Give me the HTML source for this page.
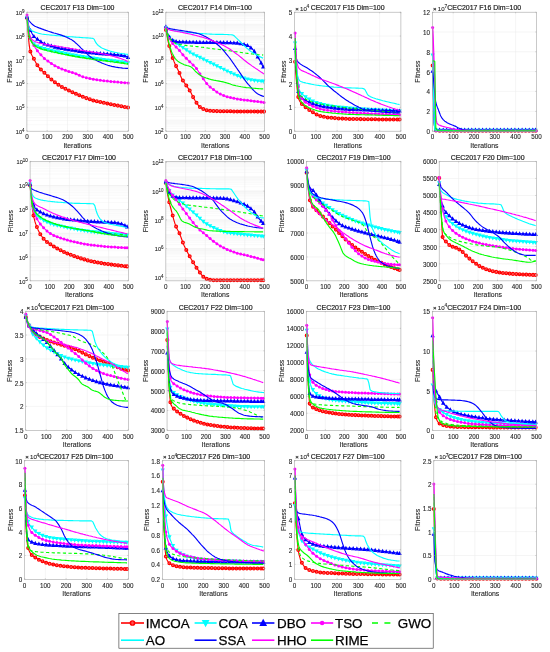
<!DOCTYPE html>
<html lang="en"><head><meta charset="utf-8"><title>CEC2017 convergence curves</title>
<style>html,body{margin:0;padding:0;background:#fff}svg{display:block}text{stroke:#1f1f1f;stroke-width:.1px}#legend text{stroke:#000;stroke-width:.25px}text.t{stroke-width:.2px}path.mIMCOA,path.mCOA,path.mDBO,path.mTSO{fill:none;stroke:none}path.mIMCOA{marker-start:url(#mkIMCOA);marker-mid:url(#mkIMCOA);marker-end:url(#mkIMCOA)}path.mCOA{marker-start:url(#mkCOA);marker-mid:url(#mkCOA);marker-end:url(#mkCOA)}path.mDBO{marker-start:url(#mkDBO);marker-mid:url(#mkDBO);marker-end:url(#mkDBO)}path.mTSO{marker-start:url(#mkTSO);marker-mid:url(#mkTSO);marker-end:url(#mkTSO)}</style></head><body>
<svg width="550" height="652" viewBox="0 0 550 652" font-family="'Liberation Sans', sans-serif">
<rect width="550" height="652" fill="#ffffff"/>
<defs><marker id="mkIMCOA" markerWidth="8" markerHeight="8" refX="4" refY="4" markerUnits="userSpaceOnUse" orient="0"><circle cx="4" cy="4" r="1.4" fill="#fff" fill-opacity="0.15" stroke="#ff0000" stroke-width="1.25"/></marker><marker id="mkCOA" markerWidth="8" markerHeight="8" refX="4" refY="4" markerUnits="userSpaceOnUse" orient="0"><path d="M4 6.4L6.16 2.32L1.84 2.32Z" fill="#00ffff"/></marker><marker id="mkDBO" markerWidth="8" markerHeight="8" refX="4" refY="4" markerUnits="userSpaceOnUse" orient="0"><path d="M4 1.6L6.16 5.68L1.84 5.68Z" fill="#0000ff"/></marker><marker id="mkTSO" markerWidth="8" markerHeight="8" refX="4" refY="4" markerUnits="userSpaceOnUse" orient="0"><circle cx="4" cy="4" r="1.5" fill="#ff00ff"/></marker><clipPath id="c1"><rect x="24.7" y="10" width="105.8" height="123.4"/></clipPath><clipPath id="c2"><rect x="163.65" y="10" width="103.05" height="123.4"/></clipPath><clipPath id="c3"><rect x="292.4" y="10" width="110.7" height="123.4"/></clipPath><clipPath id="c4"><rect x="430.2" y="10" width="108.4" height="123.4"/></clipPath><clipPath id="c5"><rect x="27.9" y="159.2" width="102.6" height="123.85"/></clipPath><clipPath id="c6"><rect x="163.65" y="159.2" width="103.05" height="123.85"/></clipPath><clipPath id="c7"><rect x="304.4" y="159.2" width="98.7" height="123.85"/></clipPath><clipPath id="c8"><rect x="437" y="159.2" width="101.6" height="123.85"/></clipPath><clipPath id="c9"><rect x="23.5" y="309.1" width="107" height="123.4"/></clipPath><clipPath id="c10"><rect x="164.85" y="309.1" width="101.85" height="123.4"/></clipPath><clipPath id="c11"><rect x="304.2" y="309.1" width="98.9" height="123.4"/></clipPath><clipPath id="c12"><rect x="430.2" y="309.1" width="108.4" height="123.4"/></clipPath><clipPath id="c13"><rect x="22.4" y="458.4" width="108.1" height="123.1"/></clipPath><clipPath id="c14"><rect x="160.2" y="458.4" width="106.5" height="123.1"/></clipPath><clipPath id="c15"><rect x="292.4" y="458.4" width="110.7" height="123.1"/></clipPath><clipPath id="c16"><rect x="431.6" y="458.4" width="107" height="123.1"/></clipPath></defs>
<g id="sp1">
<rect x="26.9" y="12.2" width="101.4" height="119" fill="#fff"/>
<path d="M26.9 28.94H128.3M26.9 24.72H128.3M26.9 21.73H128.3M26.9 19.41H128.3M26.9 17.51H128.3M26.9 15.91H128.3M26.9 14.52H128.3M26.9 13.3H128.3M26.9 52.89H128.3M26.9 48.67H128.3M26.9 45.68H128.3M26.9 43.36H128.3M26.9 41.46H128.3M26.9 39.86H128.3M26.9 38.47H128.3M26.9 37.25H128.3M26.9 36.15H128.3M26.9 76.84H128.3M26.9 72.63H128.3M26.9 69.63H128.3M26.9 67.31H128.3M26.9 65.42H128.3M26.9 63.81H128.3M26.9 62.42H128.3M26.9 61.2H128.3M26.9 60.1H128.3M26.9 100.8H128.3M26.9 96.58H128.3M26.9 93.58H128.3M26.9 91.26H128.3M26.9 89.37H128.3M26.9 87.76H128.3M26.9 86.37H128.3M26.9 85.15H128.3M26.9 84.05H128.3M26.9 124.75H128.3M26.9 120.53H128.3M26.9 117.54H128.3M26.9 115.22H128.3M26.9 113.32H128.3M26.9 111.72H128.3M26.9 110.33H128.3M26.9 109.1H128.3M26.9 108.01H128.3" stroke="#f2f2f2" stroke-width="0.45" fill="none"/>
<path d="M47.18 12.2V131.2M67.46 12.2V131.2M87.74 12.2V131.2M108.02 12.2V131.2M26.9 36.15H128.3M26.9 59.85H128.3M26.9 83.55H128.3M26.9 107.25H128.3" stroke="#ececec" stroke-width="0.55" fill="none"/>
<g clip-path="url(#c1)">
<path d="M27 18L27.5 26L28.1 32.7L28.6 38.7L29.1 44.1L29.7 48.3L30.2 50.7L30.7 52.5L31.3 53.9L31.8 55L32.3 56L32.9 57L33.4 57.9L33.9 58.9L34.5 59.9L35 61L36.3 63.6L37.7 65.7L39 67.5L40.4 69L41.7 70.3L43.1 71.6L44.4 72.8L45.8 74.1L47.1 75.5L48.5 76.8L49.8 78.1L51.2 79.3L52.5 80.4L53.9 81.5L55.2 82.5L56.6 83.5L57.9 84.4L59.3 85.3L60.6 86.2L62 87L63.3 87.7L64.7 88.5L66 89.2L67.3 89.8L68.7 90.5L70 91.1L71.4 91.7L72.7 92.3L74.1 93L75.4 93.6L76.8 94.2L78.1 94.8L79.5 95.4L80.8 95.9L82.2 96.5L83.5 97L84.9 97.5L86.2 98L87.6 98.5L88.9 99L90.3 99.5L91.6 99.9L93 100.3L94.3 100.6L95.7 101L97 101.3L98.3 101.6L99.7 101.9L101 102.2L102.4 102.5L103.7 102.8L105.1 103L106.4 103.3L107.8 103.6L109.1 103.8L110.5 104.1L111.8 104.4L113.2 104.6L114.5 104.9L115.9 105.2L117.2 105.5L118.6 105.7L119.9 106L121.3 106.3L122.6 106.5L124 106.7L125.3 107L126.7 107.2L128 107.4" fill="none" stroke="#ff0000" stroke-width="1.15" stroke-linejoin="round"/>
<path class="mIMCOA" d="M27 18L30.4 51.4L33.9 58.8L37.4 65.3L40.9 69.5L44.4 72.8L47.9 76.2L51.4 79.5L54.9 82.2L58.4 84.7L61.9 86.9L65.4 88.8L68.9 90.5L72.4 92.2L75.9 93.8L79.3 95.3L82.8 96.7L86.3 98.1L89.8 99.3L93.3 100.4L96.8 101.2L100.3 102L103.8 102.8L107.3 103.5L110.8 104.2L114.3 104.9L117.8 105.6L121.3 106.3L124.8 106.9L128 107.4"/>
<path d="M27 18L27.5 23.4L28.1 28.1L28.6 31.9L29.1 34.6L29.7 36.6L30.2 38.2L30.7 39.5L31.3 40.5L31.8 41.4L32.3 42.2L32.9 42.9L33.4 43.5L33.9 43.9L34.5 44.4L35 44.7L36.3 45.6L37.7 46.3L39 46.9L40.4 47.4L41.7 47.9L43.1 48.4L44.4 48.8L45.8 49.1L47.1 49.5L48.5 49.8L49.8 50.1L51.2 50.4L52.5 50.7L53.9 51L55.2 51.3L56.6 51.6L57.9 51.9L59.3 52.2L60.6 52.5L62 52.8L63.3 53.1L64.7 53.3L66 53.6L67.3 53.9L68.7 54.2L70 54.4L71.4 54.7L72.7 55L74.1 55.2L75.4 55.5L76.8 55.7L78.1 55.9L79.5 56.2L80.8 56.4L82.2 56.6L83.5 56.8L84.9 57L86.2 57.2L87.6 57.4L88.9 57.6L90.3 57.8L91.6 58L93 58.2L94.3 58.4L95.7 58.6L97 58.7L98.3 58.9L99.7 59.1L101 59.3L102.4 59.5L103.7 59.6L105.1 59.8L106.4 60L107.8 60.1L109.1 60.3L110.5 60.5L111.8 60.6L113.2 60.8L114.5 61L115.9 61.2L117.2 61.3L118.6 61.5L119.9 61.7L121.3 61.9L122.6 62.1L124 62.3L125.3 62.5L126.7 62.8L128 63" fill="none" stroke="#00ffff" stroke-width="1.15" stroke-linejoin="round"/>
<path class="mCOA" d="M27 18L30.4 38.7L33.9 43.9L37.4 46.1L40.9 47.6L44.4 48.7L47.9 49.6L51.4 50.5L54.9 51.3L58.4 52L61.9 52.8L65.4 53.5L68.9 54.2L72.4 54.9L75.9 55.5L79.3 56.2L82.8 56.7L86.3 57.3L89.8 57.8L93.3 58.2L96.8 58.7L100.3 59.2L103.8 59.6L107.3 60.1L110.8 60.5L114.3 61L117.8 61.4L121.3 61.9L124.8 62.4L128 63"/>
<path d="M27 17L27.5 20.3L28.1 23.2L28.6 25.6L29.1 27.4L29.7 28.8L30.2 30L30.7 31L31.3 32L31.8 33L32.3 34L32.9 35L33.4 35.8L33.9 36.4L34.5 37L35 37.4L36.3 38.4L37.7 39.3L39 40.3L40.4 41.3L41.7 42.2L43.1 43L44.4 43.7L45.8 44.3L47.1 44.7L48.5 45.1L49.8 45.4L51.2 45.9L52.5 46.3L53.9 46.7L55.2 47.1L56.6 47.4L57.9 47.7L59.3 47.9L60.6 48.2L62 48.5L63.3 48.7L64.7 48.9L66 49.2L67.3 49.4L68.7 49.6L70 49.8L71.4 50L72.7 50.2L74.1 50.4L75.4 50.6L76.8 50.8L78.1 51L79.5 51.2L80.8 51.4L82.2 51.6L83.5 51.8L84.9 51.9L86.2 52.1L87.6 52.3L88.9 52.4L90.3 52.5L91.6 52.7L93 52.8L94.3 52.9L95.7 53L97 53.2L98.3 53.3L99.7 53.4L101 53.5L102.4 53.6L103.7 53.7L105.1 53.8L106.4 53.9L107.8 54L109.1 54.1L110.5 54.2L111.8 54.3L113.2 54.4L114.5 54.5L115.9 54.6L117.2 54.7L118.6 54.9L119.9 55L121.3 55.2L122.6 55.3L124 55.6L125.3 56L126.7 56.5L128 57.2" fill="none" stroke="#0000ff" stroke-width="1.15" stroke-linejoin="round"/>
<path class="mDBO" d="M27 17L30.4 30.3L33.9 36.4L37.4 39.1L40.9 41.6L44.4 43.7L47.9 44.9L51.4 45.9L54.9 47L58.4 47.8L61.9 48.4L65.4 49.1L68.9 49.6L72.4 50.1L75.9 50.6L79.3 51.2L82.8 51.7L86.3 52.1L89.8 52.5L93.3 52.8L96.8 53.2L100.3 53.5L103.8 53.7L107.3 54L110.8 54.2L114.3 54.5L117.8 54.8L121.3 55.2L124.8 55.8L128 57.2"/>
<path d="M27 15L27.5 21.8L28.1 27.5L28.6 31.1L29.1 33.8L29.7 36L30.2 37.8L30.7 39.3L31.3 40.7L31.8 41.8L32.3 42.9L32.9 43.9L33.4 44.7L33.9 45.6L34.5 46.4L35 47.3L36.4 49.3L37.7 51.1L39.1 52.8L40.4 54.3L41.8 55.8L43.1 57.2L44.5 58.5L45.8 59.6L47.2 60.6L48.5 61.5L49.9 62.5L51.2 63.5L52.6 64.3L53.9 65.1L55.3 65.9L56.6 66.6L58 67.3L59.3 67.9L60.7 68.5L62 69L63.4 69.5L64.7 70.1L66.1 70.6L67.4 71.1L68.8 71.6L70.1 72L71.5 72.4L72.8 72.7L74.2 73.1L75.5 73.5L76.9 74.1L78.2 74.7L79.6 75.3L80.9 76L82.3 76.5L83.6 77L85 77.3L86.3 77.7L87.7 78L89 78.3L90.4 78.6L91.7 78.9L93.1 79.2L94.4 79.4L95.8 79.6L97.1 79.9L98.5 80L99.8 80.2L101.2 80.4L102.5 80.6L103.9 80.7L105.2 80.9L106.6 81L107.9 81.2L109.3 81.4L110.6 81.5L112 81.6L113.3 81.7L114.7 81.9L116 82L117.4 82.1L118.7 82.2L120.1 82.3L121.4 82.4L122.8 82.5L124.1 82.6L125.5 82.7L126.8 82.8L128.2 82.9" fill="none" stroke="#ff00ff" stroke-width="1.15" stroke-linejoin="round"/>
<path class="mTSO" d="M27 15L30.4 38.4L33.9 45.5L37.4 50.7L40.9 54.8L44.4 58.5L47.9 61.1L51.4 63.6L54.9 65.7L58.4 67.5L61.9 69L65.4 70.3L68.9 71.6L72.4 72.6L75.9 73.7L79.3 75.2L82.8 76.7L86.3 77.7L89.8 78.5L93.3 79.2L96.8 79.8L100.3 80.3L103.8 80.7L107.3 81.1L110.8 81.5L114.3 81.8L117.8 82.1L121.3 82.4L124.8 82.7L128.2 82.9"/>
<path d="M27 18L27.5 23.3L28.1 28L28.6 31.8L29.1 34.6L29.7 36.7L30.2 38.4L30.7 39.8L31.3 40.9L31.8 41.9L32.3 42.7L32.9 43.4L33.4 44.1L33.9 44.5L34.5 45L35 45.3L36.3 46.2L37.7 46.9L39 47.5L40.4 48L41.7 48.5L43.1 49L44.4 49.4L45.8 49.7L47.1 50.1L48.5 50.4L49.8 50.7L51.2 51L52.5 51.3L53.9 51.6L55.2 51.9L56.6 52.2L57.9 52.5L59.3 52.8L60.6 53.1L62 53.4L63.3 53.7L64.7 53.9L66 54.2L67.3 54.5L68.7 54.8L70 55L71.4 55.3L72.7 55.6L74.1 55.8L75.4 56.1L76.8 56.3L78.1 56.5L79.5 56.8L80.8 57L82.2 57.2L83.5 57.4L84.9 57.6L86.2 57.8L87.6 58L88.9 58.2L90.3 58.4L91.6 58.6L93 58.8L94.3 59L95.7 59.2L97 59.3L98.3 59.5L99.7 59.7L101 59.9L102.4 60.1L103.7 60.2L105.1 60.4L106.4 60.6L107.8 60.7L109.1 60.9L110.5 61.1L111.8 61.2L113.2 61.4L114.5 61.6L115.9 61.8L117.2 61.9L118.6 62.1L119.9 62.3L121.3 62.5L122.6 62.7L124 62.9L125.3 63.1L126.7 63.4L128 63.6" fill="none" stroke="#00ff00" stroke-width="1.15" stroke-linejoin="round" stroke-dasharray="3.2 2.4"/>
<path d="M27 16L27.5 20.8L28.1 24.6L28.6 26.5L29.1 27.7L29.7 28.6L30.2 29.3L30.7 29.8L31.3 30.2L31.8 30.6L32.3 30.9L32.9 31.2L33.4 31.4L33.9 31.7L34.5 31.9L35 32.1L36.3 32.5L37.7 33L39 33.4L40.4 33.7L41.7 34L43.1 34.2L44.4 34.4L45.8 34.5L47.1 34.7L48.5 34.8L49.8 35L51.2 35.1L52.5 35.2L53.9 35.3L55.2 35.4L56.6 35.6L57.9 35.7L59.3 35.8L60.6 35.9L62 36L63.3 36.1L64.7 36.2L66 36.3L67.3 36.5L68.7 36.6L70 36.7L71.4 36.8L72.7 36.9L74.1 37L75.4 37.1L76.8 37.2L78.1 37.3L79.5 37.4L80.8 37.5L82.2 37.6L83.5 37.7L84.9 37.8L86.2 37.9L87.6 37.9L88.9 38L90.3 38.1L91.6 38.3L93 38.4L94.3 39.4L95.7 42.4L97 44.2L98.3 45.5L99.7 46.5L101 47.5L102.4 48.2L103.7 48.8L105.1 49.4L106.4 49.9L107.8 50.4L109.1 50.8L110.5 51.2L111.8 51.6L113.2 51.9L114.5 52.2L115.9 52.5L117.2 52.8L118.6 53L119.9 53.3L121.3 53.5L122.6 53.7L124 53.9L125.3 54.1L126.7 54.2L128 54.4" fill="none" stroke="#00ffff" stroke-width="1.15" stroke-linejoin="round"/>
<path d="M27 17L27.5 18.1L28.1 19.1L28.6 20L29.1 20.8L29.7 21.5L30.2 22.1L30.7 22.7L31.3 23.3L31.8 23.8L32.3 24.3L32.9 24.8L33.4 25.2L33.9 25.6L34.5 25.9L35 26.2L36.3 26.8L37.7 27.4L39 27.9L40.4 28.4L41.7 28.9L43.1 29.4L44.4 29.9L45.8 30.4L47.1 30.8L48.5 31.3L49.8 31.7L51.2 32.1L52.5 32.6L53.9 33L55.2 33.3L56.6 33.7L57.9 34.1L59.3 34.5L60.6 34.9L62 35.4L63.3 35.9L64.7 36.4L66 37L67.3 37.6L68.7 38.2L70 38.9L71.4 39.6L72.7 40.5L74.1 41.5L75.4 42.7L76.8 43.9L78.1 45.1L79.5 46.4L80.8 47.8L82.2 49.2L83.5 50.5L84.9 51.8L86.2 53.1L87.6 54.4L88.9 55.6L90.3 56.7L91.6 57.7L93 58.6L94.3 59.4L95.7 60.1L97 60.8L98.3 61.4L99.7 62L101 62.6L102.4 63.2L103.7 63.7L105.1 64.2L106.4 64.7L107.8 65.2L109.1 65.6L110.5 66L111.8 66.4L113.2 66.6L114.5 66.9L115.9 67.2L117.2 67.4L118.6 67.6L119.9 67.8L121.3 67.9L122.6 68.1L124 68.2L125.3 68.3L126.7 68.3L128 68.4" fill="none" stroke="#0000ff" stroke-width="1.15" stroke-linejoin="round"/>
<path d="M27 16L27.5 21.4L28.1 26.1L28.6 29.9L29.1 32.6L29.7 34.6L30.2 36.3L30.7 37.5L31.3 38.4L31.8 39.1L32.3 39.7L32.9 40.2L33.4 40.6L33.9 41L34.5 41.2L35 41.5L36.3 42L37.7 42.5L39 42.9L40.4 43.2L41.7 43.5L43.1 43.8L44.4 44.1L45.8 44.4L47.1 44.7L48.5 44.9L49.8 45.1L51.2 45.3L52.5 45.5L53.9 45.7L55.2 45.9L56.6 46.1L57.9 46.3L59.3 46.6L60.6 46.8L62 47L63.3 47.2L64.7 47.5L66 47.7L67.3 47.9L68.7 48.1L70 48.4L71.4 48.6L72.7 48.8L74.1 49.1L75.4 49.3L76.8 49.5L78.1 49.8L79.5 50L80.8 50.2L82.2 50.4L83.5 50.6L84.9 50.9L86.2 51.1L87.6 51.3L88.9 51.5L90.3 51.7L91.6 51.9L93 52.1L94.3 52.3L95.7 52.5L97 52.7L98.3 52.9L99.7 53.2L101 53.4L102.4 53.7L103.7 54L105.1 54.3L106.4 54.6L107.8 54.9L109.1 55.2L110.5 55.6L111.8 56L113.2 56.3L114.5 56.7L115.9 57.1L117.2 57.4L118.6 57.9L119.9 58.3L121.3 58.7L122.6 59.2L124 59.8L125.3 60.3L126.7 61L128 61.6" fill="none" stroke="#ff00ff" stroke-width="1.15" stroke-linejoin="round"/>
<path d="M27 18L27.5 23.7L28.1 28.8L28.6 32.8L29.1 35.6L29.7 37.6L30.2 39.2L30.7 40.5L31.3 41.5L31.8 42.5L32.3 43.3L32.9 44L33.4 44.6L33.9 45.1L34.5 45.6L35 45.9L36.3 46.8L37.7 47.5L39 48.1L40.4 48.6L41.7 49.1L43.1 49.6L44.4 50L45.8 50.3L47.1 50.7L48.5 51L49.8 51.3L51.2 51.6L52.5 51.9L53.9 52.2L55.2 52.5L56.6 52.8L57.9 53.1L59.3 53.4L60.6 53.7L62 54L63.3 54.3L64.7 54.5L66 54.8L67.3 55.1L68.7 55.4L70 55.6L71.4 55.9L72.7 56.2L74.1 56.4L75.4 56.7L76.8 56.9L78.1 57.1L79.5 57.4L80.8 57.6L82.2 57.8L83.5 58L84.9 58.2L86.2 58.4L87.6 58.6L88.9 58.8L90.3 59L91.6 59.2L93 59.4L94.3 59.6L95.7 59.8L97 59.9L98.3 60.1L99.7 60.3L101 60.5L102.4 60.7L103.7 60.8L105.1 61L106.4 61.2L107.8 61.3L109.1 61.5L110.5 61.7L111.8 61.8L113.2 62L114.5 62.2L115.9 62.4L117.2 62.5L118.6 62.7L119.9 62.9L121.3 63.1L122.6 63.3L124 63.5L125.3 63.7L126.7 64L128 64.2" fill="none" stroke="#00ff00" stroke-width="1.15" stroke-linejoin="round"/>
</g>
<rect x="26.9" y="12.2" width="101.4" height="119" fill="none" stroke="#a6a6a6" stroke-width="0.6"/>
<path d="M26.9 131.2v-1.1M26.9 12.2v1.1M47.18 131.2v-1.1M47.18 12.2v1.1M67.46 131.2v-1.1M67.46 12.2v1.1M87.74 131.2v-1.1M87.74 12.2v1.1M108.02 131.2v-1.1M108.02 12.2v1.1M128.3 131.2v-1.1M128.3 12.2v1.1M26.9 12.2h1.1M128.3 12.2h-1.1M26.9 36.15h1.1M128.3 36.15h-1.1M26.9 59.85h1.1M128.3 59.85h-1.1M26.9 83.55h1.1M128.3 83.55h-1.1M26.9 107.25h1.1M128.3 107.25h-1.1M26.9 131.2h1.1M128.3 131.2h-1.1" stroke="#a6a6a6" stroke-width="0.5" fill="none"/>
<text x="26.9" y="139.4" font-size="6.3" text-anchor="middle" fill="#1f1f1f">0</text>
<text x="47.18" y="139.4" font-size="6.3" text-anchor="middle" fill="#1f1f1f">100</text>
<text x="67.46" y="139.4" font-size="6.3" text-anchor="middle" fill="#1f1f1f">200</text>
<text x="87.74" y="139.4" font-size="6.3" text-anchor="middle" fill="#1f1f1f">300</text>
<text x="108.02" y="139.4" font-size="6.3" text-anchor="middle" fill="#1f1f1f">400</text>
<text x="128.3" y="139.4" font-size="6.3" text-anchor="middle" fill="#1f1f1f">500</text>
<text x="24.6" y="15.1" font-size="5.6" text-anchor="end" fill="#1f1f1f">10<tspan dy="-2.3" font-size="4.5">9</tspan></text>
<text x="24.6" y="39.05" font-size="5.6" text-anchor="end" fill="#1f1f1f">10<tspan dy="-2.3" font-size="4.5">8</tspan></text>
<text x="24.6" y="62.75" font-size="5.6" text-anchor="end" fill="#1f1f1f">10<tspan dy="-2.3" font-size="4.5">7</tspan></text>
<text x="24.6" y="86.45" font-size="5.6" text-anchor="end" fill="#1f1f1f">10<tspan dy="-2.3" font-size="4.5">6</tspan></text>
<text x="24.6" y="110.15" font-size="5.6" text-anchor="end" fill="#1f1f1f">10<tspan dy="-2.3" font-size="4.5">5</tspan></text>
<text x="24.6" y="134.1" font-size="5.6" text-anchor="end" fill="#1f1f1f">10<tspan dy="-2.3" font-size="4.5">4</tspan></text>
<text x="77.6" y="147.8" font-size="6.9" text-anchor="middle" fill="#1f1f1f">Iterations</text>
<text transform="translate(11.97 71.7) rotate(-90)" font-size="6.9" text-anchor="middle" fill="#1f1f1f">Fitness</text>
<text x="77.45" y="10.4" font-size="6.95" text-anchor="middle" fill="#1f1f1f" class="t">CEC2017 F13 Dim=100</text>
</g>
<g id="sp2">
<rect x="165.85" y="12.2" width="98.65" height="119" fill="#fff"/>
<path d="M165.85 20.57H264.5M165.85 18.46H264.5M165.85 16.97H264.5M165.85 15.81H264.5M165.85 14.86H264.5M165.85 14.06H264.5M165.85 13.36H264.5M165.85 12.75H264.5M165.85 32.55H264.5M165.85 30.44H264.5M165.85 28.94H264.5M165.85 27.78H264.5M165.85 26.83H264.5M165.85 26.03H264.5M165.85 25.34H264.5M165.85 24.72H264.5M165.85 24.18H264.5M165.85 44.52H264.5M165.85 42.41H264.5M165.85 40.92H264.5M165.85 39.76H264.5M165.85 38.81H264.5M165.85 38.01H264.5M165.85 37.31H264.5M165.85 36.7H264.5M165.85 36.15H264.5M165.85 56.5H264.5M165.85 54.39H264.5M165.85 52.89H264.5M165.85 51.73H264.5M165.85 50.78H264.5M165.85 49.98H264.5M165.85 49.29H264.5M165.85 48.67H264.5M165.85 48.13H264.5M165.85 68.47H264.5M165.85 66.36H264.5M165.85 64.87H264.5M165.85 63.71H264.5M165.85 62.76H264.5M165.85 61.96H264.5M165.85 61.26H264.5M165.85 60.65H264.5M165.85 60.1H264.5M165.85 80.45H264.5M165.85 78.34H264.5M165.85 76.84H264.5M165.85 75.68H264.5M165.85 74.73H264.5M165.85 73.93H264.5M165.85 73.24H264.5M165.85 72.63H264.5M165.85 72.08H264.5M165.85 92.42H264.5M165.85 90.32H264.5M165.85 88.82H264.5M165.85 87.66H264.5M165.85 86.71H264.5M165.85 85.91H264.5M165.85 85.21H264.5M165.85 84.6H264.5M165.85 84.05H264.5M165.85 104.4H264.5M165.85 102.29H264.5M165.85 100.8H264.5M165.85 99.63H264.5M165.85 98.69H264.5M165.85 97.88H264.5M165.85 97.19H264.5M165.85 96.58H264.5M165.85 96.03H264.5M165.85 116.38H264.5M165.85 114.27H264.5M165.85 112.77H264.5M165.85 111.61H264.5M165.85 110.66H264.5M165.85 109.86H264.5M165.85 109.17H264.5M165.85 108.55H264.5M165.85 108.01H264.5M165.85 128.35H264.5M165.85 126.24H264.5M165.85 124.75H264.5M165.85 123.59H264.5M165.85 122.64H264.5M165.85 121.84H264.5M165.85 121.14H264.5M165.85 120.53H264.5M165.85 119.98H264.5" stroke="#f2f2f2" stroke-width="0.45" fill="none"/>
<path d="M185.58 12.2V131.2M205.31 12.2V131.2M225.04 12.2V131.2M244.77 12.2V131.2M165.85 36.15H264.5M165.85 59.85H264.5M165.85 83.55H264.5M165.85 107.25H264.5" stroke="#ececec" stroke-width="0.55" fill="none"/>
<g clip-path="url(#c2)">
<path d="M166 30L166.5 33.3L167.1 36.3L167.6 39L168.1 41.4L168.7 43.6L169.2 45.8L169.7 47.9L170.3 50L170.8 52L171.3 53.9L171.9 55.6L172.4 57.2L172.9 58.7L173.5 60.1L174 61.4L175.3 64.4L176.6 67.3L177.9 69.8L179.2 72.5L180.5 75.7L181.8 78.7L183.1 80.9L184.4 82.8L185.7 84.6L187 86.5L188.3 88.4L189.7 90.4L191 92.8L192.3 95.6L193.6 98L194.9 100.3L196.2 102.3L197.5 104.1L198.8 105.8L200.1 107.1L201.4 108L202.7 108.7L204 109.3L205.3 109.8L206.6 110.1L207.9 110.4L209.2 110.7L210.5 110.9L211.8 111L213.1 111L214.4 111.1L215.7 111.1L217 111.1L218.3 111.2L219.7 111.2L221 111.2L222.3 111.2L223.6 111.3L224.9 111.3L226.2 111.3L227.5 111.3L228.8 111.3L230.1 111.3L231.4 111.3L232.7 111.4L234 111.4L235.3 111.4L236.6 111.4L237.9 111.4L239.2 111.4L240.5 111.4L241.8 111.4L243.1 111.5L244.4 111.5L245.7 111.5L247 111.5L248.3 111.5L249.7 111.5L251 111.5L252.3 111.5L253.6 111.5L254.9 111.5L256.2 111.6L257.5 111.6L258.8 111.6L260.1 111.6L261.4 111.6L262.7 111.6L264 111.6" fill="none" stroke="#ff0000" stroke-width="1.15" stroke-linejoin="round"/>
<path class="mIMCOA" d="M166 30L169.3 46L172.7 57.9L176.1 66.1L179.5 73L182.9 80.5L186.3 85.4L189.7 90.4L193.1 97.1L196.5 102.7L199.9 106.9L203.3 109L206.7 110.2L210.1 110.8L213.5 111L216.9 111.1L220.3 111.2L223.7 111.3L227.1 111.3L230.5 111.3L233.9 111.4L237.3 111.4L240.7 111.4L244.1 111.5L247.5 111.5L250.9 111.5L254.3 111.5L257.7 111.6L261.1 111.6L264 111.6"/>
<path d="M165.8 27.8L166.4 29.6L166.9 31.4L167.4 33L168 34.5L168.5 35.9L169 37L169.6 37.9L170.1 38.5L170.7 39.1L171.2 39.6L171.7 40.1L172.2 40.5L172.8 40.9L173.3 41.2L173.8 41.6L175.1 42.4L176.4 43.3L177.7 44.2L179 45.1L180.3 46L181.6 46.8L182.9 47.6L184.2 48.5L185.5 49.4L186.8 50.3L188.1 51.2L189.4 52.1L190.7 52.9L192 53.6L193.3 54.3L194.6 54.9L195.9 55.6L197.2 56.2L198.5 56.8L199.8 57.4L201.1 58.1L202.4 58.7L203.6 59.4L204.9 60L206.2 60.7L207.5 61.3L208.8 62L210.1 62.6L211.4 63.3L212.7 63.9L214 64.6L215.3 65.2L216.6 65.9L217.9 66.5L219.2 67.2L220.5 67.8L221.8 68.5L223.1 69.1L224.4 69.7L225.7 70.4L227 71L228.3 71.6L229.6 72.2L230.9 72.9L232.1 73.5L233.4 74L234.7 74.6L236 75.1L237.3 75.6L238.6 76.2L239.9 76.7L241.2 77.2L242.5 77.7L243.8 78.1L245.1 78.6L246.4 78.9L247.7 79.3L249 79.5L250.3 79.8L251.6 80L252.9 80.2L254.2 80.4L255.5 80.6L256.8 80.8L258.1 81L259.4 81.1L260.7 81.2L261.9 81.3L263.2 81.3" fill="none" stroke="#00ffff" stroke-width="1.15" stroke-linejoin="round"/>
<path class="mCOA" d="M165.8 27.8L169.3 37.4L172.7 40.8L176.1 43.1L179.5 45.4L182.9 47.6L186.3 49.9L189.7 52.2L193.1 54.2L196.5 55.9L199.9 57.5L203.3 59.2L206.7 60.9L210.1 62.6L213.5 64.3L216.9 66L220.3 67.7L223.7 69.4L227.1 71.1L230.5 72.7L233.9 74.2L237.3 75.6L240.7 77L244.1 78.2L247.5 79.2L250.9 79.9L254.3 80.5L257.7 80.9L261.1 81.2L263.2 81.3"/>
<path d="M165.8 26.6L166.4 28.9L166.9 31.1L167.4 33L168 34.6L168.5 35.7L169 36.6L169.6 37.4L170.1 38.1L170.7 38.8L171.2 39.3L171.7 39.7L172.2 40L172.8 40.2L173.3 40.5L173.8 40.7L175.1 41.1L176.4 41.4L177.7 41.6L179 41.7L180.3 41.8L181.6 41.8L182.9 41.9L184.2 41.9L185.5 42L186.8 42L188.1 42L189.4 42.1L190.7 42.1L192 42.1L193.3 42.1L194.6 42.1L195.9 42.2L197.2 42.2L198.5 42.2L199.8 42.2L201.1 42.2L202.4 42.2L203.6 42.3L204.9 42.3L206.2 42.3L207.5 42.3L208.8 42.3L210.1 42.3L211.4 42.3L212.7 42.3L214 42.3L215.3 42.4L216.6 42.4L217.9 42.4L219.2 42.4L220.5 42.4L221.8 42.4L223.1 42.4L224.4 42.5L225.7 42.5L227 42.5L228.3 42.6L229.6 42.6L230.9 42.7L232.1 42.7L233.4 42.8L234.7 42.9L236 42.9L237.3 43L238.6 43.2L239.9 43.4L241.2 43.6L242.5 43.9L243.8 44.2L245.1 44.6L246.4 45L247.7 45.5L249 46.3L250.3 47.2L251.6 48.3L252.9 49.5L254.2 51.1L255.5 53.1L256.8 55.2L258.1 57.4L259.4 59.6L260.7 62L261.9 64.4L263.2 66.9" fill="none" stroke="#0000ff" stroke-width="1.15" stroke-linejoin="round"/>
<path class="mDBO" d="M165.8 26.6L169.3 36.9L172.7 40.2L176.1 41.4L179.5 41.8L182.9 41.9L186.3 42L189.7 42.1L193.1 42.1L196.5 42.2L199.9 42.2L203.3 42.3L206.7 42.3L210.1 42.3L213.5 42.3L216.9 42.4L220.3 42.4L223.7 42.5L227.1 42.5L230.5 42.6L233.9 42.8L237.3 43L240.7 43.5L244.1 44.3L247.5 45.4L250.9 47.7L254.3 51.2L257.7 56.8L261.1 62.8L263.2 66.9"/>
<path d="M166 27.6L166.5 30.2L167.1 32.7L167.6 34.8L168.1 36.3L168.7 37.5L169.2 38.6L169.7 39.5L170.3 40.4L170.8 41.1L171.3 41.9L171.9 42.5L172.4 43.2L172.9 43.8L173.5 44.4L174 45L175.3 46.4L176.6 47.6L177.9 48.9L179.2 50.4L180.5 51.9L181.8 53.5L183.1 55L184.4 56.5L185.7 57.8L187 59.1L188.3 60.4L189.7 61.7L191 62.9L192.3 64.2L193.6 65.4L194.9 66.7L196.2 68.2L197.5 70L198.8 72L200.1 74.1L201.4 76.1L202.7 78L204 79.9L205.3 81.7L206.6 83.4L207.9 84.9L209.2 86.2L210.5 87.3L211.8 88.4L213.1 89.4L214.4 90.3L215.7 91.3L217 92.2L218.3 93.1L219.7 93.8L221 94.5L222.3 95L223.6 95.6L224.9 96L226.2 96.5L227.5 96.9L228.8 97.2L230.1 97.5L231.4 97.8L232.7 98.1L234 98.3L235.3 98.5L236.6 98.8L237.9 99L239.2 99.2L240.5 99.4L241.8 99.6L243.1 99.8L244.4 99.9L245.7 100.1L247 100.3L248.3 100.4L249.7 100.6L251 100.8L252.3 100.9L253.6 101.1L254.9 101.2L256.2 101.4L257.5 101.5L258.8 101.7L260.1 101.9L261.4 102L262.7 102.2L264 102.4" fill="none" stroke="#ff00ff" stroke-width="1.15" stroke-linejoin="round"/>
<path class="mTSO" d="M166 27.6L169.3 38.6L172.7 43.4L176.1 47.1L179.5 50.6L182.9 54.7L186.3 58.3L189.7 61.7L193.1 64.9L196.5 68.6L199.9 73.7L203.3 78.8L206.7 83.5L210.1 86.9L213.5 89.6L216.9 92.1L220.3 94.1L223.7 95.6L227.1 96.7L230.5 97.6L233.9 98.3L237.3 98.9L240.7 99.4L244.1 99.9L247.5 100.3L250.9 100.8L254.3 101.2L257.7 101.6L261.1 102L264 102.4"/>
<path d="M165.8 27.8L166.4 29.6L166.9 31.3L167.4 32.9L168 34.4L168.5 35.8L169 36.9L169.6 37.9L170.1 38.6L170.7 39.4L171.2 40L171.7 40.7L172.2 41.2L172.8 41.7L173.3 42.2L173.8 42.5L175.1 43.1L176.4 43.6L177.7 44L179 44.3L180.3 44.6L181.6 44.8L182.9 45L184.2 45.2L185.5 45.4L186.8 45.6L188.1 45.7L189.4 45.9L190.7 46L192 46.1L193.3 46.2L194.6 46.3L195.9 46.5L197.2 46.6L198.5 46.7L199.8 46.9L201.1 47.1L202.4 47.2L203.6 47.4L204.9 47.6L206.2 47.8L207.5 48L208.8 48.2L210.1 48.4L211.4 48.5L212.7 48.7L214 48.9L215.3 49L216.6 49.2L217.9 49.3L219.2 49.5L220.5 49.6L221.8 49.8L223.1 49.9L224.4 50.1L225.7 50.3L227 50.5L228.3 50.6L229.6 50.8L230.9 51L232.1 51.2L233.4 51.4L234.7 51.6L236 51.7L237.3 51.9L238.6 52.1L239.9 52.3L241.2 52.5L242.5 52.7L243.8 52.9L245.1 53.1L246.4 53.2L247.7 53.4L249 53.6L250.3 53.7L251.6 53.9L252.9 54L254.2 54.2L255.5 54.3L256.8 54.4L258.1 54.6L259.4 54.7L260.7 54.8L261.9 54.9L263.2 55.1" fill="none" stroke="#00ff00" stroke-width="1.15" stroke-linejoin="round" stroke-dasharray="3.2 2.4"/>
<path d="M165.8 26.6L166.4 27L166.9 27.4L167.4 27.9L168 28.3L168.5 28.6L169 29L169.6 29.3L170.1 29.6L170.7 29.8L171.2 29.9L171.7 30.1L172.2 30.2L172.8 30.3L173.3 30.5L173.8 30.6L175.1 30.8L176.4 31L177.7 31.2L179 31.4L180.3 31.5L181.6 31.7L182.9 31.9L184.2 32L185.5 32.2L186.8 32.3L188.1 32.5L189.4 32.6L190.7 32.7L192 32.8L193.3 33L194.6 33.1L195.9 33.2L197.2 33.3L198.5 33.4L199.8 33.5L201.1 33.6L202.4 33.6L203.6 33.7L204.9 33.8L206.2 33.9L207.5 34L208.8 34L210.1 34.1L211.4 34.1L212.7 34.2L214 34.2L215.3 34.3L216.6 34.3L217.9 34.3L219.2 34.4L220.5 34.4L221.8 34.4L223.1 34.4L224.4 34.5L225.7 34.5L227 34.5L228.3 34.6L229.6 34.7L230.9 34.8L232.1 34.9L233.4 35.2L234.7 36.3L236 37.7L237.3 38.9L238.6 40.1L239.9 41.5L241.2 42.9L242.5 44.2L243.8 45.4L245.1 46.6L246.4 47.8L247.7 48.9L249 50L250.3 51L251.6 51.9L252.9 52.7L254.2 53.6L255.5 54.3L256.8 55.1L258.1 55.8L259.4 56.4L260.7 57.1L261.9 57.6L263.2 58.1" fill="none" stroke="#00ffff" stroke-width="1.15" stroke-linejoin="round"/>
<path d="M166 27.6L166.5 27.7L167.1 27.9L167.6 28L168.1 28.2L168.7 28.3L169.2 28.4L169.7 28.5L170.3 28.7L170.8 28.8L171.3 28.9L171.9 29L172.4 29.1L172.9 29.2L173.5 29.3L174 29.3L175.3 29.6L176.6 29.8L177.9 30L179.2 30.2L180.5 30.4L181.8 30.6L183.1 30.8L184.4 31L185.7 31.2L187 31.4L188.3 31.7L189.7 31.9L191 32.1L192.3 32.3L193.6 32.6L194.9 32.8L196.2 33.1L197.5 33.5L198.8 33.8L200.1 34.3L201.4 34.8L202.7 35.3L204 35.9L205.3 36.6L206.6 37.3L207.9 38L209.2 38.7L210.5 39.5L211.8 40.3L213.1 41.2L214.4 42.1L215.7 43.1L217 44.2L218.3 45.3L219.7 46.5L221 47.8L222.3 49.2L223.6 50.7L224.9 52.2L226.2 53.8L227.5 55.4L228.8 57L230.1 58.7L231.4 60.5L232.7 62.4L234 64.2L235.3 66.1L236.6 68L237.9 69.9L239.2 71.7L240.5 73.6L241.8 75.6L243.1 77.5L244.4 79.4L245.7 81.2L247 82.8L248.3 84.4L249.7 85.9L251 87.5L252.3 89L253.6 90.4L254.9 91.6L256.2 92.8L257.5 93.7L258.8 94.4L260.1 95.1L261.4 95.6L262.7 96.1L264 96.4" fill="none" stroke="#0000ff" stroke-width="1.15" stroke-linejoin="round"/>
<path d="M166 27.6L166.5 28L167.1 28.4L167.6 28.7L168.1 29.1L168.7 29.4L169.2 29.7L169.7 29.9L170.3 30.1L170.8 30.2L171.3 30.4L171.9 30.5L172.4 30.6L172.9 30.7L173.5 30.8L174 30.9L175.3 31.1L176.6 31.3L177.9 31.6L179.2 31.8L180.5 32.1L181.8 32.3L183.1 32.6L184.4 32.9L185.7 33.1L187 33.4L188.3 33.7L189.7 34L191 34.3L192.3 34.6L193.6 34.9L194.9 35.2L196.2 35.5L197.5 35.9L198.8 36.2L200.1 36.6L201.4 36.9L202.7 37.3L204 37.7L205.3 38.1L206.6 38.5L207.9 39L209.2 39.4L210.5 39.9L211.8 40.4L213.1 40.9L214.4 41.5L215.7 42L217 42.6L218.3 43.2L219.7 43.7L221 44.3L222.3 45L223.6 45.6L224.9 46.3L226.2 47L227.5 47.7L228.8 48.5L230.1 49.3L231.4 50.2L232.7 51.1L234 52L235.3 53L236.6 54L237.9 54.9L239.2 55.9L240.5 57L241.8 58L243.1 59.1L244.4 60.2L245.7 61.2L247 62.3L248.3 63.3L249.7 64.2L251 65.1L252.3 66.1L253.6 67L254.9 67.9L256.2 68.8L257.5 69.6L258.8 70.5L260.1 71.4L261.4 72.3L262.7 73.1L264 74" fill="none" stroke="#ff00ff" stroke-width="1.15" stroke-linejoin="round"/>
<path d="M165.8 27.8L166.4 30.8L166.9 33.7L167.4 36.3L168 38.8L168.5 41L169 43.2L169.6 45.2L170.1 47.2L170.7 49L171.2 50.6L171.7 52.1L172.2 53.3L172.8 54.3L173.3 55.4L173.8 56.3L175.1 58.3L176.4 59.9L177.7 61.1L179 62L180.3 62.8L181.6 63.5L182.9 64.1L184.2 64.7L185.5 65.1L186.8 65.5L188.1 65.8L189.4 66.2L190.7 66.7L192 67.6L193.3 68.9L194.6 70.4L195.9 71.8L197.2 72.9L198.5 74L199.8 74.9L201.1 75.7L202.4 76.4L203.6 77L204.9 77.5L206.2 78L207.5 78.4L208.8 78.9L210.1 79.2L211.4 79.6L212.7 79.9L214 80.2L215.3 80.4L216.6 80.7L217.9 80.9L219.2 81.1L220.5 81.4L221.8 81.6L223.1 81.9L224.4 82.2L225.7 82.6L227 83L228.3 83.4L229.6 83.8L230.9 84.3L232.1 84.7L233.4 85.1L234.7 85.4L236 85.8L237.3 86L238.6 86.3L239.9 86.5L241.2 86.8L242.5 87L243.8 87.2L245.1 87.4L246.4 87.6L247.7 87.7L249 87.8L250.3 88L251.6 88.1L252.9 88.2L254.2 88.3L255.5 88.4L256.8 88.5L258.1 88.6L259.4 88.7L260.7 88.8L261.9 88.8L263.2 88.8" fill="none" stroke="#00ff00" stroke-width="1.15" stroke-linejoin="round"/>
</g>
<rect x="165.85" y="12.2" width="98.65" height="119" fill="none" stroke="#a6a6a6" stroke-width="0.6"/>
<path d="M165.85 131.2v-1.1M165.85 12.2v1.1M185.58 131.2v-1.1M185.58 12.2v1.1M205.31 131.2v-1.1M205.31 12.2v1.1M225.04 131.2v-1.1M225.04 12.2v1.1M244.77 131.2v-1.1M244.77 12.2v1.1M264.5 131.2v-1.1M264.5 12.2v1.1M165.85 12.2h1.1M264.5 12.2h-1.1M165.85 36.15h1.1M264.5 36.15h-1.1M165.85 59.85h1.1M264.5 59.85h-1.1M165.85 83.55h1.1M264.5 83.55h-1.1M165.85 107.25h1.1M264.5 107.25h-1.1M165.85 131.2h1.1M264.5 131.2h-1.1" stroke="#a6a6a6" stroke-width="0.5" fill="none"/>
<text x="165.85" y="139.4" font-size="6.3" text-anchor="middle" fill="#1f1f1f">0</text>
<text x="185.58" y="139.4" font-size="6.3" text-anchor="middle" fill="#1f1f1f">100</text>
<text x="205.31" y="139.4" font-size="6.3" text-anchor="middle" fill="#1f1f1f">200</text>
<text x="225.04" y="139.4" font-size="6.3" text-anchor="middle" fill="#1f1f1f">300</text>
<text x="244.77" y="139.4" font-size="6.3" text-anchor="middle" fill="#1f1f1f">400</text>
<text x="264.5" y="139.4" font-size="6.3" text-anchor="middle" fill="#1f1f1f">500</text>
<text x="163.55" y="15.1" font-size="5.6" text-anchor="end" fill="#1f1f1f">10<tspan dy="-2.3" font-size="4.5">12</tspan></text>
<text x="163.55" y="39.05" font-size="5.6" text-anchor="end" fill="#1f1f1f">10<tspan dy="-2.3" font-size="4.5">10</tspan></text>
<text x="163.55" y="62.75" font-size="5.6" text-anchor="end" fill="#1f1f1f">10<tspan dy="-2.3" font-size="4.5">8</tspan></text>
<text x="163.55" y="86.45" font-size="5.6" text-anchor="end" fill="#1f1f1f">10<tspan dy="-2.3" font-size="4.5">6</tspan></text>
<text x="163.55" y="110.15" font-size="5.6" text-anchor="end" fill="#1f1f1f">10<tspan dy="-2.3" font-size="4.5">4</tspan></text>
<text x="163.55" y="134.1" font-size="5.6" text-anchor="end" fill="#1f1f1f">10<tspan dy="-2.3" font-size="4.5">2</tspan></text>
<text x="215.18" y="147.8" font-size="6.9" text-anchor="middle" fill="#1f1f1f">Iterations</text>
<text transform="translate(148.42 71.7) rotate(-90)" font-size="6.9" text-anchor="middle" fill="#1f1f1f">Fitness</text>
<text x="215.03" y="10.4" font-size="6.95" text-anchor="middle" fill="#1f1f1f" class="t">CEC2017 F14 Dim=100</text>
</g>
<g id="sp3">
<rect x="294.6" y="12.2" width="106.3" height="119" fill="#fff"/>
<path d="M315.86 12.2V131.2M337.12 12.2V131.2M358.38 12.2V131.2M379.64 12.2V131.2M294.6 36.05H400.9M294.6 59.9H400.9M294.6 83.5H400.9M294.6 107.35H400.9" stroke="#ececec" stroke-width="0.55" fill="none"/>
<g clip-path="url(#c3)">
<path d="M295.1 61.7L295.6 70.7L296.2 78.6L296.7 84.5L297.2 89.4L297.8 93.8L298.3 97.2L298.8 99.3L299.4 100.5L299.9 101.5L300.4 102.3L301 102.9L301.5 103.5L302 104L302.6 104.5L303.1 105L304.5 106.3L305.9 107.5L307.3 108.6L308.7 109.6L310.1 110.6L311.5 111.4L312.9 112.3L314.3 113.1L315.7 114L317.1 114.7L318.5 115.3L319.9 115.9L321.3 116.3L322.7 116.5L324.1 116.8L325.5 117L326.9 117.3L328.3 117.4L329.7 117.6L331.1 117.8L332.5 117.9L333.9 118L335.3 118.1L336.7 118.2L338.1 118.3L339.5 118.4L340.9 118.5L342.3 118.6L343.7 118.7L345.1 118.7L346.5 118.8L347.9 118.8L349.3 118.9L350.7 118.9L352.1 118.9L353.5 119L354.9 119L356.3 119L357.7 119.1L359.1 119.1L360.5 119.1L361.9 119.1L363.3 119.2L364.7 119.2L366.1 119.2L367.5 119.2L368.9 119.2L370.3 119.3L371.7 119.3L373.1 119.3L374.5 119.3L375.9 119.3L377.3 119.3L378.7 119.4L380 119.4L381.4 119.4L382.8 119.4L384.2 119.4L385.6 119.4L387 119.4L388.4 119.5L389.8 119.5L391.2 119.5L392.6 119.5L394 119.5L395.4 119.5L396.8 119.5L398.2 119.5L399.6 119.5" fill="none" stroke="#ff0000" stroke-width="1.15" stroke-linejoin="round"/>
<path class="mIMCOA" d="M295.1 61.7L298.3 96.9L301.9 103.9L305.6 107.3L309.3 110L312.9 112.3L316.6 114.4L320.3 116L323.9 116.8L327.6 117.4L331.3 117.8L334.9 118.1L338.6 118.4L342.3 118.6L345.9 118.7L349.6 118.9L353.2 119L356.9 119L360.6 119.1L364.2 119.2L367.9 119.2L371.6 119.3L375.2 119.3L378.9 119.4L382.6 119.4L386.2 119.4L389.9 119.5L393.6 119.5L397.2 119.5L399.6 119.5"/>
<path d="M295.1 43.2L295.6 54.8L296.2 64.7L296.7 72L297.2 77.6L297.8 82.5L298.3 86.3L298.8 88.7L299.4 89.9L299.9 91L300.4 91.9L301 92.7L301.5 93.3L302 93.9L302.6 94.4L303.1 94.8L304.5 96.1L305.9 97.2L307.3 98.2L308.7 99L310.1 99.8L311.5 100.5L312.9 101.1L314.3 101.7L315.7 102.3L317.1 102.8L318.5 103.3L319.9 103.7L321.3 104.1L322.7 104.4L324.1 104.8L325.5 105.1L326.9 105.4L328.3 105.7L329.7 105.9L331.1 106.2L332.5 106.4L333.9 106.6L335.3 106.8L336.7 106.9L338.1 107.1L339.5 107.2L340.9 107.4L342.3 107.5L343.7 107.6L345.1 107.7L346.5 107.9L347.9 108L349.3 108.1L350.7 108.2L352.1 108.3L353.5 108.4L354.9 108.5L356.3 108.6L357.7 108.7L359.1 108.8L360.5 108.9L361.9 109L363.3 109.1L364.7 109.2L366.1 109.3L367.5 109.4L368.9 109.5L370.3 109.5L371.7 109.6L373.1 109.7L374.5 109.8L375.9 109.9L377.3 110L378.7 110L380 110.1L381.4 110.2L382.8 110.3L384.2 110.4L385.6 110.4L387 110.5L388.4 110.6L389.8 110.7L391.2 110.7L392.6 110.8L394 110.9L395.4 111L396.8 111L398.2 111.1L399.6 111.2" fill="none" stroke="#00ffff" stroke-width="1.15" stroke-linejoin="round"/>
<path class="mCOA" d="M295.1 43.2L298.3 86L301.9 93.8L305.6 97L309.3 99.3L312.9 101.1L316.6 102.6L320.3 103.8L323.9 104.7L327.6 105.5L331.3 106.2L334.9 106.7L338.6 107.1L342.3 107.5L345.9 107.8L349.6 108.1L353.2 108.4L356.9 108.7L360.6 108.9L364.2 109.2L367.9 109.4L371.6 109.6L375.2 109.8L378.9 110.1L382.6 110.3L386.2 110.5L389.9 110.7L393.6 110.9L397.2 111L399.6 111.2"/>
<path d="M295.1 48.2L295.6 59.8L296.2 69.8L296.7 77.1L297.2 82.8L297.8 87.7L298.3 91.5L298.8 93.8L299.4 94.8L299.9 95.7L300.4 96.4L301 97L301.5 97.5L302 98L302.6 98.4L303.1 98.7L304.5 99.7L305.9 100.5L307.3 101.2L308.7 101.8L310.1 102.4L311.5 103L312.9 103.5L314.3 104L315.7 104.5L317.1 105L318.5 105.4L319.9 105.8L321.3 106.1L322.7 106.4L324.1 106.6L325.5 106.8L326.9 107L328.3 107.2L329.7 107.4L331.1 107.5L332.5 107.7L333.9 107.9L335.3 108L336.7 108.2L338.1 108.4L339.5 108.5L340.9 108.7L342.3 108.8L343.7 108.9L345.1 109L346.5 109.1L347.9 109.2L349.3 109.3L350.7 109.3L352.1 109.4L353.5 109.4L354.9 109.4L356.3 109.5L357.7 109.5L359.1 109.6L360.5 109.6L361.9 109.6L363.3 109.7L364.7 109.7L366.1 109.7L367.5 109.8L368.9 109.8L370.3 109.8L371.7 109.9L373.1 109.9L374.5 110L375.9 110L377.3 110.1L378.7 110.1L380 110.2L381.4 110.2L382.8 110.3L384.2 110.3L385.6 110.4L387 110.4L388.4 110.5L389.8 110.5L391.2 110.6L392.6 110.6L394 110.7L395.4 110.7L396.8 110.8L398.2 110.8L399.6 110.9" fill="none" stroke="#0000ff" stroke-width="1.15" stroke-linejoin="round"/>
<path class="mDBO" d="M295.1 48.2L298.3 91.3L301.9 97.9L305.6 100.3L309.3 102.1L312.9 103.5L316.6 104.8L320.3 105.9L323.9 106.6L327.6 107.1L331.3 107.6L334.9 108L338.6 108.4L342.3 108.8L345.9 109.1L349.6 109.3L353.2 109.4L356.9 109.5L360.6 109.6L364.2 109.7L367.9 109.8L371.6 109.9L375.2 110L378.9 110.1L382.6 110.3L386.2 110.4L389.9 110.5L393.6 110.7L397.2 110.8L399.6 110.9"/>
<path d="M295.1 33L295.6 45L296.2 55.7L296.7 64.7L297.2 73.1L297.8 80.9L298.3 87.2L298.8 91.1L299.4 93L299.9 94.5L300.4 95.8L301 96.9L301.5 97.8L302 98.6L302.6 99.3L303.1 99.9L304.5 101.3L305.9 102.4L307.3 103.3L308.7 104.1L310.1 104.9L311.5 105.5L312.9 106.2L314.3 106.8L315.7 107.4L317.1 107.9L318.5 108.4L319.9 108.8L321.3 109.2L322.7 109.5L324.1 109.7L325.5 110L326.9 110.2L328.3 110.5L329.7 110.7L331.1 110.8L332.5 111L333.9 111.2L335.3 111.3L336.7 111.4L338.1 111.6L339.5 111.7L340.9 111.8L342.3 111.9L343.7 112L345.1 112.1L346.5 112.2L347.9 112.3L349.3 112.4L350.7 112.5L352.1 112.6L353.5 112.6L354.9 112.7L356.3 112.8L357.7 112.9L359.1 113L360.5 113.1L361.9 113.2L363.3 113.3L364.7 113.3L366.1 113.4L367.5 113.5L368.9 113.6L370.3 113.6L371.7 113.7L373.1 113.7L374.5 113.8L375.9 113.9L377.3 113.9L378.7 114L380 114.1L381.4 114.1L382.8 114.2L384.2 114.2L385.6 114.3L387 114.3L388.4 114.4L389.8 114.4L391.2 114.5L392.6 114.5L394 114.6L395.4 114.6L396.8 114.6L398.2 114.7L399.6 114.7" fill="none" stroke="#ff00ff" stroke-width="1.15" stroke-linejoin="round"/>
<path class="mTSO" d="M295.1 33L298.3 86.8L301.9 98.5L305.6 102.2L309.3 104.4L312.9 106.2L316.6 107.7L320.3 108.9L323.9 109.7L327.6 110.3L331.3 110.9L334.9 111.3L338.6 111.6L342.3 111.9L345.9 112.1L349.6 112.4L353.2 112.6L356.9 112.9L360.6 113.1L364.2 113.3L367.9 113.5L371.6 113.7L375.2 113.8L378.9 114L382.6 114.2L386.2 114.3L389.9 114.4L393.6 114.5L397.2 114.6L399.6 114.7"/>
<path d="M295.1 45.7L295.6 58.5L296.2 69.4L296.7 77.1L297.2 82.9L297.8 87.9L298.3 91.7L298.8 93.8L299.4 94.6L299.9 95.3L300.4 95.8L301 96.2L301.5 96.6L302 96.9L302.6 97.2L303.1 97.5L304.5 98.4L305.9 99.2L307.3 99.9L308.7 100.6L310.1 101.2L311.5 101.7L312.9 102.1L314.3 102.5L315.7 102.9L317.1 103.2L318.5 103.5L319.9 103.8L321.3 104.1L322.7 104.3L324.1 104.6L325.5 104.8L326.9 105L328.3 105.3L329.7 105.5L331.1 105.7L332.5 105.9L333.9 106.1L335.3 106.3L336.7 106.5L338.1 106.7L339.5 106.9L340.9 107.1L342.3 107.3L343.7 107.5L345.1 107.7L346.5 107.9L347.9 108L349.3 108.2L350.7 108.3L352.1 108.5L353.5 108.6L354.9 108.8L356.3 108.9L357.7 109.1L359.1 109.2L360.5 109.3L361.9 109.5L363.3 109.6L364.7 109.7L366.1 109.9L367.5 110L368.9 110.1L370.3 110.2L371.7 110.4L373.1 110.5L374.5 110.6L375.9 110.8L377.3 110.9L378.7 111L380 111.2L381.4 111.3L382.8 111.4L384.2 111.6L385.6 111.7L387 111.8L388.4 111.9L389.8 112.1L391.2 112.2L392.6 112.3L394 112.4L395.4 112.6L396.8 112.7L398.2 112.8L399.6 112.9" fill="none" stroke="#00ff00" stroke-width="1.15" stroke-linejoin="round" stroke-dasharray="3.2 2.4"/>
<path d="M295.1 40.6L295.6 52.2L296.2 62.5L296.7 70.1L297.2 74.1L297.8 76.4L298.3 78.2L298.8 79.6L299.4 80.4L299.9 80.9L300.4 81.2L301 81.5L301.5 81.7L302 82L302.6 82.1L303.1 82.3L304.5 82.6L305.9 83L307.3 83.3L308.7 83.6L310.1 83.9L311.5 84.2L312.9 84.5L314.3 84.8L315.7 85L317.1 85.2L318.5 85.4L319.9 85.6L321.3 85.8L322.7 86L324.1 86.1L325.5 86.3L326.9 86.4L328.3 86.6L329.7 86.7L331.1 86.8L332.5 86.9L333.9 87.1L335.3 87.2L336.7 87.3L338.1 87.4L339.5 87.4L340.9 87.5L342.3 87.6L343.7 87.7L345.1 87.7L346.5 87.8L347.9 87.9L349.3 87.9L350.7 87.9L352.1 88L353.5 88L354.9 88L356.3 88.1L357.7 88.1L359.1 88.2L360.5 88.2L361.9 88.3L363.3 88.6L364.7 89.2L366.1 91.7L367.5 94.6L368.9 95.8L370.3 96.6L371.7 97.2L373.1 97.8L374.5 98.2L375.9 98.7L377.3 99.1L378.7 99.5L380 99.9L381.4 100.3L382.8 100.7L384.2 101L385.6 101.4L387 101.7L388.4 102L389.8 102.4L391.2 102.7L392.6 103L394 103.3L395.4 103.6L396.8 104L398.2 104.3L399.6 104.6" fill="none" stroke="#00ffff" stroke-width="1.15" stroke-linejoin="round"/>
<path d="M295.1 50.8L295.6 54.7L296.2 58L296.7 59.8L297.2 60.8L297.8 61.6L298.3 62.2L298.8 62.8L299.4 63.2L299.9 63.7L300.4 64.1L301 64.4L301.5 64.8L302 65.1L302.6 65.4L303.1 65.7L304.5 66.4L305.9 67.2L307.3 68.1L308.7 69L310.1 69.9L311.5 70.8L312.9 71.8L314.3 72.9L315.7 74L317.1 75.1L318.5 76.3L319.9 77.5L321.3 78.8L322.7 80.1L324.1 81.6L325.5 83L326.9 84.5L328.3 85.8L329.7 87.1L331.1 88.3L332.5 89.5L333.9 90.7L335.3 91.8L336.7 92.9L338.1 94L339.5 95.1L340.9 96.2L342.3 97.3L343.7 98.3L345.1 99.3L346.5 100.2L347.9 101.1L349.3 102L350.7 102.8L352.1 103.6L353.5 104.4L354.9 105.2L356.3 105.9L357.7 106.6L359.1 107.4L360.5 108.1L361.9 108.8L363.3 109.4L364.7 109.7L366.1 110.1L367.5 110.4L368.9 110.6L370.3 110.9L371.7 111.1L373.1 111.3L374.5 111.4L375.9 111.6L377.3 111.7L378.7 111.8L380 111.9L381.4 112.1L382.8 112.2L384.2 112.3L385.6 112.4L387 112.5L388.4 112.6L389.8 112.6L391.2 112.7L392.6 112.8L394 112.8L395.4 112.9L396.8 112.9L398.2 112.9L399.6 112.9" fill="none" stroke="#0000ff" stroke-width="1.15" stroke-linejoin="round"/>
<path d="M295.1 38.1L295.6 47L296.2 54.9L296.7 60.8L297.2 63.9L297.8 65.6L298.3 67L298.8 68L299.4 68.7L299.9 69.3L300.4 69.7L301 70.1L301.5 70.4L302 70.7L302.6 70.9L303.1 71.1L304.5 71.7L305.9 72.3L307.3 73L308.7 73.6L310.1 74.3L311.5 75L312.9 75.6L314.3 76.3L315.7 76.9L317.1 77.5L318.5 78.1L319.9 78.7L321.3 79.2L322.7 79.8L324.1 80.3L325.5 80.8L326.9 81.3L328.3 81.8L329.7 82.3L331.1 82.7L332.5 83.3L333.9 83.8L335.3 84.3L336.7 84.9L338.1 85.4L339.5 86L340.9 86.5L342.3 87.1L343.7 87.7L345.1 88.2L346.5 88.8L347.9 89.4L349.3 90L350.7 90.6L352.1 91.2L353.5 91.9L354.9 92.5L356.3 93.1L357.7 93.7L359.1 94.4L360.5 95L361.9 95.7L363.3 96.3L364.7 97L366.1 97.6L367.5 98.3L368.9 98.9L370.3 99.6L371.7 100.2L373.1 100.8L374.5 101.4L375.9 102L377.3 102.5L378.7 103.1L380 103.6L381.4 104.2L382.8 104.7L384.2 105.2L385.6 105.8L387 106.3L388.4 106.8L389.8 107.2L391.2 107.7L392.6 108.2L394 108.6L395.4 109.1L396.8 109.5L398.2 110L399.6 110.4" fill="none" stroke="#ff00ff" stroke-width="1.15" stroke-linejoin="round"/>
<path d="M295.1 38.1L295.6 54.3L296.2 68L296.7 77.2L297.2 83.9L297.8 89.4L298.3 93.6L298.8 96.2L299.4 97.8L299.9 99.1L300.4 100.2L301 101.1L301.5 101.9L302 102.6L302.6 103.2L303.1 103.7L304.5 105L305.9 106L307.3 106.8L308.7 107.6L310.1 108.2L311.5 108.8L312.9 109.3L314.3 109.8L315.7 110.3L317.1 110.7L318.5 111.1L319.9 111.4L321.3 111.7L322.7 111.9L324.1 112.1L325.5 112.3L326.9 112.5L328.3 112.6L329.7 112.8L331.1 112.9L332.5 113.1L333.9 113.2L335.3 113.3L336.7 113.5L338.1 113.6L339.5 113.7L340.9 113.8L342.3 113.9L343.7 114L345.1 114.1L346.5 114.2L347.9 114.3L349.3 114.3L350.7 114.4L352.1 114.4L353.5 114.5L354.9 114.5L356.3 114.6L357.7 114.6L359.1 114.6L360.5 114.7L361.9 114.7L363.3 114.7L364.7 114.8L366.1 114.8L367.5 114.8L368.9 114.9L370.3 114.9L371.7 115L373.1 115L374.5 115L375.9 115.1L377.3 115.1L378.7 115.2L380 115.2L381.4 115.2L382.8 115.3L384.2 115.3L385.6 115.3L387 115.4L388.4 115.4L389.8 115.5L391.2 115.5L392.6 115.5L394 115.6L395.4 115.6L396.8 115.6L398.2 115.7L399.6 115.7" fill="none" stroke="#00ff00" stroke-width="1.15" stroke-linejoin="round"/>
</g>
<rect x="294.6" y="12.2" width="106.3" height="119" fill="none" stroke="#a6a6a6" stroke-width="0.6"/>
<path d="M294.6 131.2v-1.1M294.6 12.2v1.1M315.86 131.2v-1.1M315.86 12.2v1.1M337.12 131.2v-1.1M337.12 12.2v1.1M358.38 131.2v-1.1M358.38 12.2v1.1M379.64 131.2v-1.1M379.64 12.2v1.1M400.9 131.2v-1.1M400.9 12.2v1.1M294.6 12.2h1.1M400.9 12.2h-1.1M294.6 36.05h1.1M400.9 36.05h-1.1M294.6 59.9h1.1M400.9 59.9h-1.1M294.6 83.5h1.1M400.9 83.5h-1.1M294.6 107.35h1.1M400.9 107.35h-1.1M294.6 131.2h1.1M400.9 131.2h-1.1" stroke="#a6a6a6" stroke-width="0.5" fill="none"/>
<text x="294.6" y="139.4" font-size="6.3" text-anchor="middle" fill="#1f1f1f">0</text>
<text x="315.86" y="139.4" font-size="6.3" text-anchor="middle" fill="#1f1f1f">100</text>
<text x="337.12" y="139.4" font-size="6.3" text-anchor="middle" fill="#1f1f1f">200</text>
<text x="358.38" y="139.4" font-size="6.3" text-anchor="middle" fill="#1f1f1f">300</text>
<text x="379.64" y="139.4" font-size="6.3" text-anchor="middle" fill="#1f1f1f">400</text>
<text x="400.9" y="139.4" font-size="6.3" text-anchor="middle" fill="#1f1f1f">500</text>
<text x="292.3" y="15.2" font-size="6.3" text-anchor="end" fill="#1f1f1f">5</text>
<text x="292.3" y="39.05" font-size="6.3" text-anchor="end" fill="#1f1f1f">4</text>
<text x="292.3" y="62.9" font-size="6.3" text-anchor="end" fill="#1f1f1f">3</text>
<text x="292.3" y="86.5" font-size="6.3" text-anchor="end" fill="#1f1f1f">2</text>
<text x="292.3" y="110.35" font-size="6.3" text-anchor="end" fill="#1f1f1f">1</text>
<text x="292.3" y="134.2" font-size="6.3" text-anchor="end" fill="#1f1f1f">0</text>
<text x="347.75" y="147.8" font-size="6.9" text-anchor="middle" fill="#1f1f1f">Iterations</text>
<text transform="translate(286.1 71.7) rotate(-90)" font-size="6.9" text-anchor="middle" fill="#1f1f1f">Fitness</text>
<text x="347.6" y="10.4" font-size="6.95" text-anchor="middle" fill="#1f1f1f" class="t">CEC2017 F15 Dim=100</text>
<text y="10.7" font-size="6.1" fill="#1f1f1f"><tspan x="295.3">×</tspan><tspan x="300">10</tspan><tspan x="306.6" dy="-2.6" font-size="4.9">4</tspan></text>
</g>
<g id="sp4">
<rect x="432.4" y="12.2" width="104" height="119" fill="#fff"/>
<path d="M453.2 12.2V131.2M474 12.2V131.2M494.8 12.2V131.2M515.6 12.2V131.2M432.4 31.99H536.4M432.4 51.78H536.4M432.4 71.57H536.4M432.4 91.36H536.4M432.4 111.41H536.4" stroke="#ececec" stroke-width="0.55" fill="none"/>
<g clip-path="url(#c4)">
<path d="M432.6 65.5L433.2 86.2L433.7 106.3L434.2 122.2L434.8 130.1L435.3 130.5L435.8 130.5L436.4 130.6L436.9 130.6L437.4 130.6L438 130.6L438.5 130.7L439 130.7L439.6 130.7L440.1 130.7L440.6 130.7L442 130.7L443.4 130.7L444.8 130.7L446.2 130.7L447.5 130.7L448.9 130.7L450.3 130.7L451.7 130.7L453 130.7L454.4 130.7L455.8 130.7L457.2 130.7L458.5 130.7L459.9 130.7L461.3 130.7L462.7 130.7L464.1 130.7L465.4 130.7L466.8 130.7L468.2 130.7L469.6 130.7L470.9 130.7L472.3 130.7L473.7 130.7L475.1 130.7L476.4 130.7L477.8 130.7L479.2 130.7L480.6 130.7L482 130.7L483.3 130.7L484.7 130.7L486.1 130.7L487.5 130.7L488.8 130.7L490.2 130.7L491.6 130.7L493 130.7L494.3 130.7L495.7 130.7L497.1 130.7L498.5 130.7L499.9 130.7L501.2 130.7L502.6 130.7L504 130.7L505.4 130.7L506.7 130.7L508.1 130.7L509.5 130.7L510.9 130.7L512.2 130.7L513.6 130.7L515 130.7L516.4 130.7L517.8 130.7L519.1 130.7L520.5 130.7L521.9 130.7L523.3 130.7L524.6 130.7L526 130.7L527.4 130.7L528.8 130.7L530.1 130.7L531.5 130.7L532.9 130.7L534.3 130.7L535.6 130.7" fill="none" stroke="#ff0000" stroke-width="1.15" stroke-linejoin="round"/>
<path class="mIMCOA" d="M432.6 65.5L436 130.5L439.6 130.7L443.2 130.7L446.7 130.7L450.3 130.7L453.9 130.7L457.5 130.7L461.1 130.7L464.7 130.7L468.3 130.7L471.8 130.7L475.4 130.7L479 130.7L482.6 130.7L486.2 130.7L489.8 130.7L493.4 130.7L497 130.7L500.5 130.7L504.1 130.7L507.7 130.7L511.3 130.7L514.9 130.7L518.5 130.7L522.1 130.7L525.6 130.7L529.2 130.7L532.8 130.7L535.6 130.7"/>
<path d="M432.6 55.3L433.2 79.2L433.7 102.4L434.2 120.7L434.8 129.8L435.3 130.2L435.8 130.3L436.4 130.3L436.9 130.3L437.4 130.4L438 130.4L438.5 130.4L439 130.4L439.6 130.4L440.1 130.4L440.6 130.4L442 130.4L443.4 130.4L444.8 130.4L446.2 130.4L447.5 130.4L448.9 130.4L450.3 130.4L451.7 130.4L453 130.4L454.4 130.4L455.8 130.4L457.2 130.4L458.5 130.4L459.9 130.4L461.3 130.4L462.7 130.4L464.1 130.4L465.4 130.4L466.8 130.4L468.2 130.4L469.6 130.4L470.9 130.4L472.3 130.4L473.7 130.4L475.1 130.4L476.4 130.4L477.8 130.4L479.2 130.4L480.6 130.4L482 130.4L483.3 130.4L484.7 130.4L486.1 130.4L487.5 130.4L488.8 130.4L490.2 130.4L491.6 130.4L493 130.4L494.3 130.4L495.7 130.4L497.1 130.4L498.5 130.4L499.9 130.4L501.2 130.4L502.6 130.4L504 130.4L505.4 130.4L506.7 130.4L508.1 130.4L509.5 130.4L510.9 130.4L512.2 130.4L513.6 130.4L515 130.4L516.4 130.4L517.8 130.4L519.1 130.4L520.5 130.4L521.9 130.4L523.3 130.4L524.6 130.4L526 130.4L527.4 130.4L528.8 130.4L530.1 130.4L531.5 130.4L532.9 130.4L534.3 130.4L535.6 130.4" fill="none" stroke="#00ffff" stroke-width="1.15" stroke-linejoin="round"/>
<path class="mCOA" d="M432.6 55.3L436 130.3L439.6 130.4L443.2 130.4L446.7 130.4L450.3 130.4L453.9 130.4L457.5 130.4L461.1 130.4L464.7 130.4L468.3 130.4L471.8 130.4L475.4 130.4L479 130.4L482.6 130.4L486.2 130.4L489.8 130.4L493.4 130.4L497 130.4L500.5 130.4L504.1 130.4L507.7 130.4L511.3 130.4L514.9 130.4L518.5 130.4L522.1 130.4L525.6 130.4L529.2 130.4L532.8 130.4L535.6 130.4"/>
<path d="M432.6 71.1L433.2 89.7L433.7 107.9L434.2 122.3L434.8 129.4L435.3 129.7L435.8 129.8L436.4 129.8L436.9 129.8L437.4 129.9L438 129.9L438.5 129.9L439 129.9L439.6 129.9L440.1 129.9L440.6 129.9L442 129.9L443.4 129.9L444.8 129.9L446.2 129.9L447.5 129.9L448.9 129.9L450.3 129.9L451.7 129.9L453 129.9L454.4 129.9L455.8 129.9L457.2 129.9L458.5 129.9L459.9 129.9L461.3 129.9L462.7 129.9L464.1 129.9L465.4 129.9L466.8 129.9L468.2 129.9L469.6 129.9L470.9 129.9L472.3 129.9L473.7 129.9L475.1 129.9L476.4 129.9L477.8 129.9L479.2 129.9L480.6 129.9L482 129.9L483.3 129.9L484.7 129.9L486.1 129.9L487.5 129.9L488.8 129.9L490.2 129.9L491.6 129.9L493 129.9L494.3 129.9L495.7 129.9L497.1 129.9L498.5 129.9L499.9 129.9L501.2 129.9L502.6 129.9L504 129.9L505.4 129.9L506.7 129.9L508.1 129.9L509.5 129.9L510.9 129.9L512.2 129.9L513.6 129.9L515 129.9L516.4 129.9L517.8 129.9L519.1 129.9L520.5 129.9L521.9 129.9L523.3 129.9L524.6 129.9L526 129.9L527.4 129.9L528.8 129.9L530.1 129.9L531.5 129.9L532.9 129.9L534.3 129.9L535.6 129.9" fill="none" stroke="#0000ff" stroke-width="1.15" stroke-linejoin="round"/>
<path class="mDBO" d="M432.6 71.1L436 129.8L439.6 129.9L443.2 129.9L446.7 129.9L450.3 129.9L453.9 129.9L457.5 129.9L461.1 129.9L464.7 129.9L468.3 129.9L471.8 129.9L475.4 129.9L479 129.9L482.6 129.9L486.2 129.9L489.8 129.9L493.4 129.9L497 129.9L500.5 129.9L504.1 129.9L507.7 129.9L511.3 129.9L514.9 129.9L518.5 129.9L522.1 129.9L525.6 129.9L529.2 129.9L532.8 129.9L535.6 129.9"/>
<path d="M432.6 27.4L433.2 60.2L433.7 92.2L434.2 117.4L434.8 130L435.3 130.5L435.8 130.5L436.4 130.6L436.9 130.6L437.4 130.6L438 130.6L438.5 130.7L439 130.7L439.6 130.7L440.1 130.7L440.6 130.7L442 130.7L443.4 130.7L444.8 130.7L446.2 130.7L447.5 130.7L448.9 130.7L450.3 130.7L451.7 130.7L453 130.7L454.4 130.7L455.8 130.7L457.2 130.7L458.5 130.7L459.9 130.7L461.3 130.7L462.7 130.7L464.1 130.7L465.4 130.7L466.8 130.7L468.2 130.7L469.6 130.7L470.9 130.7L472.3 130.7L473.7 130.7L475.1 130.7L476.4 130.7L477.8 130.7L479.2 130.7L480.6 130.7L482 130.7L483.3 130.7L484.7 130.7L486.1 130.7L487.5 130.7L488.8 130.7L490.2 130.7L491.6 130.7L493 130.7L494.3 130.7L495.7 130.7L497.1 130.7L498.5 130.7L499.9 130.7L501.2 130.7L502.6 130.7L504 130.7L505.4 130.7L506.7 130.7L508.1 130.7L509.5 130.7L510.9 130.7L512.2 130.7L513.6 130.7L515 130.7L516.4 130.7L517.8 130.7L519.1 130.7L520.5 130.7L521.9 130.7L523.3 130.7L524.6 130.7L526 130.7L527.4 130.7L528.8 130.7L530.1 130.7L531.5 130.7L532.9 130.7L534.3 130.7L535.6 130.7" fill="none" stroke="#ff00ff" stroke-width="1.15" stroke-linejoin="round"/>
<path class="mTSO" d="M432.6 27.4L436 130.5L439.6 130.7L443.2 130.7L446.7 130.7L450.3 130.7L453.9 130.7L457.5 130.7L461.1 130.7L464.7 130.7L468.3 130.7L471.8 130.7L475.4 130.7L479 130.7L482.6 130.7L486.2 130.7L489.8 130.7L493.4 130.7L497 130.7L500.5 130.7L504.1 130.7L507.7 130.7L511.3 130.7L514.9 130.7L518.5 130.7L522.1 130.7L525.6 130.7L529.2 130.7L532.8 130.7L535.6 130.7"/>
<path d="M432.6 60.9L433.2 83L433.7 104.5L434.2 121.4L434.8 129.9L435.3 130.2L435.8 130.3L436.4 130.3L436.9 130.3L437.4 130.4L438 130.4L438.5 130.4L439 130.4L439.6 130.4L440.1 130.4L440.6 130.4L442 130.4L443.4 130.4L444.8 130.4L446.2 130.4L447.5 130.4L448.9 130.4L450.3 130.4L451.7 130.4L453 130.4L454.4 130.4L455.8 130.4L457.2 130.4L458.5 130.4L459.9 130.4L461.3 130.4L462.7 130.4L464.1 130.4L465.4 130.4L466.8 130.4L468.2 130.4L469.6 130.4L470.9 130.4L472.3 130.4L473.7 130.4L475.1 130.4L476.4 130.4L477.8 130.4L479.2 130.4L480.6 130.4L482 130.4L483.3 130.4L484.7 130.4L486.1 130.4L487.5 130.4L488.8 130.4L490.2 130.4L491.6 130.4L493 130.4L494.3 130.4L495.7 130.4L497.1 130.4L498.5 130.4L499.9 130.4L501.2 130.4L502.6 130.4L504 130.4L505.4 130.4L506.7 130.4L508.1 130.4L509.5 130.4L510.9 130.4L512.2 130.4L513.6 130.4L515 130.4L516.4 130.4L517.8 130.4L519.1 130.4L520.5 130.4L521.9 130.4L523.3 130.4L524.6 130.4L526 130.4L527.4 130.4L528.8 130.4L530.1 130.4L531.5 130.4L532.9 130.4L534.3 130.4L535.6 130.4" fill="none" stroke="#00ff00" stroke-width="1.15" stroke-linejoin="round" stroke-dasharray="3.2 2.4"/>
<path d="M432.6 55.3L433.2 79.1L433.7 102.2L434.2 120.5L434.8 129.6L435.3 130L435.8 130L436.4 130.1L436.9 130.1L437.4 130.1L438 130.1L438.5 130.2L439 130.2L439.6 130.2L440.1 130.2L440.6 130.2L442 130.2L443.4 130.2L444.8 130.2L446.2 130.2L447.5 130.2L448.9 130.2L450.3 130.2L451.7 130.2L453 130.2L454.4 130.2L455.8 130.2L457.2 130.2L458.5 130.2L459.9 130.2L461.3 130.2L462.7 130.2L464.1 130.2L465.4 130.2L466.8 130.2L468.2 130.2L469.6 130.2L470.9 130.2L472.3 130.2L473.7 130.2L475.1 130.2L476.4 130.2L477.8 130.2L479.2 130.2L480.6 130.2L482 130.2L483.3 130.2L484.7 130.2L486.1 130.2L487.5 130.2L488.8 130.2L490.2 130.2L491.6 130.2L493 130.2L494.3 130.2L495.7 130.2L497.1 130.2L498.5 130.2L499.9 130.2L501.2 130.2L502.6 130.2L504 130.2L505.4 130.2L506.7 130.2L508.1 130.2L509.5 130.2L510.9 130.2L512.2 130.2L513.6 130.2L515 130.2L516.4 130.2L517.8 130.2L519.1 130.2L520.5 130.2L521.9 130.2L523.3 130.2L524.6 130.2L526 130.2L527.4 130.2L528.8 130.2L530.1 130.2L531.5 130.2L532.9 130.2L534.3 130.2L535.6 130.2" fill="none" stroke="#00ffff" stroke-width="1.15" stroke-linejoin="round"/>
<path d="M432.6 71.1L433.2 76.5L433.7 81.9L434.2 87.3L434.8 93.1L435.3 99.1L435.8 102.5L436.4 104.5L436.9 106.1L437.4 107.4L438 108.7L438.5 110.1L439 111.6L439.6 113L440.1 114.4L440.6 115.7L442 118.2L443.4 119.9L444.8 121.2L446.2 122.1L447.5 122.9L448.9 123.6L450.3 124.2L451.7 124.8L453 125.3L454.4 125.9L455.8 126.4L457.2 127.2L458.5 127.9L459.9 128.6L461.3 129.1L462.7 129.6L464.1 129.9L465.4 130.2L466.8 130.3L468.2 130.4L469.6 130.6L470.9 130.6L472.3 130.7L473.7 130.7L475.1 130.7L476.4 130.7L477.8 130.7L479.2 130.7L480.6 130.7L482 130.7L483.3 130.7L484.7 130.7L486.1 130.7L487.5 130.7L488.8 130.7L490.2 130.7L491.6 130.7L493 130.7L494.3 130.7L495.7 130.7L497.1 130.7L498.5 130.7L499.9 130.7L501.2 130.7L502.6 130.7L504 130.7L505.4 130.7L506.7 130.7L508.1 130.7L509.5 130.7L510.9 130.7L512.2 130.7L513.6 130.7L515 130.7L516.4 130.7L517.8 130.7L519.1 130.7L520.5 130.7L521.9 130.7L523.3 130.7L524.6 130.7L526 130.7L527.4 130.7L528.8 130.7L530.1 130.7L531.5 130.7L532.9 130.7L534.3 130.7L535.6 130.7" fill="none" stroke="#0000ff" stroke-width="1.15" stroke-linejoin="round"/>
<path d="M432.6 27.4L433.2 37.7L433.7 50.3L434.2 64.6L434.8 80.6L435.3 102.4L435.8 114.5L436.4 120.4L436.9 123.1L437.4 123.8L438 124.3L438.5 124.7L439 125L439.6 125.2L440.1 125.4L440.6 125.6L442 126.1L443.4 126.5L444.8 126.9L446.2 127.2L447.5 127.5L448.9 127.8L450.3 128.2L451.7 128.6L453 128.9L454.4 129.2L455.8 129.4L457.2 129.6L458.5 129.8L459.9 130L461.3 130.2L462.7 130.3L464.1 130.4L465.4 130.4L466.8 130.4L468.2 130.5L469.6 130.5L470.9 130.5L472.3 130.5L473.7 130.5L475.1 130.5L476.4 130.5L477.8 130.5L479.2 130.5L480.6 130.6L482 130.6L483.3 130.6L484.7 130.6L486.1 130.6L487.5 130.6L488.8 130.6L490.2 130.6L491.6 130.6L493 130.6L494.3 130.6L495.7 130.6L497.1 130.6L498.5 130.6L499.9 130.6L501.2 130.6L502.6 130.7L504 130.7L505.4 130.7L506.7 130.7L508.1 130.7L509.5 130.7L510.9 130.7L512.2 130.7L513.6 130.7L515 130.7L516.4 130.7L517.8 130.7L519.1 130.7L520.5 130.7L521.9 130.7L523.3 130.7L524.6 130.7L526 130.7L527.4 130.7L528.8 130.7L530.1 130.7L531.5 130.7L532.9 130.7L534.3 130.7L535.6 130.7" fill="none" stroke="#ff00ff" stroke-width="1.15" stroke-linejoin="round"/>
<path d="M432.6 60.9L433.2 60.9L433.7 61L434.2 61.1L434.8 61.4L435.3 99.3L435.8 127.6L436.4 129L436.9 129.9L437.4 130.5L438 130.7L438.5 130.7L439 130.7L439.6 130.7L440.1 130.7L440.6 130.7L442 130.7L443.4 130.7L444.8 130.7L446.2 130.7L447.5 130.8L448.9 130.8L450.3 130.8L451.7 130.8L453 130.8L454.4 130.8L455.8 130.8L457.2 130.8L458.5 130.8L459.9 130.8L461.3 130.8L462.7 130.8L464.1 130.8L465.4 130.8L466.8 130.9L468.2 130.9L469.6 130.9L470.9 130.9L472.3 130.9L473.7 130.9L475.1 130.9L476.4 130.9L477.8 130.9L479.2 130.9L480.6 130.9L482 130.9L483.3 130.9L484.7 130.9L486.1 130.9L487.5 130.9L488.8 130.9L490.2 130.9L491.6 130.9L493 130.9L494.3 130.9L495.7 130.9L497.1 130.9L498.5 130.9L499.9 130.9L501.2 130.9L502.6 130.9L504 130.9L505.4 130.9L506.7 130.9L508.1 130.9L509.5 130.9L510.9 130.9L512.2 130.9L513.6 130.9L515 130.9L516.4 130.9L517.8 130.9L519.1 130.9L520.5 130.9L521.9 130.9L523.3 130.9L524.6 130.9L526 130.9L527.4 130.9L528.8 130.9L530.1 130.9L531.5 130.9L532.9 130.9L534.3 130.9L535.6 130.9" fill="none" stroke="#00ff00" stroke-width="1.15" stroke-linejoin="round"/>
</g>
<rect x="432.4" y="12.2" width="104" height="119" fill="none" stroke="#a6a6a6" stroke-width="0.6"/>
<path d="M432.4 131.2v-1.1M432.4 12.2v1.1M453.2 131.2v-1.1M453.2 12.2v1.1M474 131.2v-1.1M474 12.2v1.1M494.8 131.2v-1.1M494.8 12.2v1.1M515.6 131.2v-1.1M515.6 12.2v1.1M536.4 131.2v-1.1M536.4 12.2v1.1M432.4 12.2h1.1M536.4 12.2h-1.1M432.4 31.99h1.1M536.4 31.99h-1.1M432.4 51.78h1.1M536.4 51.78h-1.1M432.4 71.57h1.1M536.4 71.57h-1.1M432.4 91.36h1.1M536.4 91.36h-1.1M432.4 111.41h1.1M536.4 111.41h-1.1M432.4 131.2h1.1M536.4 131.2h-1.1" stroke="#a6a6a6" stroke-width="0.5" fill="none"/>
<text x="432.4" y="139.4" font-size="6.3" text-anchor="middle" fill="#1f1f1f">0</text>
<text x="453.2" y="139.4" font-size="6.3" text-anchor="middle" fill="#1f1f1f">100</text>
<text x="474" y="139.4" font-size="6.3" text-anchor="middle" fill="#1f1f1f">200</text>
<text x="494.8" y="139.4" font-size="6.3" text-anchor="middle" fill="#1f1f1f">300</text>
<text x="515.6" y="139.4" font-size="6.3" text-anchor="middle" fill="#1f1f1f">400</text>
<text x="536.4" y="139.4" font-size="6.3" text-anchor="middle" fill="#1f1f1f">500</text>
<text x="430.1" y="15.2" font-size="6.3" text-anchor="end" fill="#1f1f1f">12</text>
<text x="430.1" y="34.99" font-size="6.3" text-anchor="end" fill="#1f1f1f">10</text>
<text x="430.1" y="54.78" font-size="6.3" text-anchor="end" fill="#1f1f1f">8</text>
<text x="430.1" y="74.57" font-size="6.3" text-anchor="end" fill="#1f1f1f">6</text>
<text x="430.1" y="94.36" font-size="6.3" text-anchor="end" fill="#1f1f1f">4</text>
<text x="430.1" y="114.41" font-size="6.3" text-anchor="end" fill="#1f1f1f">2</text>
<text x="430.1" y="134.2" font-size="6.3" text-anchor="end" fill="#1f1f1f">0</text>
<text x="484.4" y="147.8" font-size="6.9" text-anchor="middle" fill="#1f1f1f">Iterations</text>
<text transform="translate(420.39 71.7) rotate(-90)" font-size="6.9" text-anchor="middle" fill="#1f1f1f">Fitness</text>
<text x="484.25" y="10.4" font-size="6.95" text-anchor="middle" fill="#1f1f1f" class="t">CEC2017 F16 Dim=100</text>
<text y="10.7" font-size="6.1" fill="#1f1f1f"><tspan x="433.1">×</tspan><tspan x="437.8">10</tspan><tspan x="444.4" dy="-2.6" font-size="4.9">7</tspan></text>
</g>
<g id="sp5">
<rect x="30.1" y="161.4" width="98.2" height="119.45" fill="#fff"/>
<path d="M30.1 178.28H128.3M30.1 174.02H128.3M30.1 171.01H128.3M30.1 168.67H128.3M30.1 166.76H128.3M30.1 165.14H128.3M30.1 163.74H128.3M30.1 162.5H128.3M30.1 202.42H128.3M30.1 198.17H128.3M30.1 195.15H128.3M30.1 192.81H128.3M30.1 190.9H128.3M30.1 189.28H128.3M30.1 187.88H128.3M30.1 186.65H128.3M30.1 185.54H128.3M30.1 226.56H128.3M30.1 222.31H128.3M30.1 219.3H128.3M30.1 216.96H128.3M30.1 215.04H128.3M30.1 213.43H128.3M30.1 212.03H128.3M30.1 210.79H128.3M30.1 209.69H128.3M30.1 250.71H128.3M30.1 246.46H128.3M30.1 243.44H128.3M30.1 241.1H128.3M30.1 239.19H128.3M30.1 237.57H128.3M30.1 236.17H128.3M30.1 234.94H128.3M30.1 233.83H128.3M30.1 274.85H128.3M30.1 270.6H128.3M30.1 267.58H128.3M30.1 265.24H128.3M30.1 263.33H128.3M30.1 261.72H128.3M30.1 260.32H128.3M30.1 259.08H128.3M30.1 257.98H128.3" stroke="#f2f2f2" stroke-width="0.45" fill="none"/>
<path d="M49.74 161.4V280.85M69.38 161.4V280.85M89.02 161.4V280.85M108.66 161.4V280.85M30.1 185.54H128.3M30.1 209.43H128.3M30.1 233.32H128.3M30.1 256.96H128.3" stroke="#ececec" stroke-width="0.55" fill="none"/>
<g clip-path="url(#c5)">
<path d="M30.1 185.5L30.6 191.8L31.2 197.4L31.7 202.5L32.2 206.9L32.8 210.9L33.3 214.4L33.8 217.2L34.4 219.4L34.9 221.4L35.4 223.1L36 224.6L36.5 226L37 227.3L37.6 228.6L38.1 229.9L39.4 232.6L40.7 234.8L42 236.7L43.3 238.3L44.5 239.7L45.8 240.9L47.1 242L48.4 242.9L49.7 243.8L51 244.6L52.3 245.4L53.6 246.2L54.9 247L56.1 247.8L57.4 248.5L58.7 249.3L60 250L61.3 250.6L62.6 251.3L63.9 251.9L65.2 252.5L66.5 253L67.8 253.6L69 254.1L70.3 254.7L71.6 255.2L72.9 255.7L74.2 256.1L75.5 256.6L76.8 257L78.1 257.5L79.4 257.9L80.6 258.3L81.9 258.7L83.2 259.1L84.5 259.5L85.8 259.9L87.1 260.2L88.4 260.5L89.7 260.8L91 261.1L92.2 261.4L93.5 261.7L94.8 262L96.1 262.2L97.4 262.5L98.7 262.7L100 262.9L101.3 263.1L102.6 263.3L103.8 263.5L105.1 263.7L106.4 263.9L107.7 264.1L109 264.3L110.3 264.5L111.6 264.6L112.9 264.8L114.2 264.9L115.4 265.1L116.7 265.3L118 265.4L119.3 265.6L120.6 265.7L121.9 265.8L123.2 266L124.5 266.1L125.8 266.2L127.1 266.4" fill="none" stroke="#ff0000" stroke-width="1.15" stroke-linejoin="round"/>
<path class="mIMCOA" d="M30.1 185.5L33.5 215.5L36.9 226.9L40.3 234.2L43.6 238.8L47 241.9L50.4 244.2L53.8 246.4L57.2 248.4L60.6 250.2L64 251.9L67.3 253.4L70.7 254.8L74.1 256.1L77.5 257.3L80.9 258.4L84.3 259.4L87.7 260.4L91.1 261.2L94.4 261.9L97.8 262.5L101.2 263.1L104.6 263.7L108 264.1L111.4 264.6L114.8 265L118.1 265.4L121.5 265.8L124.9 266.2L127.1 266.4"/>
<path d="M30.1 184.3L30.6 190.6L31.2 196.2L31.7 200.8L32.2 204L32.8 206.6L33.3 208.7L33.8 210.5L34.4 211.8L34.9 212.7L35.4 213.6L36 214.3L36.5 214.9L37 215.5L37.6 216.1L38.1 216.5L39.4 217.6L40.7 218.5L42 219.3L43.3 220.1L44.5 220.9L45.8 221.6L47.1 222.2L48.4 222.8L49.7 223.3L51 223.7L52.3 224.1L53.6 224.5L54.9 224.8L56.1 225.1L57.4 225.4L58.7 225.7L60 226L61.3 226.3L62.6 226.6L63.9 226.8L65.2 227.1L66.5 227.4L67.8 227.7L69 227.9L70.3 228.2L71.6 228.5L72.9 228.7L74.2 229L75.5 229.2L76.8 229.4L78.1 229.7L79.4 229.9L80.6 230.1L81.9 230.3L83.2 230.6L84.5 230.8L85.8 230.9L87.1 231.1L88.4 231.3L89.7 231.5L91 231.6L92.2 231.7L93.5 231.9L94.8 232L96.1 232.1L97.4 232.2L98.7 232.4L100 232.5L101.3 232.6L102.6 232.7L103.8 232.9L105.1 233L106.4 233.1L107.7 233.3L109 233.4L110.3 233.5L111.6 233.7L112.9 233.8L114.2 233.9L115.4 234L116.7 234.2L118 234.3L119.3 234.4L120.6 234.5L121.9 234.6L123.2 234.8L124.5 234.9L125.8 235L127.1 235.1" fill="none" stroke="#00ffff" stroke-width="1.15" stroke-linejoin="round"/>
<path class="mCOA" d="M30.1 184.3L33.5 209.4L36.9 215.4L40.3 218.2L43.6 220.4L47 222.2L50.4 223.5L53.8 224.6L57.2 225.4L60.6 226.1L64 226.9L67.3 227.6L70.7 228.3L74.1 228.9L77.5 229.6L80.9 230.2L84.3 230.7L87.7 231.2L91.1 231.6L94.4 232L97.8 232.3L101.2 232.6L104.6 233L108 233.3L111.4 233.6L114.8 234L118.1 234.3L121.5 234.6L124.9 234.9L127.1 235.1"/>
<path d="M30.1 184.3L30.6 189.3L31.2 193.7L31.7 197.4L32.2 200.1L32.8 202.3L33.3 204.1L33.8 205.6L34.4 206.8L34.9 207.6L35.4 208.2L36 208.8L36.5 209.3L37 209.8L37.6 210.2L38.1 210.6L39.4 211.4L40.7 212.1L42 212.8L43.3 213.4L44.5 214L45.8 214.5L47.1 214.9L48.4 215.3L49.7 215.7L51 216.1L52.3 216.4L53.6 216.7L54.9 217L56.1 217.3L57.4 217.6L58.7 217.8L60 218L61.3 218.3L62.6 218.5L63.9 218.7L65.2 218.9L66.5 219L67.8 219.2L69 219.4L70.3 219.5L71.6 219.7L72.9 219.8L74.2 219.9L75.5 220.1L76.8 220.2L78.1 220.3L79.4 220.4L80.6 220.5L81.9 220.6L83.2 220.8L84.5 220.8L85.8 220.9L87.1 221L88.4 221.1L89.7 221.2L91 221.3L92.2 221.4L93.5 221.5L94.8 221.6L96.1 221.6L97.4 221.7L98.7 221.8L100 221.8L101.3 221.9L102.6 222L103.8 222L105.1 222.1L106.4 222.1L107.7 222.1L109 222.2L110.3 222.2L111.6 222.3L112.9 222.4L114.2 222.5L115.4 222.6L116.7 222.8L118 223L119.3 223.3L120.6 223.6L121.9 224L123.2 224.5L124.5 225.2L125.8 225.9L127.1 226.7" fill="none" stroke="#0000ff" stroke-width="1.15" stroke-linejoin="round"/>
<path class="mDBO" d="M30.1 184.3L33.5 204.7L36.9 209.7L40.3 211.9L43.6 213.6L47 214.9L50.4 215.9L53.8 216.8L57.2 217.5L60.6 218.1L64 218.7L67.3 219.2L70.7 219.6L74.1 219.9L77.5 220.3L80.9 220.6L84.3 220.8L87.7 221.1L91.1 221.3L94.4 221.5L97.8 221.7L101.2 221.9L104.6 222L108 222.1L111.4 222.3L114.8 222.5L118.1 223.1L121.5 223.9L124.9 225.4L127.1 226.7"/>
<path d="M30.1 180.5L30.6 186.9L31.2 192.7L31.7 197.7L32.2 201.7L32.8 205.1L33.3 208.1L33.8 210.7L34.4 212.8L34.9 214.4L35.4 215.7L36 217L36.5 218L37 219L37.6 219.9L38.1 220.7L39.4 222.7L40.7 224.4L42 226L43.3 227.4L44.5 228.7L45.8 229.9L47.1 231.1L48.4 232.2L49.7 233.1L51 233.9L52.3 234.6L53.6 235.2L54.9 235.8L56.1 236.4L57.4 236.9L58.7 237.4L60 237.8L61.3 238.3L62.6 238.7L63.9 239.1L65.2 239.5L66.5 239.9L67.8 240.2L69 240.6L70.3 240.9L71.6 241.2L72.9 241.6L74.2 241.9L75.5 242.1L76.8 242.4L78.1 242.7L79.4 243L80.6 243.2L81.9 243.4L83.2 243.7L84.5 243.9L85.8 244.1L87.1 244.3L88.4 244.5L89.7 244.7L91 244.9L92.2 245.1L93.5 245.2L94.8 245.4L96.1 245.5L97.4 245.7L98.7 245.8L100 245.9L101.3 246.1L102.6 246.2L103.8 246.3L105.1 246.4L106.4 246.5L107.7 246.6L109 246.7L110.3 246.8L111.6 246.9L112.9 247L114.2 247.1L115.4 247.2L116.7 247.3L118 247.3L119.3 247.4L120.6 247.5L121.9 247.6L123.2 247.6L124.5 247.7L125.8 247.8L127.1 247.8" fill="none" stroke="#ff00ff" stroke-width="1.15" stroke-linejoin="round"/>
<path class="mTSO" d="M30.1 180.5L33.5 209.1L36.9 218.7L40.3 223.9L43.6 227.8L47 231L50.4 233.6L53.8 235.4L57.2 236.8L60.6 238L64 239.1L67.3 240.1L70.7 241L74.1 241.8L77.5 242.6L80.9 243.3L84.3 243.9L87.7 244.4L91.1 244.9L94.4 245.3L97.8 245.7L101.2 246.1L104.6 246.4L108 246.7L111.4 246.9L114.8 247.1L118.1 247.4L121.5 247.5L124.9 247.7L127.1 247.8"/>
<path d="M30.1 184.3L30.6 190.1L31.2 195.3L31.7 199.6L32.2 202.7L32.8 205.3L33.3 207.4L33.8 209.2L34.4 210.5L34.9 211.5L35.4 212.3L36 213L36.5 213.7L37 214.3L37.6 214.8L38.1 215.3L39.4 216.3L40.7 217.2L42 218.1L43.3 218.9L44.5 219.6L45.8 220.2L47.1 220.9L48.4 221.4L49.7 221.9L51 222.5L52.3 222.9L53.6 223.4L54.9 223.8L56.1 224.2L57.4 224.6L58.7 225L60 225.4L61.3 225.7L62.6 226L63.9 226.3L65.2 226.6L66.5 226.9L67.8 227.2L69 227.5L70.3 227.7L71.6 228L72.9 228.2L74.2 228.5L75.5 228.7L76.8 228.9L78.1 229.1L79.4 229.3L80.6 229.5L81.9 229.6L83.2 229.8L84.5 230L85.8 230.2L87.1 230.3L88.4 230.5L89.7 230.7L91 231L92.2 231.2L93.5 231.4L94.8 231.6L96.1 231.9L97.4 232.1L98.7 232.3L100 232.5L101.3 232.6L102.6 232.8L103.8 232.9L105.1 233L106.4 233.2L107.7 233.3L109 233.4L110.3 233.5L111.6 233.7L112.9 233.8L114.2 233.9L115.4 234L116.7 234.2L118 234.3L119.3 234.4L120.6 234.5L121.9 234.6L123.2 234.8L124.5 234.9L125.8 235L127.1 235.1" fill="none" stroke="#00ff00" stroke-width="1.15" stroke-linejoin="round" stroke-dasharray="3.2 2.4"/>
<path d="M30.1 184.3L30.6 187.7L31.2 190.9L31.7 193.3L32.2 194.7L32.8 195.5L33.3 196.3L33.8 196.9L34.4 197.3L34.9 197.7L35.4 198L36 198.3L36.5 198.5L37 198.7L37.6 198.9L38.1 199.1L39.4 199.5L40.7 199.9L42 200.1L43.3 200.4L44.5 200.6L45.8 200.8L47.1 201L48.4 201.2L49.7 201.3L51 201.5L52.3 201.6L53.6 201.7L54.9 201.9L56.1 202L57.4 202.1L58.7 202.2L60 202.3L61.3 202.4L62.6 202.5L63.9 202.6L65.2 202.7L66.5 202.8L67.8 202.9L69 203L70.3 203.1L71.6 203.1L72.9 203.2L74.2 203.3L75.5 203.3L76.8 203.4L78.1 203.4L79.4 203.4L80.6 203.5L81.9 203.5L83.2 203.5L84.5 203.5L85.8 203.5L87.1 203.6L88.4 203.6L89.7 203.6L91 203.7L92.2 203.7L93.5 203.8L94.8 205.6L96.1 210.5L97.4 214.2L98.7 216.8L100 218.9L101.3 220.2L102.6 221.1L103.8 221.9L105.1 222.5L106.4 223L107.7 223.5L109 223.9L110.3 224.2L111.6 224.5L112.9 224.7L114.2 225L115.4 225.2L116.7 225.4L118 225.6L119.3 225.9L120.6 226.2L121.9 226.4L123.2 226.7L124.5 227L125.8 227.2L127.1 227.5" fill="none" stroke="#00ffff" stroke-width="1.15" stroke-linejoin="round"/>
<path d="M30.2 185L30.7 187.3L31.3 188.3L31.8 188.8L32.3 189.2L32.9 189.5L33.4 189.7L33.9 190L34.5 190.2L35 190.5L35.5 190.7L36.1 190.9L36.6 191.1L37.1 191.4L37.7 191.5L38.2 191.7L39.5 192.2L40.8 192.6L42.1 193L43.4 193.5L44.7 193.9L46 194.2L47.3 194.6L48.6 195L49.9 195.4L51.2 195.8L52.5 196.2L53.8 196.6L55.1 197L56.4 197.4L57.7 197.8L59 198.2L60.3 198.7L61.6 199.2L62.9 199.8L64.2 200.5L65.5 201.3L66.8 202.1L68.1 203L69.4 204L70.7 205L72 206L73.3 207.2L74.6 208.4L75.9 209.8L77.2 211.2L78.5 212.6L79.8 214.1L81.1 215.7L82.4 217.3L83.8 218.7L85.1 220.1L86.4 221.3L87.7 222.6L89 223.7L90.3 224.8L91.6 225.7L92.9 226.5L94.2 227.3L95.5 228L96.8 228.7L98.1 229.3L99.4 229.9L100.7 230.4L102 231L103.3 231.5L104.6 232.1L105.9 232.6L107.2 233.1L108.5 233.6L109.8 234L111.1 234.4L112.4 234.7L113.7 235L115 235.3L116.3 235.5L117.6 235.7L118.9 236L120.2 236.2L121.5 236.3L122.8 236.5L124.1 236.6L125.4 236.8L126.7 236.9L128 237" fill="none" stroke="#0000ff" stroke-width="1.15" stroke-linejoin="round"/>
<path d="M30.1 183L30.6 188.1L31.2 192.9L31.7 196.5L32.2 198.6L32.8 200L33.3 201.2L33.8 202.2L34.4 203L34.9 203.7L35.4 204.2L36 204.7L36.5 205.1L37 205.5L37.6 205.8L38.1 206.1L39.4 206.7L40.7 207.3L42 207.8L43.3 208.4L44.5 209L45.8 209.7L47.1 210.4L48.4 211.1L49.7 211.7L51 212.3L52.3 212.9L53.6 213.5L54.9 214L56.1 214.6L57.4 215.1L58.7 215.6L60 216.1L61.3 216.6L62.6 217.1L63.9 217.5L65.2 217.9L66.5 218.4L67.8 218.8L69 219.2L70.3 219.5L71.6 219.9L72.9 220.3L74.2 220.7L75.5 221L76.8 221.4L78.1 221.7L79.4 222.1L80.6 222.4L81.9 222.8L83.2 223.1L84.5 223.5L85.8 223.8L87.1 224.1L88.4 224.4L89.7 224.8L91 225.1L92.2 225.4L93.5 225.7L94.8 226L96.1 226.3L97.4 226.7L98.7 227L100 227.3L101.3 227.6L102.6 227.9L103.8 228.2L105.1 228.5L106.4 228.9L107.7 229.2L109 229.5L110.3 229.8L111.6 230.1L112.9 230.4L114.2 230.7L115.4 231L116.7 231.4L118 231.7L119.3 232L120.6 232.3L121.9 232.6L123.2 232.9L124.5 233.2L125.8 233.5L127.1 233.8" fill="none" stroke="#ff00ff" stroke-width="1.15" stroke-linejoin="round"/>
<path d="M30.1 184.3L30.6 190.7L31.2 196.4L31.7 200.9L32.2 204L32.8 206.2L33.3 208L33.8 209.4L34.4 210.6L34.9 211.4L35.4 212.2L36 212.9L36.5 213.6L37 214.2L37.6 214.7L38.1 215.2L39.4 216.3L40.7 217.2L42 218.1L43.3 218.9L44.5 219.6L45.8 220.2L47.1 220.9L48.4 221.4L49.7 221.9L51 222.5L52.3 222.9L53.6 223.4L54.9 223.8L56.1 224.2L57.4 224.6L58.7 225L60 225.4L61.3 225.7L62.6 226L63.9 226.3L65.2 226.6L66.5 226.9L67.8 227.2L69 227.5L70.3 227.7L71.6 228L72.9 228.2L74.2 228.5L75.5 228.7L76.8 228.9L78.1 229.1L79.4 229.3L80.6 229.5L81.9 229.7L83.2 229.9L84.5 230.1L85.8 230.4L87.1 230.6L88.4 230.8L89.7 231L91 231.3L92.2 231.6L93.5 231.8L94.8 232.1L96.1 232.4L97.4 232.7L98.7 232.9L100 233.2L101.3 233.4L102.6 233.6L103.8 233.8L105.1 234L106.4 234.2L107.7 234.4L109 234.6L110.3 234.7L111.6 234.9L112.9 235.1L114.2 235.2L115.4 235.3L116.7 235.5L118 235.6L119.3 235.7L120.6 235.9L121.9 236L123.2 236.1L124.5 236.2L125.8 236.3L127.1 236.4" fill="none" stroke="#00ff00" stroke-width="1.15" stroke-linejoin="round"/>
</g>
<rect x="30.1" y="161.4" width="98.2" height="119.45" fill="none" stroke="#a6a6a6" stroke-width="0.6"/>
<path d="M30.1 280.85v-1.1M30.1 161.4v1.1M49.74 280.85v-1.1M49.74 161.4v1.1M69.38 280.85v-1.1M69.38 161.4v1.1M89.02 280.85v-1.1M89.02 161.4v1.1M108.66 280.85v-1.1M108.66 161.4v1.1M128.3 280.85v-1.1M128.3 161.4v1.1M30.1 161.4h1.1M128.3 161.4h-1.1M30.1 185.54h1.1M128.3 185.54h-1.1M30.1 209.43h1.1M128.3 209.43h-1.1M30.1 233.32h1.1M128.3 233.32h-1.1M30.1 256.96h1.1M128.3 256.96h-1.1M30.1 280.85h1.1M128.3 280.85h-1.1" stroke="#a6a6a6" stroke-width="0.5" fill="none"/>
<text x="30.1" y="289.05" font-size="6.3" text-anchor="middle" fill="#1f1f1f">0</text>
<text x="49.74" y="289.05" font-size="6.3" text-anchor="middle" fill="#1f1f1f">100</text>
<text x="69.38" y="289.05" font-size="6.3" text-anchor="middle" fill="#1f1f1f">200</text>
<text x="89.02" y="289.05" font-size="6.3" text-anchor="middle" fill="#1f1f1f">300</text>
<text x="108.66" y="289.05" font-size="6.3" text-anchor="middle" fill="#1f1f1f">400</text>
<text x="128.3" y="289.05" font-size="6.3" text-anchor="middle" fill="#1f1f1f">500</text>
<text x="27.8" y="164.3" font-size="5.6" text-anchor="end" fill="#1f1f1f">10<tspan dy="-2.3" font-size="4.5">10</tspan></text>
<text x="27.8" y="188.44" font-size="5.6" text-anchor="end" fill="#1f1f1f">10<tspan dy="-2.3" font-size="4.5">9</tspan></text>
<text x="27.8" y="212.33" font-size="5.6" text-anchor="end" fill="#1f1f1f">10<tspan dy="-2.3" font-size="4.5">8</tspan></text>
<text x="27.8" y="236.22" font-size="5.6" text-anchor="end" fill="#1f1f1f">10<tspan dy="-2.3" font-size="4.5">7</tspan></text>
<text x="27.8" y="259.86" font-size="5.6" text-anchor="end" fill="#1f1f1f">10<tspan dy="-2.3" font-size="4.5">6</tspan></text>
<text x="27.8" y="283.75" font-size="5.6" text-anchor="end" fill="#1f1f1f">10<tspan dy="-2.3" font-size="4.5">5</tspan></text>
<text x="79.2" y="297.45" font-size="6.9" text-anchor="middle" fill="#1f1f1f">Iterations</text>
<text transform="translate(12.67 221.12) rotate(-90)" font-size="6.9" text-anchor="middle" fill="#1f1f1f">Fitness</text>
<text x="79.05" y="159.6" font-size="6.95" text-anchor="middle" fill="#1f1f1f" class="t">CEC2017 F17 Dim=100</text>
</g>
<g id="sp6">
<rect x="165.85" y="161.4" width="98.65" height="119.45" fill="#fff"/>
<path d="M165.85 172.29H264.5M165.85 169.74H264.5M165.85 167.93H264.5M165.85 166.52H264.5M165.85 165.38H264.5M165.85 164.41H264.5M165.85 163.57H264.5M165.85 162.83H264.5M165.85 162.16H264.5M165.85 186.77H264.5M165.85 184.22H264.5M165.85 182.41H264.5M165.85 181.01H264.5M165.85 179.86H264.5M165.85 178.89H264.5M165.85 178.05H264.5M165.85 177.31H264.5M165.85 176.65H264.5M165.85 201.26H264.5M165.85 198.71H264.5M165.85 196.9H264.5M165.85 195.5H264.5M165.85 194.35H264.5M165.85 193.38H264.5M165.85 192.54H264.5M165.85 191.8H264.5M165.85 191.14H264.5M165.85 215.75H264.5M165.85 213.2H264.5M165.85 211.39H264.5M165.85 209.98H264.5M165.85 208.84H264.5M165.85 207.87H264.5M165.85 207.03H264.5M165.85 206.28H264.5M165.85 205.62H264.5M165.85 230.23H264.5M165.85 227.68H264.5M165.85 225.87H264.5M165.85 224.47H264.5M165.85 223.32H264.5M165.85 222.35H264.5M165.85 221.51H264.5M165.85 220.77H264.5M165.85 220.11H264.5M165.85 244.72H264.5M165.85 242.17H264.5M165.85 240.36H264.5M165.85 238.96H264.5M165.85 237.81H264.5M165.85 236.84H264.5M165.85 236H264.5M165.85 235.26H264.5M165.85 234.59H264.5M165.85 259.21H264.5M165.85 256.66H264.5M165.85 254.85H264.5M165.85 253.44H264.5M165.85 252.3H264.5M165.85 251.33H264.5M165.85 250.49H264.5M165.85 249.74H264.5M165.85 249.08H264.5M165.85 273.69H264.5M165.85 271.14H264.5M165.85 269.33H264.5M165.85 267.93H264.5M165.85 266.78H264.5M165.85 265.81H264.5M165.85 264.97H264.5M165.85 264.23H264.5M165.85 263.57H264.5M165.85 280.3H264.5M165.85 279.46H264.5M165.85 278.72H264.5M165.85 278.05H264.5" stroke="#f2f2f2" stroke-width="0.45" fill="none"/>
<path d="M185.58 161.4V280.85M205.31 161.4V280.85M225.04 161.4V280.85M244.77 161.4V280.85M165.85 162.16H264.5M165.85 191.14H264.5M165.85 219.85H264.5M165.85 248.57H264.5M165.85 277.55H264.5" stroke="#ececec" stroke-width="0.55" fill="none"/>
<g clip-path="url(#c6)">
<path d="M165.8 183L166.4 186.6L166.9 190.1L167.4 193.3L168 196.3L168.5 199L169 201.4L169.6 203.8L170.1 205.9L170.7 208L171.2 210L171.7 211.9L172.2 213.9L172.8 215.9L173.3 217.8L173.8 219.8L175.1 224.1L176.4 227.4L177.7 230L179 232.4L180.3 235.4L181.6 239L182.9 242.6L184.2 245.7L185.5 248.4L186.8 251L188.1 253.4L189.4 255.8L190.7 258.2L192 260.5L193.3 262.7L194.6 264.7L195.9 266.8L197.2 268.7L198.5 270.5L199.8 272.4L201.1 274.2L202.4 275.9L203.6 277.1L204.9 278L206.2 278.7L207.5 279.3L208.8 279.6L210.1 279.8L211.4 280L212.7 280.2L214 280.3L215.3 280.3L216.6 280.3L217.9 280.3L219.2 280.3L220.5 280.3L221.8 280.3L223.1 280.3L224.4 280.3L225.7 280.3L227 280.3L228.3 280.3L229.6 280.3L230.9 280.3L232.1 280.3L233.4 280.3L234.7 280.3L236 280.3L237.3 280.3L238.6 280.3L239.9 280.3L241.2 280.3L242.5 280.3L243.8 280.3L245.1 280.3L246.4 280.3L247.7 280.3L249 280.3L250.3 280.3L251.6 280.3L252.9 280.3L254.2 280.3L255.5 280.3L256.8 280.3L258.1 280.3L259.4 280.3L260.7 280.3L261.9 280.3L263.2 280.3" fill="none" stroke="#ff0000" stroke-width="1.15" stroke-linejoin="round"/>
<path class="mIMCOA" d="M165.8 183L169.3 202.3L172.7 215.4L176.1 226.6L179.5 233.3L182.9 242.5L186.3 249.9L189.7 256.3L193.1 262.3L196.5 267.7L199.9 272.5L203.3 276.8L206.7 278.9L210.1 279.8L213.5 280.2L216.9 280.3L220.3 280.3L223.7 280.3L227.1 280.3L230.5 280.3L233.9 280.3L237.3 280.3L240.7 280.3L244.1 280.3L247.5 280.3L250.9 280.3L254.3 280.3L257.7 280.3L261.1 280.3L263.2 280.3"/>
<path d="M165.8 183L166.4 184.3L166.9 185.6L167.4 186.9L168 188.1L168.5 189.2L169 190.3L169.6 191.2L170.1 192.1L170.7 192.9L171.2 193.5L171.7 194.1L172.2 194.7L172.8 195.2L173.3 195.6L173.8 196.1L175.1 197.1L176.4 198L177.7 199L179 200L180.3 201.1L181.6 202.2L182.9 203.3L184.2 204.4L185.5 205.5L186.8 206.6L188.1 207.7L189.4 208.9L190.7 210L192 211.2L193.3 212.3L194.6 213.5L195.9 214.6L197.2 215.8L198.5 217L199.8 218.3L201.1 219.5L202.4 220.7L203.6 221.8L204.9 222.9L206.2 223.7L207.5 224.5L208.8 225.3L210.1 226L211.4 226.6L212.7 227.2L214 227.8L215.3 228.4L216.6 228.9L217.9 229.5L219.2 230.1L220.5 230.7L221.8 231.2L223.1 231.7L224.4 232.1L225.7 232.4L227 232.7L228.3 232.9L229.6 233.1L230.9 233.2L232.1 233.4L233.4 233.5L234.7 233.7L236 233.8L237.3 233.9L238.6 234.1L239.9 234.2L241.2 234.4L242.5 234.5L243.8 234.6L245.1 234.7L246.4 234.9L247.7 235L249 235.1L250.3 235.2L251.6 235.4L252.9 235.5L254.2 235.6L255.5 235.7L256.8 235.8L258.1 235.9L259.4 236L260.7 236.2L261.9 236.3L263.2 236.4" fill="none" stroke="#00ffff" stroke-width="1.15" stroke-linejoin="round"/>
<path class="mCOA" d="M165.8 183L169.3 190.6L172.7 195.1L176.1 197.7L179.5 200.4L182.9 203.2L186.3 206.1L189.7 209.1L193.1 212.1L196.5 215.1L199.9 218.4L203.3 221.5L206.7 224L210.1 225.9L213.5 227.6L216.9 229.1L220.3 230.6L223.7 231.9L227.1 232.7L230.5 233.2L233.9 233.6L237.3 233.9L240.7 234.3L244.1 234.6L247.5 235L250.9 235.3L254.3 235.6L257.7 235.9L261.1 236.2L263.2 236.4"/>
<path d="M165.8 181.7L166.4 184L166.9 186.2L167.4 188.1L168 189.7L168.5 190.9L169 191.9L169.6 192.9L170.1 193.7L170.7 194.4L171.2 195L171.7 195.5L172.2 195.8L172.8 196L173.3 196.3L173.8 196.5L175.1 196.9L176.4 197.3L177.7 197.4L179 197.5L180.3 197.5L181.6 197.6L182.9 197.6L184.2 197.6L185.5 197.6L186.8 197.6L188.1 197.6L189.4 197.7L190.7 197.7L192 197.7L193.3 197.7L194.6 197.7L195.9 197.7L197.2 197.7L198.5 197.7L199.8 197.8L201.1 197.8L202.4 197.8L203.6 197.8L204.9 197.8L206.2 197.8L207.5 197.9L208.8 197.9L210.1 197.9L211.4 197.9L212.7 197.9L214 198L215.3 198L216.6 198L217.9 198.1L219.2 198.1L220.5 198.1L221.8 198.2L223.1 198.2L224.4 198.3L225.7 198.4L227 198.6L228.3 198.9L229.6 199.2L230.9 199.6L232.1 200L233.4 200.4L234.7 200.8L236 201.2L237.3 201.6L238.6 202L239.9 202.5L241.2 203L242.5 203.5L243.8 204.1L245.1 204.7L246.4 205.4L247.7 206.2L249 207L250.3 208.1L251.6 209.2L252.9 210.4L254.2 211.7L255.5 213.4L256.8 215.4L258.1 217.4L259.4 219.1L260.7 220.5L261.9 221.9L263.2 223.2" fill="none" stroke="#0000ff" stroke-width="1.15" stroke-linejoin="round"/>
<path class="mDBO" d="M165.8 181.7L169.3 192.3L172.7 196L176.1 197.2L179.5 197.5L182.9 197.6L186.3 197.6L189.7 197.7L193.1 197.7L196.5 197.7L199.9 197.8L203.3 197.8L206.7 197.9L210.1 197.9L213.5 198L216.9 198L220.3 198.1L223.7 198.2L227.1 198.7L230.5 199.5L233.9 200.5L237.3 201.6L240.7 202.8L244.1 204.2L247.5 206L250.9 208.6L254.3 211.9L257.7 216.8L261.1 221L263.2 223.2"/>
<path d="M165.8 180.5L166.4 182.1L166.9 183.8L167.4 185.3L168 186.8L168.5 188.2L169 189.4L169.6 190.5L170.1 191.5L170.7 192.4L171.2 193.3L171.7 194.1L172.2 194.8L172.8 195.5L173.3 196.2L173.8 196.9L175.1 198.5L176.4 200.2L177.7 202L179 203.8L180.3 205.5L181.6 207.2L182.9 209L184.2 210.7L185.5 212.5L186.8 214.3L188.1 216L189.4 217.8L190.7 219.4L192 221.1L193.3 222.7L194.6 224.3L195.9 225.8L197.2 227.3L198.5 228.7L199.8 229.9L201.1 231L202.4 232.1L203.6 233.1L204.9 234.1L206.2 235.2L207.5 236.3L208.8 237.5L210.1 238.6L211.4 239.7L212.7 240.7L214 241.7L215.3 242.6L216.6 243.5L217.9 244.4L219.2 245.2L220.5 246L221.8 246.8L223.1 247.5L224.4 248.1L225.7 248.7L227 249.3L228.3 249.9L229.6 250.5L230.9 251L232.1 251.5L233.4 252L234.7 252.4L236 252.8L237.3 253.2L238.6 253.5L239.9 253.9L241.2 254.2L242.5 254.5L243.8 254.8L245.1 255.1L246.4 255.3L247.7 255.6L249 256L250.3 256.3L251.6 256.6L252.9 257L254.2 257.3L255.5 257.6L256.8 258L258.1 258.3L259.4 258.7L260.7 259L261.9 259.4L263.2 259.8" fill="none" stroke="#ff00ff" stroke-width="1.15" stroke-linejoin="round"/>
<path class="mTSO" d="M165.8 180.5L169.3 189.9L172.7 195.3L176.1 199.7L179.5 204.3L182.9 208.9L186.3 213.5L189.7 218.1L193.1 222.4L196.5 226.5L199.9 230L203.3 232.8L206.7 235.6L210.1 238.5L213.5 241.3L216.9 243.7L220.3 245.9L223.7 247.8L227.1 249.4L230.5 250.8L233.9 252.1L237.3 253.2L240.7 254.1L244.1 254.8L247.5 255.6L250.9 256.5L254.3 257.3L257.7 258.2L261.1 259.2L263.2 259.8"/>
<path d="M165.8 183L166.4 185L166.9 187L167.4 188.8L168 190.5L168.5 192.1L169 193.4L169.6 194.4L170.1 195.2L170.7 195.9L171.2 196.6L171.7 197.3L172.2 197.9L172.8 198.4L173.3 198.9L173.8 199.4L175.1 200.3L176.4 201.1L177.7 201.8L179 202.4L180.3 202.9L181.6 203.4L182.9 203.8L184.2 204.2L185.5 204.5L186.8 204.8L188.1 205L189.4 205.2L190.7 205.4L192 205.6L193.3 205.7L194.6 205.9L195.9 206.1L197.2 206.2L198.5 206.4L199.8 206.5L201.1 206.7L202.4 206.9L203.6 207L204.9 207.2L206.2 207.3L207.5 207.5L208.8 207.6L210.1 207.8L211.4 207.9L212.7 208.1L214 208.3L215.3 208.5L216.6 208.7L217.9 208.8L219.2 209L220.5 209.2L221.8 209.4L223.1 209.6L224.4 209.8L225.7 210L227 210.1L228.3 210.3L229.6 210.5L230.9 210.7L232.1 210.9L233.4 211L234.7 211.2L236 211.4L237.3 211.6L238.6 211.8L239.9 212L241.2 212.2L242.5 212.4L243.8 212.7L245.1 212.9L246.4 213.1L247.7 213.3L249 213.5L250.3 213.7L251.6 214L252.9 214.2L254.2 214.4L255.5 214.6L256.8 214.9L258.1 215.1L259.4 215.3L260.7 215.6L261.9 215.8L263.2 216" fill="none" stroke="#00ff00" stroke-width="1.15" stroke-linejoin="round" stroke-dasharray="3.2 2.4"/>
<path d="M166 181.6L166.5 182.2L167.1 182.7L167.6 183.2L168.1 183.7L168.7 184.2L169.2 184.6L169.7 184.9L170.3 185.1L170.8 185.3L171.3 185.5L171.9 185.7L172.4 185.8L172.9 186L173.5 186.1L174 186.3L175.3 186.5L176.6 186.8L177.9 187L179.2 187.2L180.5 187.3L181.8 187.5L183.1 187.6L184.4 187.8L185.7 187.9L187 187.9L188.3 188L189.7 188.1L191 188.1L192.3 188.2L193.6 188.2L194.9 188.3L196.2 188.3L197.5 188.3L198.8 188.4L200.1 188.4L201.4 188.4L202.7 188.5L204 188.5L205.3 188.5L206.6 188.6L207.9 188.6L209.2 188.6L210.5 188.7L211.8 188.7L213.1 188.7L214.4 188.7L215.7 188.8L217 188.8L218.3 188.8L219.7 188.8L221 188.8L222.3 188.8L223.6 188.9L224.9 188.9L226.2 188.9L227.5 188.9L228.8 188.9L230.1 189L231.4 189.4L232.7 191.4L234 193.3L235.3 195.2L236.6 197.1L237.9 198.9L239.2 200.5L240.5 202.1L241.8 203.6L243.1 205.1L244.4 206.5L245.7 207.9L247 209.1L248.3 210.3L249.7 211.4L251 212.4L252.3 213.4L253.6 214.3L254.9 215.2L256.2 216.1L257.5 216.8L258.8 217.2L260.1 217.5L261.4 217.8L262.7 217.9L264 218" fill="none" stroke="#00ffff" stroke-width="1.15" stroke-linejoin="round"/>
<path d="M165.8 181.7L166.4 181.9L166.9 182L167.4 182.2L168 182.3L168.5 182.5L169 182.6L169.6 182.7L170.1 182.9L170.7 183L171.2 183.1L171.7 183.1L172.2 183.2L172.8 183.3L173.3 183.4L173.8 183.4L175.1 183.6L176.4 183.7L177.7 183.9L179 184L180.3 184.2L181.6 184.4L182.9 184.6L184.2 184.8L185.5 185L186.8 185.2L188.1 185.4L189.4 185.7L190.7 186L192 186.3L193.3 186.8L194.6 187.3L195.9 187.9L197.2 188.5L198.5 189.2L199.8 189.9L201.1 190.6L202.4 191.4L203.6 192.2L204.9 193.1L206.2 194.1L207.5 195.1L208.8 196.2L210.1 197.3L211.4 198.5L212.7 199.9L214 201.5L215.3 203.3L216.6 205.1L217.9 206.9L219.2 208.6L220.5 210.2L221.8 211.6L223.1 212.9L224.4 214.2L225.7 215.4L227 216.6L228.3 217.7L229.6 218.7L230.9 219.6L232.1 220.3L233.4 221L234.7 221.6L236 222.2L237.3 222.8L238.6 223.2L239.9 223.7L241.2 224.1L242.5 224.5L243.8 224.9L245.1 225.3L246.4 225.6L247.7 226L249 226.2L250.3 226.5L251.6 226.7L252.9 227L254.2 227.2L255.5 227.4L256.8 227.6L258.1 227.7L259.4 227.9L260.7 228L261.9 228.1L263.2 228.2" fill="none" stroke="#0000ff" stroke-width="1.15" stroke-linejoin="round"/>
<path d="M165.8 180.5L166.4 181.1L166.9 181.8L167.4 182.5L168 183.1L168.5 183.7L169 184.2L169.6 184.7L170.1 185.1L170.7 185.4L171.2 185.7L171.7 185.9L172.2 186.1L172.8 186.3L173.3 186.4L173.8 186.6L175.1 186.9L176.4 187.2L177.7 187.4L179 187.7L180.3 188L181.6 188.2L182.9 188.5L184.2 188.7L185.5 189L186.8 189.2L188.1 189.5L189.4 189.8L190.7 190L192 190.4L193.3 190.7L194.6 191L195.9 191.4L197.2 191.8L198.5 192.2L199.8 192.7L201.1 193.2L202.4 193.7L203.6 194.3L204.9 194.9L206.2 195.5L207.5 196.2L208.8 197L210.1 197.7L211.4 198.4L212.7 199.2L214 199.9L215.3 200.8L216.6 201.6L217.9 202.4L219.2 203.3L220.5 204.1L221.8 205L223.1 205.8L224.4 206.7L225.7 207.6L227 208.5L228.3 209.4L229.6 210.3L230.9 211.2L232.1 212.1L233.4 213L234.7 214L236 215L237.3 215.9L238.6 216.8L239.9 217.7L241.2 218.5L242.5 219.3L243.8 220L245.1 220.7L246.4 221.3L247.7 222L249 222.6L250.3 223.2L251.6 223.7L252.9 224.3L254.2 224.9L255.5 225.4L256.8 225.9L258.1 226.4L259.4 226.9L260.7 227.4L261.9 227.8L263.2 228.2" fill="none" stroke="#ff00ff" stroke-width="1.15" stroke-linejoin="round"/>
<path d="M165.8 183L166.4 186.1L166.9 189.1L167.4 191.8L168 194.2L168.5 196.2L169 198.1L169.6 199.7L170.1 201.3L170.7 202.7L171.2 204L171.7 205.1L172.2 206.1L172.8 206.9L173.3 207.7L173.8 208.3L175.1 209.8L176.4 211.2L177.7 213.2L179 215.8L180.3 218.5L181.6 220.6L182.9 221.6L184.2 222.2L185.5 222.6L186.8 223L188.1 223.5L189.4 224.1L190.7 224.8L192 225.5L193.3 226.2L194.6 226.9L195.9 227.4L197.2 227.8L198.5 228.2L199.8 228.5L201.1 228.7L202.4 229L203.6 229.3L204.9 229.6L206.2 229.9L207.5 230.2L208.8 230.5L210.1 230.7L211.4 230.8L212.7 230.9L214 231L215.3 231L216.6 231.1L217.9 231.1L219.2 231.2L220.5 231.2L221.8 231.2L223.1 231.3L224.4 231.3L225.7 231.3L227 231.4L228.3 231.4L229.6 231.4L230.9 231.5L232.1 231.5L233.4 231.5L234.7 231.5L236 231.5L237.3 231.6L238.6 231.6L239.9 231.6L241.2 231.6L242.5 231.6L243.8 231.6L245.1 231.7L246.4 231.7L247.7 231.7L249 231.7L250.3 231.7L251.6 231.7L252.9 231.7L254.2 231.8L255.5 231.8L256.8 231.8L258.1 231.8L259.4 231.8L260.7 231.8L261.9 231.8L263.2 231.8" fill="none" stroke="#00ff00" stroke-width="1.15" stroke-linejoin="round"/>
</g>
<rect x="165.85" y="161.4" width="98.65" height="119.45" fill="none" stroke="#a6a6a6" stroke-width="0.6"/>
<path d="M165.85 280.85v-1.1M165.85 161.4v1.1M185.58 280.85v-1.1M185.58 161.4v1.1M205.31 280.85v-1.1M205.31 161.4v1.1M225.04 280.85v-1.1M225.04 161.4v1.1M244.77 280.85v-1.1M244.77 161.4v1.1M264.5 280.85v-1.1M264.5 161.4v1.1M165.85 162.16h1.1M264.5 162.16h-1.1M165.85 191.14h1.1M264.5 191.14h-1.1M165.85 219.85h1.1M264.5 219.85h-1.1M165.85 248.57h1.1M264.5 248.57h-1.1M165.85 277.55h1.1M264.5 277.55h-1.1" stroke="#a6a6a6" stroke-width="0.5" fill="none"/>
<text x="165.85" y="289.05" font-size="6.3" text-anchor="middle" fill="#1f1f1f">0</text>
<text x="185.58" y="289.05" font-size="6.3" text-anchor="middle" fill="#1f1f1f">100</text>
<text x="205.31" y="289.05" font-size="6.3" text-anchor="middle" fill="#1f1f1f">200</text>
<text x="225.04" y="289.05" font-size="6.3" text-anchor="middle" fill="#1f1f1f">300</text>
<text x="244.77" y="289.05" font-size="6.3" text-anchor="middle" fill="#1f1f1f">400</text>
<text x="264.5" y="289.05" font-size="6.3" text-anchor="middle" fill="#1f1f1f">500</text>
<text x="163.55" y="165.06" font-size="5.6" text-anchor="end" fill="#1f1f1f">10<tspan dy="-2.3" font-size="4.5">12</tspan></text>
<text x="163.55" y="194.04" font-size="5.6" text-anchor="end" fill="#1f1f1f">10<tspan dy="-2.3" font-size="4.5">10</tspan></text>
<text x="163.55" y="222.75" font-size="5.6" text-anchor="end" fill="#1f1f1f">10<tspan dy="-2.3" font-size="4.5">8</tspan></text>
<text x="163.55" y="251.47" font-size="5.6" text-anchor="end" fill="#1f1f1f">10<tspan dy="-2.3" font-size="4.5">6</tspan></text>
<text x="163.55" y="280.45" font-size="5.6" text-anchor="end" fill="#1f1f1f">10<tspan dy="-2.3" font-size="4.5">4</tspan></text>
<text x="215.18" y="297.45" font-size="6.9" text-anchor="middle" fill="#1f1f1f">Iterations</text>
<text transform="translate(148.42 221.12) rotate(-90)" font-size="6.9" text-anchor="middle" fill="#1f1f1f">Fitness</text>
<text x="215.03" y="159.6" font-size="6.95" text-anchor="middle" fill="#1f1f1f" class="t">CEC2017 F18 Dim=100</text>
</g>
<g id="sp7">
<rect x="306.6" y="161.4" width="94.3" height="119.45" fill="#fff"/>
<path d="M325.46 161.4V280.85M344.32 161.4V280.85M363.18 161.4V280.85M382.04 161.4V280.85M306.6 185.29H400.9M306.6 209.18H400.9M306.6 233.07H400.9M306.6 256.96H400.9" stroke="#ececec" stroke-width="0.55" fill="none"/>
<g clip-path="url(#c7)">
<path d="M306.6 172.8L307.1 177.3L307.7 181.9L308.2 186.6L308.7 191.7L309.3 197.1L309.8 200.1L310.3 201.7L310.9 203.1L311.4 204.2L311.9 205.1L312.5 205.8L313 206.6L313.5 207.3L314.1 207.9L314.6 208.6L315.8 209.8L317.1 210.9L318.3 212L319.5 213.2L320.8 214.5L322 215.7L323.2 217L324.5 218.2L325.7 219.4L326.9 220.7L328.2 221.9L329.4 223.1L330.6 224.4L331.9 225.6L333.1 226.8L334.3 228.1L335.6 229.3L336.8 230.5L338 231.8L339.2 233L340.5 234.3L341.7 235.6L342.9 236.8L344.2 238.1L345.4 239.3L346.6 240.4L347.9 241.5L349.1 242.6L350.3 243.6L351.6 244.7L352.8 245.6L354 246.6L355.3 247.5L356.5 248.3L357.7 249.1L359 249.9L360.2 250.7L361.4 251.5L362.7 252.3L363.9 253.1L365.1 253.9L366.4 254.7L367.6 255.5L368.8 256.3L370.1 257L371.3 257.7L372.5 258.4L373.8 259.1L375 259.7L376.2 260.3L377.5 261L378.7 261.6L379.9 262.1L381.1 262.7L382.4 263.3L383.6 263.8L384.8 264.4L386.1 264.9L387.3 265.5L388.5 266L389.8 266.5L391 267L392.2 267.5L393.5 267.9L394.7 268.3L395.9 268.8L397.2 269.2L398.4 269.6L399.6 269.9" fill="none" stroke="#ff0000" stroke-width="1.15" stroke-linejoin="round"/>
<path class="mIMCOA" d="M306.6 172.8L309.9 200.3L313.1 206.7L316.4 210.3L319.6 213.3L322.9 216.6L326.1 219.8L329.4 223.1L332.6 226.4L335.9 229.6L339.1 232.9L342.4 236.2L345.6 239.5L348.9 242.4L352.1 245.1L355.4 247.5L358.6 249.7L361.9 251.8L365.1 253.9L368.4 256L371.6 257.9L374.9 259.7L378.1 261.3L381.4 262.8L384.6 264.3L387.9 265.7L391.1 267L394.4 268.2L397.6 269.3L399.6 269.9"/>
<path d="M306.6 170.3L307.1 175.9L307.7 180.9L308.2 184.6L308.7 187.1L309.3 189.1L309.8 190.8L310.3 192.1L310.9 193.1L311.4 193.9L311.9 194.6L312.5 195.2L313 195.8L313.5 196.3L314.1 196.7L314.6 197.1L315.8 198.1L317.1 199.1L318.3 200.1L319.5 201L320.8 201.9L322 202.7L323.2 203.6L324.5 204.4L325.7 205.2L326.9 206L328.2 206.8L329.4 207.6L330.6 208.5L331.9 209.4L333.1 210.2L334.3 211L335.6 211.8L336.8 212.5L338 213.2L339.2 213.9L340.5 214.5L341.7 215.1L342.9 215.7L344.2 216.3L345.4 216.9L346.6 217.4L347.9 218L349.1 218.5L350.3 219L351.6 219.5L352.8 220L354 220.5L355.3 221L356.5 221.5L357.7 221.9L359 222.4L360.2 222.8L361.4 223.2L362.7 223.6L363.9 223.9L365.1 224.3L366.4 224.7L367.6 225L368.8 225.4L370.1 225.7L371.3 226.1L372.5 226.4L373.8 226.8L375 227.1L376.2 227.4L377.5 227.8L378.7 228.1L379.9 228.4L381.1 228.7L382.4 229L383.6 229.3L384.8 229.6L386.1 229.9L387.3 230.2L388.5 230.4L389.8 230.7L391 230.9L392.2 231.2L393.5 231.4L394.7 231.7L395.9 231.9L397.2 232.1L398.4 232.4L399.6 232.6" fill="none" stroke="#00ffff" stroke-width="1.15" stroke-linejoin="round"/>
<path class="mCOA" d="M306.6 170.3L309.9 190.9L313.1 195.9L316.4 198.6L319.6 201L322.9 203.3L326.1 205.5L329.4 207.6L332.6 209.9L335.9 212L339.1 213.8L342.4 215.4L345.6 217L348.9 218.4L352.1 219.8L355.4 221.1L358.6 222.2L361.9 223.3L365.1 224.3L368.4 225.3L371.6 226.2L374.9 227.1L378.1 228L381.4 228.8L384.6 229.6L387.9 230.3L391.1 231L394.4 231.6L397.6 232.2L399.6 232.6"/>
<path d="M306.6 171.6L307.1 177.4L307.7 181.8L308.2 184.6L308.7 186.7L309.3 187.7L309.8 188.3L310.3 188.8L310.9 189.1L311.4 189.4L311.9 189.6L312.5 189.9L313 190.2L313.5 190.7L314.1 191.3L314.6 192.1L315.8 194.1L317.1 196.3L318.3 198.4L319.5 200.3L320.8 202.2L322 204L323.2 205.8L324.5 207.5L325.7 209.1L326.9 210.7L328.2 212.3L329.4 213.8L330.6 215.3L331.9 216.6L333.1 217.9L334.3 219.2L335.6 220.4L336.8 221.5L338 222.6L339.2 223.6L340.5 224.4L341.7 225.1L342.9 225.7L344.2 226.3L345.4 226.7L346.6 227.2L347.9 227.6L349.1 228L350.3 228.4L351.6 228.8L352.8 229.2L354 229.6L355.3 230L356.5 230.3L357.7 230.7L359 231.1L360.2 231.4L361.4 231.8L362.7 232.1L363.9 232.4L365.1 232.7L366.4 233L367.6 233.3L368.8 233.6L370.1 233.9L371.3 234.2L372.5 234.5L373.8 234.8L375 235.2L376.2 235.5L377.5 235.8L378.7 236.1L379.9 236.4L381.1 236.7L382.4 237L383.6 237.3L384.8 237.6L386.1 237.9L387.3 238.2L388.5 238.5L389.8 238.8L391 239.1L392.2 239.5L393.5 239.9L394.7 240.2L395.9 240.7L397.2 241.1L398.4 241.5L399.6 242" fill="none" stroke="#0000ff" stroke-width="1.15" stroke-linejoin="round"/>
<path class="mDBO" d="M306.6 171.6L309.9 188.4L313.1 190.3L316.4 195L319.6 200.4L322.9 205.2L326.1 209.7L329.4 213.8L332.6 217.5L335.9 220.7L339.1 223.5L342.4 225.5L345.6 226.8L348.9 227.9L352.1 229L355.4 230L358.6 231L361.9 231.9L365.1 232.7L368.4 233.5L371.6 234.3L374.9 235.1L378.1 235.9L381.4 236.8L384.6 237.6L387.9 238.3L391.1 239.2L394.4 240.1L397.6 241.2L399.6 242"/>
<path d="M306.6 167.8L307.1 173.2L307.7 178L308.2 182L308.7 184.9L309.3 187.6L309.8 189.8L310.3 191.7L310.9 193.1L311.4 194.1L311.9 195L312.5 195.7L313 196.4L313.5 197L314.1 197.6L314.6 198.1L315.8 199.4L317.1 200.7L318.3 201.9L319.5 203.1L320.8 204.3L322 205.6L323.2 207L324.5 208.3L325.7 209.7L326.9 211.2L328.2 212.8L329.4 214.6L330.6 216.5L331.9 218.7L333.1 220.9L334.3 223.1L335.6 225.1L336.8 227L338 228.7L339.2 230.4L340.5 232L341.7 233.6L342.9 235.2L344.2 236.8L345.4 238.5L346.6 240.2L347.9 241.9L349.1 243.6L350.3 245.2L351.6 246.7L352.8 248.1L354 249.4L355.3 250.7L356.5 251.9L357.7 253.1L359 254.1L360.2 255L361.4 255.8L362.7 256.6L363.9 257.4L365.1 258L366.4 258.6L367.6 259.1L368.8 259.5L370.1 260L371.3 260.3L372.5 260.7L373.8 261L375 261.3L376.2 261.6L377.5 261.9L378.7 262.2L379.9 262.5L381.1 262.8L382.4 263.1L383.6 263.3L384.8 263.5L386.1 263.7L387.3 263.9L388.5 264L389.8 264.1L391 264.3L392.2 264.4L393.5 264.5L394.7 264.6L395.9 264.7L397.2 264.8L398.4 264.8L399.6 264.8" fill="none" stroke="#ff00ff" stroke-width="1.15" stroke-linejoin="round"/>
<path class="mTSO" d="M306.6 167.8L309.9 190L313.1 196.5L316.4 199.9L319.6 203.1L322.9 206.6L326.1 210.2L329.4 214.5L332.6 220L335.9 225.6L339.1 230.2L342.4 234.4L345.6 238.8L348.9 243.3L352.1 247.3L355.4 250.8L358.6 253.8L361.9 256.1L365.1 258L368.4 259.4L371.6 260.4L374.9 261.3L378.1 262.1L381.4 262.9L384.6 263.5L387.9 263.9L391.1 264.3L394.4 264.6L397.6 264.8L399.6 264.8"/>
<path d="M306.6 170.3L307.1 175.8L307.7 180.9L308.2 184.7L308.7 187L309.3 189L309.8 190.7L310.3 192.2L310.9 193.4L311.4 194.5L311.9 195.4L312.5 196.1L313 196.8L313.5 197.4L314.1 198L314.6 198.5L315.8 199.6L317.1 200.6L318.3 201.5L319.5 202.3L320.8 203.1L322 204L323.2 204.8L324.5 205.6L325.7 206.4L326.9 207.1L328.2 207.9L329.4 208.6L330.6 209.3L331.9 210.1L333.1 210.9L334.3 211.8L335.6 212.6L336.8 213.4L338 214.2L339.2 214.9L340.5 215.6L341.7 216.2L342.9 216.8L344.2 217.3L345.4 217.7L346.6 218.2L347.9 218.6L349.1 219L350.3 219.4L351.6 219.9L352.8 220.3L354 220.7L355.3 221.1L356.5 221.5L357.7 221.9L359 222.3L360.2 222.9L361.4 223.6L362.7 224.6L363.9 226.1L365.1 228L366.4 230L367.6 231.9L368.8 233.5L370.1 234.5L371.3 235.4L372.5 236.2L373.8 236.9L375 237.6L376.2 238.5L377.5 239.4L378.7 240.6L379.9 241.8L381.1 243.2L382.4 244.6L383.6 246.1L384.8 247.6L386.1 249.2L387.3 250.8L388.5 252.4L389.8 254L391 255.5L392.2 256.9L393.5 258.2L394.7 259.5L395.9 260.6L397.2 261.9L398.4 263.1L399.6 264.3" fill="none" stroke="#00ff00" stroke-width="1.15" stroke-linejoin="round" stroke-dasharray="3.2 2.4"/>
<path d="M306.6 170.3L307.1 175.9L307.7 181L308.2 184.7L308.7 186.9L309.3 188.7L309.8 190.3L310.3 191.6L310.9 192.7L311.4 193.6L311.9 194.2L312.5 194.7L313 195.1L313.5 195.4L314.1 195.8L314.6 196.1L315.8 196.7L317.1 197.2L318.3 197.6L319.5 198L320.8 198.2L322 198.4L323.2 198.6L324.5 198.7L325.7 198.9L326.9 199L328.2 199.1L329.4 199.2L330.6 199.3L331.9 199.4L333.1 199.5L334.3 199.6L335.6 199.7L336.8 199.7L338 199.8L339.2 199.9L340.5 200L341.7 200L342.9 200.1L344.2 200.2L345.4 200.2L346.6 200.3L347.9 200.4L349.1 200.4L350.3 200.4L351.6 200.5L352.8 200.5L354 200.5L355.3 200.5L356.5 200.6L357.7 200.6L359 200.6L360.2 200.7L361.4 200.7L362.7 200.8L363.9 200.8L365.1 200.9L366.4 201L367.6 201.2L368.8 201.5L370.1 217L371.3 224.7L372.5 228.7L373.8 231.5L375 233.9L376.2 236.1L377.5 237.9L378.7 239.4L379.9 240.8L381.1 242L382.4 243.1L383.6 244.1L384.8 245L386.1 245.9L387.3 246.8L388.5 247.7L389.8 248.6L391 249.5L392.2 250.3L393.5 251L394.7 251.7L395.9 252.3L397.2 252.8L398.4 253.3L399.6 253.7" fill="none" stroke="#00ffff" stroke-width="1.15" stroke-linejoin="round"/>
<path d="M306.6 170.3L307.1 174.8L307.7 179L308.2 182.2L308.7 184.4L309.3 186.4L309.8 188.2L310.3 189.7L310.9 191.1L311.4 192.1L311.9 192.9L312.5 193.4L313 193.9L313.5 194.3L314.1 194.7L314.6 195.1L315.8 195.8L317.1 196.4L318.3 196.9L319.5 197.3L320.8 197.7L322 198L323.2 198.3L324.5 198.6L325.7 198.9L326.9 199.1L328.2 199.3L329.4 199.5L330.6 199.7L331.9 199.9L333.1 200.2L334.3 200.4L335.6 200.6L336.8 200.9L338 201.1L339.2 201.3L340.5 201.5L341.7 201.7L342.9 202L344.2 202.3L345.4 202.6L346.6 202.9L347.9 203.3L349.1 203.7L350.3 204.1L351.6 204.6L352.8 205.1L354 205.7L355.3 206.4L356.5 207.1L357.7 207.9L359 208.9L360.2 210.1L361.4 211.5L362.7 213.2L363.9 215.5L365.1 218.8L366.4 222.6L367.6 227L368.8 232.1L370.1 237.3L371.3 241.9L372.5 246.4L373.8 250.3L375 253.2L376.2 255.8L377.5 258L378.7 259.8L379.9 261.1L381.1 262.2L382.4 263.1L383.6 263.9L384.8 264.6L386.1 265.2L387.3 265.7L388.5 266.1L389.8 266.5L391 266.8L392.2 267.1L393.5 267.4L394.7 267.7L395.9 267.9L397.2 268.2L398.4 268.4L399.6 268.7" fill="none" stroke="#0000ff" stroke-width="1.15" stroke-linejoin="round"/>
<path d="M306.6 170.3L307.1 177.7L307.7 184.3L308.2 189.4L308.7 192.7L309.3 195.3L309.8 197.6L310.3 199.6L310.9 201.3L311.4 202.8L311.9 204.1L312.5 205.2L313 206.2L313.5 207.2L314.1 208.1L314.6 208.9L315.8 210.5L317.1 211.9L318.3 213.3L319.5 214.5L320.8 215.6L322 216.7L323.2 217.6L324.5 218.6L325.7 219.5L326.9 220.5L328.2 221.4L329.4 222.4L330.6 223.3L331.9 224.2L333.1 225.1L334.3 226L335.6 226.9L336.8 227.9L338 228.8L339.2 229.8L340.5 230.7L341.7 231.7L342.9 232.6L344.2 233.5L345.4 234.4L346.6 235.3L347.9 236.1L349.1 236.9L350.3 237.7L351.6 238.5L352.8 239.3L354 240L355.3 240.7L356.5 241.4L357.7 242.1L359 242.8L360.2 243.4L361.4 244.1L362.7 244.7L363.9 245.3L365.1 245.9L366.4 246.4L367.6 246.9L368.8 247.4L370.1 247.9L371.3 248.3L372.5 248.8L373.8 249.2L375 249.7L376.2 250.1L377.5 250.6L378.7 251.1L379.9 251.6L381.1 252.1L382.4 252.6L383.6 253L384.8 253.5L386.1 253.9L387.3 254.3L388.5 254.6L389.8 255L391 255.3L392.2 255.6L393.5 255.9L394.7 256.2L395.9 256.5L397.2 256.8L398.4 257L399.6 257.2" fill="none" stroke="#ff00ff" stroke-width="1.15" stroke-linejoin="round"/>
<path d="M306.6 170.3L307.1 176.6L307.7 182.3L308.2 186.9L308.7 190.2L309.3 193.1L309.8 195.7L310.3 198L310.9 200L311.4 201.6L311.9 202.9L312.5 203.8L313 204.6L313.5 205.2L314.1 205.8L314.6 206.2L315.8 207.2L317.1 208.2L318.3 209.4L319.5 211.2L320.8 213.4L322 215.7L323.2 218L324.5 220L325.7 221.9L326.9 223.8L328.2 225.5L329.4 227.2L330.6 228.6L331.9 230.1L333.1 231.6L334.3 233.5L335.6 235.8L336.8 238.4L338 241.1L339.2 243.7L340.5 246.9L341.7 250.1L342.9 252.8L344.2 254.5L345.4 255.6L346.6 256.5L347.9 257.3L349.1 258L350.3 258.6L351.6 259.3L352.8 260L354 260.7L355.3 261.4L356.5 262L357.7 262.6L359 263L360.2 263.4L361.4 263.7L362.7 264L363.9 264.3L365.1 264.5L366.4 264.8L367.6 265L368.8 265.2L370.1 265.4L371.3 265.5L372.5 265.7L373.8 265.9L375 266L376.2 266.1L377.5 266.2L378.7 266.4L379.9 266.5L381.1 266.6L382.4 266.7L383.6 266.8L384.8 266.9L386.1 267L387.3 267.1L388.5 267.2L389.8 267.3L391 267.5L392.2 267.6L393.5 267.7L394.7 267.8L395.9 267.9L397.2 268L398.4 268L399.6 268.1" fill="none" stroke="#00ff00" stroke-width="1.15" stroke-linejoin="round"/>
</g>
<rect x="306.6" y="161.4" width="94.3" height="119.45" fill="none" stroke="#a6a6a6" stroke-width="0.6"/>
<path d="M306.6 280.85v-1.1M306.6 161.4v1.1M325.46 280.85v-1.1M325.46 161.4v1.1M344.32 280.85v-1.1M344.32 161.4v1.1M363.18 280.85v-1.1M363.18 161.4v1.1M382.04 280.85v-1.1M382.04 161.4v1.1M400.9 280.85v-1.1M400.9 161.4v1.1M306.6 161.4h1.1M400.9 161.4h-1.1M306.6 185.29h1.1M400.9 185.29h-1.1M306.6 209.18h1.1M400.9 209.18h-1.1M306.6 233.07h1.1M400.9 233.07h-1.1M306.6 256.96h1.1M400.9 256.96h-1.1M306.6 280.85h1.1M400.9 280.85h-1.1" stroke="#a6a6a6" stroke-width="0.5" fill="none"/>
<text x="306.6" y="289.05" font-size="6.3" text-anchor="middle" fill="#1f1f1f">0</text>
<text x="325.46" y="289.05" font-size="6.3" text-anchor="middle" fill="#1f1f1f">100</text>
<text x="344.32" y="289.05" font-size="6.3" text-anchor="middle" fill="#1f1f1f">200</text>
<text x="363.18" y="289.05" font-size="6.3" text-anchor="middle" fill="#1f1f1f">300</text>
<text x="382.04" y="289.05" font-size="6.3" text-anchor="middle" fill="#1f1f1f">400</text>
<text x="400.9" y="289.05" font-size="6.3" text-anchor="middle" fill="#1f1f1f">500</text>
<text x="304.3" y="164.4" font-size="6.3" text-anchor="end" fill="#1f1f1f">10000</text>
<text x="304.3" y="188.29" font-size="6.3" text-anchor="end" fill="#1f1f1f">9000</text>
<text x="304.3" y="212.18" font-size="6.3" text-anchor="end" fill="#1f1f1f">8000</text>
<text x="304.3" y="236.07" font-size="6.3" text-anchor="end" fill="#1f1f1f">7000</text>
<text x="304.3" y="259.96" font-size="6.3" text-anchor="end" fill="#1f1f1f">6000</text>
<text x="304.3" y="283.85" font-size="6.3" text-anchor="end" fill="#1f1f1f">5000</text>
<text x="353.75" y="297.45" font-size="6.9" text-anchor="middle" fill="#1f1f1f">Iterations</text>
<text transform="translate(284.09 221.12) rotate(-90)" font-size="6.9" text-anchor="middle" fill="#1f1f1f">Fitness</text>
<text x="353.6" y="159.6" font-size="6.95" text-anchor="middle" fill="#1f1f1f" class="t">CEC2017 F19 Dim=100</text>
</g>
<g id="sp8">
<rect x="439.2" y="161.4" width="97.2" height="119.45" fill="#fff"/>
<path d="M458.64 161.4V280.85M478.08 161.4V280.85M497.52 161.4V280.85M516.96 161.4V280.85M439.2 178.43H536.4M439.2 195.46H536.4M439.2 212.48H536.4M439.2 229.51H536.4M439.2 246.54H536.4M439.2 263.82H536.4" stroke="#ececec" stroke-width="0.55" fill="none"/>
<g clip-path="url(#c8)">
<path d="M439.2 177.9L439.7 187.4L440.3 196.7L440.8 205.9L441.3 216L441.9 227.2L442.4 235.7L442.9 238.2L443.5 239.1L444 239.8L444.5 240.3L445.1 240.7L445.6 241.1L446.1 241.7L446.7 242.2L447.2 242.8L448.5 244.1L449.8 245.3L451 246.1L452.3 246.6L453.6 247L454.9 247.4L456.2 247.9L457.5 248.5L458.7 249.1L460 249.8L461.3 250.7L462.6 251.9L463.9 253.3L465.1 254.7L466.4 256L467.7 257.1L469 258.3L470.3 259.3L471.6 260.4L472.8 261.4L474.1 262.4L475.4 263.3L476.7 264.3L478 265.2L479.2 266L480.5 266.7L481.8 267.4L483.1 267.9L484.4 268.5L485.7 269L486.9 269.5L488.2 269.9L489.5 270.3L490.8 270.7L492.1 271L493.3 271.3L494.6 271.6L495.9 271.9L497.2 272.1L498.5 272.4L499.8 272.6L501 272.8L502.3 272.9L503.6 273.1L504.9 273.2L506.2 273.3L507.5 273.5L508.7 273.6L510 273.7L511.3 273.8L512.6 273.9L513.9 274L515.1 274L516.4 274.1L517.7 274.2L519 274.3L520.3 274.3L521.6 274.4L522.8 274.5L524.1 274.5L525.4 274.6L526.7 274.7L528 274.7L529.2 274.8L530.5 274.8L531.8 274.9L533.1 274.9L534.4 275L535.7 275" fill="none" stroke="#ff0000" stroke-width="1.15" stroke-linejoin="round"/>
<path class="mIMCOA" d="M439.2 177.9L442.6 237L445.9 241.4L449.3 244.9L452.6 246.7L456 247.8L459.3 249.4L462.7 252L466 255.6L469.4 258.6L472.7 261.3L476.1 263.8L479.4 266.1L482.8 267.8L486.1 269.2L489.5 270.3L492.8 271.2L496.2 271.9L499.5 272.5L502.9 273L506.2 273.3L509.6 273.6L512.9 273.9L516.3 274.1L519.6 274.3L523 274.5L526.3 274.6L529.7 274.8L533 274.9L535.7 275"/>
<path d="M439.2 183L439.7 189.5L440.3 195.2L440.8 199.8L441.3 203.2L441.9 206.2L442.4 208.7L442.9 210.8L443.5 212.3L444 213.5L444.5 214.6L445.1 215.5L445.6 216.4L446.1 217.1L446.7 217.8L447.2 218.5L448.5 219.9L449.8 221.3L451 222.5L452.3 223.6L453.6 224.6L454.9 225.5L456.2 226.4L457.5 227.2L458.7 227.9L460 228.6L461.3 229.3L462.6 229.9L463.9 230.5L465.1 231L466.4 231.5L467.7 232L469 232.4L470.3 232.8L471.6 233.2L472.8 233.5L474.1 233.9L475.4 234.2L476.7 234.6L478 234.9L479.2 235.3L480.5 235.6L481.8 236L483.1 236.3L484.4 236.6L485.7 236.9L486.9 237.1L488.2 237.3L489.5 237.6L490.8 237.8L492.1 238L493.3 238.2L494.6 238.4L495.9 238.6L497.2 238.8L498.5 238.9L499.8 239.1L501 239.3L502.3 239.5L503.6 239.7L504.9 239.9L506.2 240.1L507.5 240.3L508.7 240.5L510 240.6L511.3 240.8L512.6 240.9L513.9 241L515.1 241.1L516.4 241.2L517.7 241.3L519 241.4L520.3 241.5L521.6 241.6L522.8 241.7L524.1 241.8L525.4 241.9L526.7 242L528 242.1L529.2 242.2L530.5 242.3L531.8 242.4L533.1 242.5L534.4 242.6L535.7 242.7" fill="none" stroke="#00ffff" stroke-width="1.15" stroke-linejoin="round"/>
<path class="mCOA" d="M439.2 183L442.6 209.3L445.9 216.8L449.3 220.8L452.6 223.8L456 226.2L459.3 228.2L462.7 229.9L466 231.3L469.4 232.5L472.7 233.5L476.1 234.4L479.4 235.3L482.8 236.2L486.1 236.9L489.5 237.6L492.8 238.1L496.2 238.6L499.5 239.1L502.9 239.6L506.2 240.1L509.6 240.6L512.9 240.9L516.3 241.2L519.6 241.4L523 241.7L526.3 242L529.7 242.2L533 242.5L535.7 242.7"/>
<path d="M439.2 184.3L439.7 189.2L440.3 193.7L440.8 197.4L441.3 200.3L441.9 203L442.4 205.3L442.9 207.1L443.5 208.5L444 209.5L444.5 210.4L445.1 211.2L445.6 211.8L446.1 212.5L446.7 213L447.2 213.6L448.5 214.8L449.8 216.1L451 217.3L452.3 218.5L453.6 219.5L454.9 220.4L456.2 221.3L457.5 222.1L458.7 222.8L460 223.5L461.3 224.2L462.6 224.8L463.9 225.4L465.1 225.9L466.4 226.4L467.7 226.9L469 227.3L470.3 227.8L471.6 228.2L472.8 228.5L474.1 228.9L475.4 229.2L476.7 229.4L478 229.7L479.2 229.9L480.5 230.1L481.8 230.3L483.1 230.4L484.4 230.6L485.7 230.8L486.9 230.9L488.2 231.1L489.5 231.2L490.8 231.3L492.1 231.5L493.3 231.6L494.6 231.7L495.9 231.8L497.2 232L498.5 232.1L499.8 232.2L501 232.3L502.3 232.4L503.6 232.5L504.9 232.6L506.2 232.7L507.5 232.8L508.7 232.9L510 233L511.3 233.1L512.6 233.2L513.9 233.3L515.1 233.4L516.4 233.5L517.7 233.5L519 233.6L520.3 233.7L521.6 233.7L522.8 233.8L524.1 233.9L525.4 233.9L526.7 234L528 234.1L529.2 234.1L530.5 234.2L531.8 234.2L533.1 234.3L534.4 234.3L535.7 234.3" fill="none" stroke="#0000ff" stroke-width="1.15" stroke-linejoin="round"/>
<path class="mDBO" d="M439.2 184.3L442.6 205.8L445.9 212.2L449.3 215.6L452.6 218.7L456 221.2L459.3 223.2L462.7 224.9L466 226.3L469.4 227.5L472.7 228.5L476.1 229.3L479.4 229.9L482.8 230.4L486.1 230.8L489.5 231.2L492.8 231.5L496.2 231.9L499.5 232.2L502.9 232.5L506.2 232.7L509.6 233L512.9 233.2L516.3 233.4L519.6 233.6L523 233.8L526.3 234L529.7 234.1L533 234.3L535.7 234.3"/>
<path d="M439.2 177.4L439.7 183.6L440.3 189.3L440.8 194.4L441.3 199L441.9 203.5L442.4 207.6L442.9 211L443.5 213.6L444 215.6L444.5 217.4L445.1 219L445.6 220.4L446.1 221.6L446.7 222.7L447.2 223.7L448.5 225.8L449.8 227.5L451 229L452.3 230.3L453.6 231.5L454.9 232.5L456.2 233.5L457.5 234.4L458.7 235.2L460 235.9L461.3 236.6L462.6 237.2L463.9 237.8L465.1 238.4L466.4 239L467.7 239.5L469 240L470.3 240.4L471.6 240.9L472.8 241.3L474.1 241.7L475.4 242.1L476.7 242.4L478 242.8L479.2 243.1L480.5 243.4L481.8 243.7L483.1 244L484.4 244.2L485.7 244.5L486.9 244.7L488.2 245L489.5 245.2L490.8 245.4L492.1 245.6L493.3 245.8L494.6 246L495.9 246.2L497.2 246.4L498.5 246.6L499.8 246.8L501 247L502.3 247.2L503.6 247.3L504.9 247.5L506.2 247.7L507.5 247.9L508.7 248.1L510 248.2L511.3 248.4L512.6 248.5L513.9 248.7L515.1 248.8L516.4 249L517.7 249.1L519 249.2L520.3 249.3L521.6 249.5L522.8 249.6L524.1 249.7L525.4 249.8L526.7 249.8L528 249.9L529.2 250L530.5 250.1L531.8 250.2L533.1 250.2L534.4 250.3L535.7 250.4" fill="none" stroke="#ff00ff" stroke-width="1.15" stroke-linejoin="round"/>
<path class="mTSO" d="M439.2 177.4L442.6 208.6L445.9 221.1L449.3 226.8L452.6 230.6L456 233.3L459.3 235.5L462.7 237.3L466 238.8L469.4 240.1L472.7 241.3L476.1 242.2L479.4 243.1L482.8 243.9L486.1 244.6L489.5 245.2L492.8 245.7L496.2 246.2L499.5 246.7L502.9 247.2L506.2 247.7L509.6 248.2L512.9 248.6L516.3 248.9L519.6 249.3L523 249.6L526.3 249.8L529.7 250L533 250.2L535.7 250.4"/>
<path d="M439.2 183L439.7 192.9L440.3 201.9L440.8 209.3L441.3 215.2L441.9 220.9L442.4 225.7L442.9 229.4L443.5 231.3L444 232.3L444.5 233.1L445.1 233.8L445.6 234.3L446.1 234.8L446.7 235.2L447.2 235.6L448.5 236.4L449.8 237.3L451 238L452.3 238.7L453.6 239.3L454.9 239.8L456.2 240.3L457.5 240.7L458.7 241.1L460 241.4L461.3 241.7L462.6 242L463.9 242.3L465.1 242.6L466.4 242.9L467.7 243.1L469 243.4L470.3 243.7L471.6 244L472.8 244.2L474.1 244.5L475.4 244.7L476.7 244.9L478 245.1L479.2 245.2L480.5 245.4L481.8 245.6L483.1 245.7L484.4 245.9L485.7 246L486.9 246.2L488.2 246.3L489.5 246.4L490.8 246.5L492.1 246.6L493.3 246.7L494.6 246.9L495.9 247L497.2 247.2L498.5 247.3L499.8 247.5L501 247.8L502.3 248.1L503.6 248.4L504.9 248.7L506.2 249L507.5 249.4L508.7 249.8L510 250.1L511.3 250.5L512.6 250.9L513.9 251.4L515.1 251.9L516.4 252.4L517.7 252.9L519 253.4L520.3 254L521.6 254.5L522.8 255.1L524.1 255.8L525.4 256.4L526.7 257.1L528 257.9L529.2 258.7L530.5 259.9L531.8 260.8L533.1 261.3L534.4 261.3L535.7 261.3" fill="none" stroke="#00ff00" stroke-width="1.15" stroke-linejoin="round" stroke-dasharray="3.2 2.4"/>
<path d="M439.2 183L439.7 185.9L440.3 188.6L440.8 190.4L441.3 191.2L441.9 191.8L442.4 192.3L442.9 192.7L443.5 193.1L444 193.4L444.5 193.7L445.1 194L445.6 194.2L446.1 194.6L446.7 194.9L447.2 195.2L448.5 196L449.8 196.7L451 197.3L452.3 197.8L453.6 198.3L454.9 198.7L456.2 199.1L457.5 199.5L458.7 199.8L460 200.1L461.3 200.4L462.6 200.7L463.9 200.9L465.1 201.2L466.4 201.4L467.7 201.6L469 201.8L470.3 202L471.6 202.2L472.8 202.4L474.1 202.6L475.4 202.8L476.7 202.9L478 203.1L479.2 203.2L480.5 203.3L481.8 203.4L483.1 203.5L484.4 203.6L485.7 203.6L486.9 203.7L488.2 203.7L489.5 203.8L490.8 203.8L492.1 203.8L493.3 203.9L494.6 204L495.9 204.1L497.2 204.2L498.5 204.3L499.8 204.5L501 204.7L502.3 207.2L503.6 210.6L504.9 212.6L506.2 213.6L507.5 214.4L508.7 215.1L510 215.7L511.3 216.3L512.6 216.9L513.9 217.5L515.1 218.1L516.4 218.6L517.7 219.2L519 219.7L520.3 220.2L521.6 220.7L522.8 221.2L524.1 221.7L525.4 222.2L526.7 222.7L528 223.2L529.2 223.7L530.5 224.1L531.8 224.5L533.1 224.9L534.4 225.3L535.7 225.7" fill="none" stroke="#00ffff" stroke-width="1.15" stroke-linejoin="round"/>
<path d="M439.2 180.5L439.7 182.8L440.3 184.9L440.8 186.5L441.3 187.5L441.9 188.2L442.4 188.8L442.9 189.4L443.5 189.8L444 190.3L444.5 190.7L445.1 191.1L445.6 191.6L446.1 192.1L446.7 192.7L447.2 193.2L448.5 194.6L449.8 195.9L451 197.2L452.3 198.5L453.6 199.7L454.9 200.9L456.2 202L457.5 203L458.7 204.1L460 205.1L461.3 206.2L462.6 207.3L463.9 208.3L465.1 209.4L466.4 210.4L467.7 211.6L469 212.9L470.3 214.4L471.6 216L472.8 217.6L474.1 219.2L475.4 220.7L476.7 222L478 223.2L479.2 224.3L480.5 225.4L481.8 226.4L483.1 227.3L484.4 228.1L485.7 228.8L486.9 229.4L488.2 230L489.5 230.6L490.8 231.3L492.1 232L493.3 232.8L494.6 233.7L495.9 234.6L497.2 235.5L498.5 236.5L499.8 237.7L501 239L502.3 240.4L503.6 241.8L504.9 243.2L506.2 244.4L507.5 245.6L508.7 246.8L510 247.9L511.3 249L512.6 249.9L513.9 250.8L515.1 251.6L516.4 252.3L517.7 253L519 253.6L520.3 254L521.6 254.4L522.8 254.7L524.1 255L525.4 255.2L526.7 255.4L528 255.4L529.2 255.4L530.5 255.4L531.8 255.4L533.1 255.4L534.4 255.4L535.7 255.4" fill="none" stroke="#0000ff" stroke-width="1.15" stroke-linejoin="round"/>
<path d="M439.2 177.9L439.7 189.2L440.3 197.5L440.8 198.4L441.3 198.7L441.9 198.9L442.4 199L442.9 199.1L443.5 199.2L444 199.2L444.5 199.3L445.1 199.4L445.6 199.5L446.1 199.6L446.7 199.7L447.2 199.8L448.5 200L449.8 200.2L451 200.5L452.3 200.7L453.6 200.9L454.9 201.1L456.2 201.4L457.5 201.6L458.7 201.9L460 202.1L461.3 202.4L462.6 202.7L463.9 202.9L465.1 203.2L466.4 203.4L467.7 203.7L469 204L470.3 204.2L471.6 204.5L472.8 204.7L474.1 205L475.4 205.3L476.7 205.6L478 205.8L479.2 206.1L480.5 206.4L481.8 206.7L483.1 207L484.4 207.3L485.7 207.6L486.9 207.9L488.2 208.2L489.5 208.5L490.8 208.8L492.1 209L493.3 209.3L494.6 209.6L495.9 209.9L497.2 210.2L498.5 210.5L499.8 210.8L501 211.1L502.3 211.4L503.6 211.7L504.9 212L506.2 212.4L507.5 212.7L508.7 213L510 213.3L511.3 213.6L512.6 214L513.9 214.3L515.1 214.6L516.4 215L517.7 215.3L519 215.6L520.3 216L521.6 216.3L522.8 216.7L524.1 217.1L525.4 217.4L526.7 217.8L528 218.2L529.2 218.6L530.5 219L531.8 219.4L533.1 219.8L534.4 220.2L535.7 220.6" fill="none" stroke="#ff00ff" stroke-width="1.15" stroke-linejoin="round"/>
<path d="M439.2 183L439.7 192.7L440.3 201.5L440.8 209.1L441.3 215.9L441.9 222.4L442.4 227.2L442.9 229.6L443.5 231.1L444 232.2L444.5 233.2L445.1 233.9L445.6 234.7L446.1 235.4L446.7 236.1L447.2 236.7L448.5 238.1L449.8 239.3L451 240.3L452.3 241L453.6 241.7L454.9 242.2L456.2 242.9L457.5 243.5L458.7 244.2L460 244.8L461.3 245.5L462.6 246.1L463.9 246.8L465.1 247.5L466.4 248.1L467.7 248.8L469 249.5L470.3 250.1L471.6 250.7L472.8 251.2L474.1 251.7L475.4 252.3L476.7 252.7L478 253.2L479.2 253.7L480.5 254.1L481.8 254.5L483.1 254.8L484.4 255.2L485.7 255.5L486.9 255.8L488.2 256.1L489.5 256.4L490.8 256.7L492.1 257L493.3 257.2L494.6 257.5L495.9 257.7L497.2 257.9L498.5 258.1L499.8 258.3L501 258.5L502.3 258.7L503.6 258.9L504.9 259L506.2 259.2L507.5 259.3L508.7 259.5L510 259.7L511.3 259.8L512.6 260L513.9 260.2L515.1 260.4L516.4 260.6L517.7 260.8L519 261L520.3 261.2L521.6 261.4L522.8 261.6L524.1 261.8L525.4 262L526.7 262.1L528 262.2L529.2 262.3L530.5 262.2L531.8 262L533.1 261.6L534.4 261.1L535.7 260.5" fill="none" stroke="#00ff00" stroke-width="1.15" stroke-linejoin="round"/>
</g>
<rect x="439.2" y="161.4" width="97.2" height="119.45" fill="none" stroke="#a6a6a6" stroke-width="0.6"/>
<path d="M439.2 280.85v-1.1M439.2 161.4v1.1M458.64 280.85v-1.1M458.64 161.4v1.1M478.08 280.85v-1.1M478.08 161.4v1.1M497.52 280.85v-1.1M497.52 161.4v1.1M516.96 280.85v-1.1M516.96 161.4v1.1M536.4 280.85v-1.1M536.4 161.4v1.1M439.2 161.4h1.1M536.4 161.4h-1.1M439.2 178.43h1.1M536.4 178.43h-1.1M439.2 195.46h1.1M536.4 195.46h-1.1M439.2 212.48h1.1M536.4 212.48h-1.1M439.2 229.51h1.1M536.4 229.51h-1.1M439.2 246.54h1.1M536.4 246.54h-1.1M439.2 263.82h1.1M536.4 263.82h-1.1M439.2 280.85h1.1M536.4 280.85h-1.1" stroke="#a6a6a6" stroke-width="0.5" fill="none"/>
<text x="439.2" y="289.05" font-size="6.3" text-anchor="middle" fill="#1f1f1f">0</text>
<text x="458.64" y="289.05" font-size="6.3" text-anchor="middle" fill="#1f1f1f">100</text>
<text x="478.08" y="289.05" font-size="6.3" text-anchor="middle" fill="#1f1f1f">200</text>
<text x="497.52" y="289.05" font-size="6.3" text-anchor="middle" fill="#1f1f1f">300</text>
<text x="516.96" y="289.05" font-size="6.3" text-anchor="middle" fill="#1f1f1f">400</text>
<text x="536.4" y="289.05" font-size="6.3" text-anchor="middle" fill="#1f1f1f">500</text>
<text x="436.9" y="164.4" font-size="6.3" text-anchor="end" fill="#1f1f1f">6000</text>
<text x="436.9" y="181.43" font-size="6.3" text-anchor="end" fill="#1f1f1f">5500</text>
<text x="436.9" y="198.46" font-size="6.3" text-anchor="end" fill="#1f1f1f">5000</text>
<text x="436.9" y="215.48" font-size="6.3" text-anchor="end" fill="#1f1f1f">4500</text>
<text x="436.9" y="232.51" font-size="6.3" text-anchor="end" fill="#1f1f1f">4000</text>
<text x="436.9" y="249.54" font-size="6.3" text-anchor="end" fill="#1f1f1f">3500</text>
<text x="436.9" y="266.82" font-size="6.3" text-anchor="end" fill="#1f1f1f">3000</text>
<text x="436.9" y="283.85" font-size="6.3" text-anchor="end" fill="#1f1f1f">2500</text>
<text x="487.8" y="297.45" font-size="6.9" text-anchor="middle" fill="#1f1f1f">Iterations</text>
<text transform="translate(420.19 221.12) rotate(-90)" font-size="6.9" text-anchor="middle" fill="#1f1f1f">Fitness</text>
<text x="487.65" y="159.6" font-size="6.95" text-anchor="middle" fill="#1f1f1f" class="t">CEC2017 F20 Dim=100</text>
</g>
<g id="sp9">
<rect x="25.7" y="311.3" width="102.6" height="119" fill="#fff"/>
<path d="M46.22 311.3V430.3M66.74 311.3V430.3M87.26 311.3V430.3M107.78 311.3V430.3M25.7 335H128.3M25.7 358.95H128.3M25.7 382.65H128.3M25.7 406.35H128.3" stroke="#ececec" stroke-width="0.55" fill="none"/>
<g clip-path="url(#c9)">
<path d="M25.8 317L26.3 318.6L26.9 320.1L27.4 321.5L27.9 322.8L28.5 324L29 325.1L29.5 326.2L30.1 327.1L30.6 328L31.1 328.8L31.7 329.6L32.2 330.2L32.7 330.9L33.3 331.5L33.8 332.1L35.2 333.4L36.5 334.6L37.9 335.6L39.3 336.5L40.6 337.3L42 338L43.4 338.6L44.7 339.1L46.1 339.6L47.5 340.2L48.8 340.8L50.2 341.3L51.5 341.8L52.9 342.3L54.3 342.7L55.6 343L57 343.4L58.4 343.8L59.7 344.3L61.1 344.7L62.5 345.1L63.8 345.5L65.2 345.9L66.6 346.3L67.9 346.7L69.3 347.1L70.7 347.5L72 348L73.4 348.5L74.8 349.1L76.1 349.6L77.5 350.2L78.9 350.9L80.2 351.5L81.6 352.2L82.9 353L84.3 353.7L85.7 354.4L87 355L88.4 355.7L89.8 356.3L91.1 356.9L92.5 357.5L93.9 358.1L95.2 358.7L96.6 359.2L98 359.8L99.3 360.3L100.7 360.8L102.1 361.2L103.4 361.7L104.8 362.2L106.2 362.7L107.5 363.2L108.9 363.7L110.3 364.3L111.6 364.8L113 365.4L114.3 365.9L115.7 366.5L117.1 367L118.4 367.6L119.8 368.2L121.2 368.7L122.5 369.2L123.9 369.5L125.3 369.9L126.6 370.2L128 370.4" fill="none" stroke="#ff0000" stroke-width="1.15" stroke-linejoin="round"/>
<path class="mIMCOA" d="M25.8 317L29.2 325.6L32.8 330.9L36.3 334.5L39.9 336.9L43.4 338.6L46.9 340L50.5 341.4L54 342.6L57.5 343.6L61.1 344.7L64.6 345.7L68.2 346.7L71.7 347.9L75.2 349.2L78.8 350.8L82.3 352.6L85.8 354.4L89.4 356.1L92.9 357.7L96.5 359.2L100 360.5L103.5 361.8L107.1 363L110.6 364.4L114.1 365.8L117.7 367.3L121.2 368.7L124.8 369.8L128 370.4"/>
<path d="M25.8 316L26.3 318L26.9 319.8L27.4 321.4L27.9 322.8L28.5 324L29 325L29.5 326L30.1 327.2L30.6 328.8L31.1 330.6L31.7 332.2L32.2 333.4L32.7 334.2L33.3 335L33.8 335.7L35.2 337.1L36.5 338.5L37.9 340L39.3 341.4L40.6 342.7L42 344L43.4 345.2L44.7 346.3L46.1 347.4L47.5 348.3L48.8 349.2L50.2 350L51.5 350.7L52.9 351.5L54.3 352.2L55.6 352.9L57 353.6L58.4 354.3L59.7 355L61.1 355.6L62.5 356.2L63.8 356.8L65.2 357.3L66.6 357.9L67.9 358.3L69.3 358.7L70.7 359.1L72 359.4L73.4 359.7L74.8 360L76.1 360.3L77.5 360.6L78.9 360.9L80.2 361.2L81.6 361.5L82.9 361.8L84.3 362L85.7 362.3L87 362.5L88.4 362.8L89.8 363L91.1 363.3L92.5 363.5L93.9 363.7L95.2 364L96.6 364.2L98 364.4L99.3 364.6L100.7 364.8L102.1 365L103.4 365.2L104.8 365.3L106.2 365.5L107.5 365.6L108.9 365.7L110.3 365.8L111.6 366L113 366.1L114.3 366.2L115.7 366.3L117.1 366.5L118.4 366.6L119.8 366.7L121.2 366.8L122.5 366.9L123.9 367.1L125.3 367.2L126.6 367.3L128 367.4" fill="none" stroke="#00ffff" stroke-width="1.15" stroke-linejoin="round"/>
<path class="mCOA" d="M25.8 316L29.2 325.4L32.8 334.3L36.3 338.3L39.9 342L43.4 345.2L46.9 348L50.5 350.1L54 352.1L57.5 353.9L61.1 355.6L64.6 357.1L68.2 358.4L71.7 359.3L75.2 360.1L78.8 360.9L82.3 361.7L85.8 362.3L89.4 363L92.9 363.6L96.5 364.2L100 364.7L103.5 365.2L107.1 365.5L110.6 365.9L114.1 366.2L117.7 366.5L121.2 366.8L124.8 367.1L128 367.4"/>
<path d="M25.8 317L26.3 318.6L26.9 320.1L27.4 321.5L27.9 322.8L28.5 324.1L29 325.2L29.5 326.3L30.1 327.1L30.6 327.7L31.1 328.2L31.7 328.7L32.2 329.2L32.7 329.7L33.3 330.3L33.8 330.8L35.2 332.2L36.5 333.6L37.9 334.8L39.3 335.8L40.6 336.9L42 338L43.4 339.1L44.7 340.3L46.1 341.5L47.5 342.9L48.8 344.3L50.2 345.9L51.5 347.5L52.9 349.1L54.3 350.7L55.6 352.4L57 354L58.4 355.6L59.7 357.3L61.1 358.9L62.5 360.6L63.8 362.3L65.2 364L66.6 365.6L67.9 366.9L69.3 368L70.7 369L72 370L73.4 371L74.8 372L76.1 372.9L77.5 373.7L78.9 374.5L80.2 375.2L81.6 375.8L82.9 376.4L84.3 377L85.7 377.6L87 378.2L88.4 378.7L89.8 379.2L91.1 379.7L92.5 380.2L93.9 380.6L95.2 381.1L96.6 381.5L98 381.9L99.3 382.3L100.7 382.7L102.1 383L103.4 383.3L104.8 383.6L106.2 383.9L107.5 384.2L108.9 384.4L110.3 384.7L111.6 384.9L113 385.2L114.3 385.4L115.7 385.6L117.1 385.8L118.4 386L119.8 386.3L121.2 386.5L122.5 386.7L123.9 386.9L125.3 387.1L126.6 387.4L128 387.6" fill="none" stroke="#0000ff" stroke-width="1.15" stroke-linejoin="round"/>
<path class="mDBO" d="M25.8 317L29.2 325.7L32.8 329.8L36.3 333.4L39.9 336.3L43.4 339.2L46.9 342.3L50.5 346.2L54 350.4L57.5 354.6L61.1 358.9L64.6 363.3L68.2 367L71.7 369.8L75.2 372.3L78.8 374.4L82.3 376.1L85.8 377.7L89.4 379.1L92.9 380.3L96.5 381.5L100 382.5L103.5 383.4L107.1 384.1L110.6 384.8L114.1 385.4L117.7 385.9L121.2 386.5L124.8 387.1L128 387.6"/>
<path d="M25.8 314L26.3 316.4L26.9 318.7L27.4 320.6L27.9 322.2L28.5 323.6L29 324.8L29.5 325.8L30.1 326.5L30.6 327L31.1 327.5L31.7 327.8L32.2 328.1L32.7 328.3L33.3 328.5L33.8 328.7L35.2 329.1L36.5 329.5L37.9 329.9L39.3 330.2L40.6 330.6L42 331L43.4 331.4L44.7 331.8L46.1 332.2L47.5 332.8L48.8 333.5L50.2 334.4L51.5 335.3L52.9 336.2L54.3 337.1L55.6 338L57 339L58.4 340.1L59.7 341.2L61.1 342.3L62.5 343.4L63.8 344.5L65.2 345.6L66.6 346.7L67.9 347.7L69.3 348.8L70.7 349.9L72 351L73.4 352.1L74.8 353.1L76.1 354.2L77.5 355.3L78.9 356.6L80.2 357.9L81.6 359.2L82.9 360.5L84.3 361.8L85.7 363L87 364.2L88.4 365.3L89.8 366.3L91.1 367.2L92.5 368.1L93.9 368.9L95.2 369.7L96.6 370.5L98 371.2L99.3 371.9L100.7 372.5L102.1 373L103.4 373.5L104.8 374L106.2 374.4L107.5 374.8L108.9 375.2L110.3 375.5L111.6 375.9L113 376.3L114.3 376.6L115.7 377L117.1 377.3L118.4 377.6L119.8 377.9L121.2 378.2L122.5 378.5L123.9 378.8L125.3 379.1L126.6 379.3L128 379.6" fill="none" stroke="#ff00ff" stroke-width="1.15" stroke-linejoin="round"/>
<path class="mTSO" d="M25.8 314L29.2 325.2L32.8 328.3L36.3 329.4L39.9 330.4L43.4 331.4L46.9 332.6L50.5 334.6L54 336.9L57.5 339.4L61.1 342.3L64.6 345.1L68.2 347.9L71.7 350.8L75.2 353.5L78.8 356.5L82.3 359.9L85.8 363.2L89.4 366L92.9 368.4L96.5 370.4L100 372.2L103.5 373.6L107.1 374.7L110.6 375.6L114.1 376.6L117.7 377.4L121.2 378.2L124.8 379L128 379.6"/>
<path d="M25.8 316L26.3 318L26.9 319.8L27.4 321.4L27.9 322.8L28.5 324.2L29 325.5L29.5 326.5L30.1 327L30.6 327.3L31.1 327.6L31.7 327.8L32.2 327.9L32.7 328.1L33.3 328.2L33.8 328.3L35.1 328.7L36.5 329L37.8 329.2L39.1 329.5L40.5 329.7L41.8 330L43.1 330.2L44.4 330.4L45.8 330.6L47.1 330.8L48.4 331L49.8 331.2L51.1 331.4L52.4 331.7L53.8 331.9L55.1 332.2L56.4 332.4L57.7 332.7L59.1 333L60.4 333.3L61.7 333.5L63.1 333.8L64.4 334.1L65.7 334.4L67.1 334.7L68.4 335L69.7 335.3L71.1 335.7L72.4 336.1L73.7 336.7L75 337.5L76.4 338.3L77.7 339.2L79 340L80.4 340.7L81.7 341.3L83 341.8L84.4 342.2L85.7 342.6L87 343L88.3 343.4L89.7 343.9L91 344.4L92.3 345L93.7 345.7L95 346.4L96.3 347.3L97.7 348.2L99 349.3L100.3 350.4L101.7 351.6L103 352.8L104.3 354.1L105.6 355.6L107 357.3L108.3 359.2L109.6 361.4L111 363.7L112.3 366.4L113.6 369.5L115 373.2L116.3 376.7L117.6 380.1L118.9 383.4L120.3 386.7L121.6 390L122.9 393.3L124.3 396.7L125.6 400" fill="none" stroke="#00ff00" stroke-width="1.15" stroke-linejoin="round" stroke-dasharray="3.2 2.4"/>
<path d="M25.7 315.1L26.2 317.5L26.8 319.8L27.3 321.9L27.8 323.4L28.4 324.2L28.9 324.8L29.4 325.3L30 325.8L30.5 326.2L31 326.5L31.6 326.8L32.1 327L32.6 327.2L33.2 327.3L33.7 327.4L35.1 327.6L36.4 327.8L37.8 327.9L39.2 328L40.5 328.1L41.9 328.1L43.2 328.2L44.6 328.3L46 328.4L47.3 328.5L48.7 328.6L50.1 328.6L51.4 328.7L52.8 328.8L54.2 328.9L55.5 329L56.9 329.1L58.2 329.1L59.6 329.2L61 329.3L62.3 329.3L63.7 329.4L65.1 329.5L66.4 329.5L67.8 329.6L69.2 329.6L70.5 329.7L71.9 329.7L73.2 329.8L74.6 329.8L76 329.9L77.3 329.9L78.7 330L80.1 330L81.4 330L82.8 330L84.2 330.1L85.5 330.1L86.9 330.1L88.2 330.2L89.6 330.3L91 330.4L92.3 331.2L93.7 336.6L95.1 342L96.4 345.2L97.8 347.9L99.2 350.1L100.5 352L101.9 353.8L103.2 355.4L104.6 356.8L106 358.1L107.3 359.3L108.7 360.3L110.1 361.3L111.4 362.2L112.8 363L114.2 363.6L115.5 364.2L116.9 364.7L118.2 365.2L119.6 365.6L121 366L122.3 366.3L123.7 366.6L125.1 366.9L126.4 367.1L127.8 367.4" fill="none" stroke="#00ffff" stroke-width="1.15" stroke-linejoin="round"/>
<path d="M25.8 316L26.3 318.9L26.9 321.5L27.4 323.6L27.9 324.9L28.5 325.6L29 326.2L29.5 326.7L30.1 327L30.6 327.3L31.1 327.4L31.7 327.6L32.2 327.7L32.7 327.8L33.3 327.9L33.8 328L35.2 328.1L36.5 328.3L37.9 328.4L39.3 328.5L40.6 328.7L42 328.8L43.4 328.9L44.7 329.1L46.1 329.2L47.5 329.4L48.8 329.5L50.2 329.6L51.5 329.7L52.9 329.9L54.3 330L55.6 330.1L57 330.3L58.4 330.4L59.7 330.5L61.1 330.7L62.5 330.9L63.8 331L65.2 331.2L66.6 331.4L67.9 331.5L69.3 331.7L70.7 331.9L72 332.2L73.4 332.5L74.8 332.8L76.1 333.2L77.5 333.7L78.9 334.3L80.2 335L81.6 335.7L82.9 336.6L84.3 337.8L85.7 339.2L87 340.8L88.4 342.6L89.8 344.7L91.1 347.2L92.5 350.1L93.9 353.7L95.2 357.7L96.6 361.9L98 366.7L99.3 371.6L100.7 376.5L102.1 381.6L103.4 386.3L104.8 390.1L106.2 393.4L107.5 396.2L108.9 398.4L110.3 400.2L111.6 401.7L113 402.8L114.3 403.8L115.7 404.6L117.1 405.3L118.4 405.7L119.8 406.1L121.2 406.5L122.5 406.8L123.9 407L125.3 407.2L126.6 407.4L128 407.4" fill="none" stroke="#0000ff" stroke-width="1.15" stroke-linejoin="round"/>
<path d="M25.7 315.1L26.2 317.7L26.8 320.2L27.3 322.4L27.8 324.3L28.4 325.6L28.9 326.8L29.4 327.8L30 328.8L30.5 329.6L31 330.4L31.6 331.1L32.1 331.7L32.6 332.3L33.2 332.9L33.7 333.4L35.1 334.5L36.4 335.6L37.8 336.5L39.2 337.2L40.5 337.9L41.9 338.5L43.2 339L44.6 339.5L46 340L47.3 340.4L48.7 340.8L50.1 341.1L51.4 341.5L52.8 341.9L54.2 342.2L55.5 342.6L56.9 342.9L58.2 343.2L59.6 343.5L61 343.8L62.3 344.1L63.7 344.5L65.1 344.8L66.4 345.1L67.8 345.4L69.2 345.7L70.5 346L71.9 346.4L73.2 346.7L74.6 347.1L76 347.4L77.3 347.8L78.7 348.3L80.1 348.7L81.4 349.2L82.8 349.7L84.2 350.2L85.5 350.8L86.9 351.3L88.2 351.9L89.6 352.5L91 353.1L92.3 353.7L93.7 354.4L95.1 355.1L96.4 355.9L97.8 356.6L99.2 357.3L100.5 358L101.9 358.7L103.2 359.4L104.6 360.1L106 360.7L107.3 361.4L108.7 362.1L110.1 362.8L111.4 363.5L112.8 364.3L114.2 365.2L115.5 366L116.9 366.9L118.2 367.8L119.6 368.7L121 369.6L122.3 370.4L123.7 371.3L125.1 372.1L126.4 372.9L127.8 373.7" fill="none" stroke="#ff00ff" stroke-width="1.15" stroke-linejoin="round"/>
<path d="M25.8 316L26.3 318L26.9 319.8L27.4 321.4L27.9 322.8L28.5 324.1L29 325.2L29.5 326.2L30.1 327.1L30.6 328.1L31.1 329.1L31.7 330.1L32.2 331L32.7 331.7L33.3 332.3L33.8 332.8L35.2 333.8L36.5 334.7L37.9 335.6L39.3 336.4L40.6 337.1L42 338L43.4 338.9L44.7 340L46.1 341.1L47.5 342.5L48.8 344.4L50.2 346.2L51.5 347.5L52.9 349.2L54.3 351.1L55.6 352.7L57 354L58.4 355.4L59.7 356.6L61.1 358.1L62.5 360.8L63.8 363.7L65.2 365.7L66.6 367.5L67.9 369.2L69.3 370.9L70.7 372.6L72 374L73.4 375.2L74.8 376.3L76.1 377.3L77.5 378.5L78.9 380L80.2 381.9L81.6 383.6L82.9 384.6L84.3 385.3L85.7 385.9L87 386.5L88.4 387.3L89.8 388.4L91.1 389.5L92.5 390.2L93.9 390.7L95.2 391.1L96.6 391.5L98 392L99.3 392.8L100.7 393.9L102.1 395L103.4 396.2L104.8 397.3L106.2 398.1L107.5 398.7L108.9 399.2L110.3 399.7L111.6 399.9L113 400.1L114.3 400.3L115.7 400.4L117.1 400.5L118.4 400.6L119.8 400.7L121.2 400.8L122.5 400.9L123.9 400.9L125.3 401L126.6 401L128 401" fill="none" stroke="#00ff00" stroke-width="1.15" stroke-linejoin="round"/>
</g>
<rect x="25.7" y="311.3" width="102.6" height="119" fill="none" stroke="#a6a6a6" stroke-width="0.6"/>
<path d="M25.7 430.3v-1.1M25.7 311.3v1.1M46.22 430.3v-1.1M46.22 311.3v1.1M66.74 430.3v-1.1M66.74 311.3v1.1M87.26 430.3v-1.1M87.26 311.3v1.1M107.78 430.3v-1.1M107.78 311.3v1.1M128.3 430.3v-1.1M128.3 311.3v1.1M25.7 311.3h1.1M128.3 311.3h-1.1M25.7 335h1.1M128.3 335h-1.1M25.7 358.95h1.1M128.3 358.95h-1.1M25.7 382.65h1.1M128.3 382.65h-1.1M25.7 406.35h1.1M128.3 406.35h-1.1M25.7 430.3h1.1M128.3 430.3h-1.1" stroke="#a6a6a6" stroke-width="0.5" fill="none"/>
<text x="25.7" y="438.5" font-size="6.3" text-anchor="middle" fill="#1f1f1f">0</text>
<text x="46.22" y="438.5" font-size="6.3" text-anchor="middle" fill="#1f1f1f">100</text>
<text x="66.74" y="438.5" font-size="6.3" text-anchor="middle" fill="#1f1f1f">200</text>
<text x="87.26" y="438.5" font-size="6.3" text-anchor="middle" fill="#1f1f1f">300</text>
<text x="107.78" y="438.5" font-size="6.3" text-anchor="middle" fill="#1f1f1f">400</text>
<text x="128.3" y="438.5" font-size="6.3" text-anchor="middle" fill="#1f1f1f">500</text>
<text x="23.4" y="314.3" font-size="6.3" text-anchor="end" fill="#1f1f1f">4</text>
<text x="23.4" y="338" font-size="6.3" text-anchor="end" fill="#1f1f1f">3.5</text>
<text x="23.4" y="361.95" font-size="6.3" text-anchor="end" fill="#1f1f1f">3</text>
<text x="23.4" y="385.65" font-size="6.3" text-anchor="end" fill="#1f1f1f">2.5</text>
<text x="23.4" y="409.35" font-size="6.3" text-anchor="end" fill="#1f1f1f">2</text>
<text x="23.4" y="433.3" font-size="6.3" text-anchor="end" fill="#1f1f1f">1.5</text>
<text x="77" y="446.9" font-size="6.9" text-anchor="middle" fill="#1f1f1f">Iterations</text>
<text transform="translate(11.94 370.8) rotate(-90)" font-size="6.9" text-anchor="middle" fill="#1f1f1f">Fitness</text>
<text x="76.85" y="309.5" font-size="6.95" text-anchor="middle" fill="#1f1f1f" class="t">CEC2017 F21 Dim=100</text>
<text y="309.8" font-size="6.1" fill="#1f1f1f"><tspan x="26.4">×</tspan><tspan x="31.1">10</tspan><tspan x="37.7" dy="-2.6" font-size="4.9">4</tspan></text>
</g>
<g id="sp10">
<rect x="167.05" y="311.3" width="97.45" height="119" fill="#fff"/>
<path d="M186.54 311.3V430.3M206.03 311.3V430.3M225.52 311.3V430.3M245.01 311.3V430.3M167.05 331.18H264.5M167.05 350.8H264.5M167.05 370.67H264.5M167.05 390.55H264.5M167.05 410.42H264.5" stroke="#ececec" stroke-width="0.55" fill="none"/>
<g clip-path="url(#c10)">
<path d="M167.3 340.1L167.8 358.9L168.4 374.7L168.9 385.2L169.4 392.6L170 398.7L170.5 402.9L171 404.8L171.6 405.9L172.1 406.8L172.6 407.5L173.2 408.1L173.7 408.6L174.2 409L174.8 409.5L175.3 410L176.6 411.1L177.9 412L179.1 412.8L180.4 413.7L181.7 414.5L182.9 415.3L184.2 416.1L185.5 416.8L186.8 417.4L188 418L189.3 418.6L190.6 419.2L191.9 419.8L193.1 420.3L194.4 420.8L195.7 421.2L197 421.7L198.2 422.1L199.5 422.5L200.8 422.8L202.1 423.2L203.3 423.5L204.6 423.8L205.9 424.1L207.2 424.4L208.4 424.6L209.7 424.8L211 425.1L212.3 425.3L213.5 425.5L214.8 425.7L216.1 425.9L217.4 426L218.6 426.2L219.9 426.3L221.2 426.5L222.5 426.6L223.7 426.7L225 426.9L226.3 427L227.6 427.1L228.8 427.2L230.1 427.3L231.4 427.4L232.6 427.5L233.9 427.6L235.2 427.7L236.5 427.7L237.7 427.8L239 427.9L240.3 427.9L241.6 428L242.8 428L244.1 428.1L245.4 428.1L246.7 428.2L247.9 428.2L249.2 428.3L250.5 428.3L251.8 428.3L253 428.4L254.3 428.4L255.6 428.4L256.9 428.4L258.1 428.5L259.4 428.5L260.7 428.5L262 428.5L263.2 428.5" fill="none" stroke="#ff0000" stroke-width="1.15" stroke-linejoin="round"/>
<path class="mIMCOA" d="M167.3 340.1L170.4 402.3L173.8 408.6L177.1 411.5L180.5 413.8L183.9 415.9L187.2 417.6L190.6 419.2L193.9 420.6L197.3 421.8L200.7 422.8L204 423.7L207.4 424.4L210.7 425L214.1 425.6L217.5 426L220.8 426.4L224.2 426.8L227.5 427.1L230.9 427.4L234.3 427.6L237.6 427.8L241 428L244.3 428.1L247.7 428.2L251.1 428.3L254.4 428.4L257.8 428.4L261.1 428.5L263.2 428.5"/>
<path d="M167.3 329.1L167.8 347.4L168.4 362.6L168.9 372.3L169.4 378.9L170 384.3L170.5 387.8L171 389.4L171.6 390.3L172.1 391.1L172.6 391.7L173.2 392.2L173.7 392.7L174.2 393.1L174.8 393.4L175.3 393.7L176.6 394.6L177.9 395.3L179.1 396L180.4 396.6L181.7 397.2L182.9 397.7L184.2 398.2L185.5 398.7L186.8 399.2L188 399.6L189.3 400L190.6 400.4L191.9 400.8L193.1 401.1L194.4 401.4L195.7 401.8L197 402.1L198.2 402.3L199.5 402.6L200.8 402.9L202.1 403.1L203.3 403.3L204.6 403.6L205.9 403.7L207.2 403.9L208.4 404.1L209.7 404.2L211 404.4L212.3 404.5L213.5 404.6L214.8 404.7L216.1 404.8L217.4 404.9L218.6 405L219.9 405.2L221.2 405.3L222.5 405.4L223.7 405.5L225 405.6L226.3 405.7L227.6 405.8L228.8 405.9L230.1 406L231.4 406L232.6 406.1L233.9 406.2L235.2 406.3L236.5 406.3L237.7 406.4L239 406.5L240.3 406.5L241.6 406.6L242.8 406.7L244.1 406.7L245.4 406.8L246.7 406.8L247.9 406.8L249.2 406.9L250.5 406.9L251.8 406.9L253 406.9L254.3 406.9L255.6 406.9L256.9 406.9L258.1 406.9L259.4 406.9L260.7 406.9L262 406.9L263.2 406.9" fill="none" stroke="#00ffff" stroke-width="1.15" stroke-linejoin="round"/>
<path class="mCOA" d="M167.3 329.1L170.4 387.4L173.8 392.7L177.1 394.9L180.5 396.7L183.9 398.1L187.2 399.3L190.6 400.4L193.9 401.3L197.3 402.1L200.7 402.9L204 403.5L207.4 403.9L210.7 404.3L214.1 404.7L217.5 404.9L220.8 405.2L224.2 405.5L227.5 405.8L230.9 406L234.3 406.2L237.6 406.4L241 406.6L244.3 406.7L247.7 406.8L251.1 406.9L254.4 406.9L257.8 406.9L261.1 406.9L263.2 406.9"/>
<path d="M167.3 352.8L167.8 362.5L168.4 370.8L168.9 377.1L169.4 382.3L170 386.8L170.5 390L171 391.4L171.6 392.2L172.1 392.8L172.6 393.4L173.2 393.8L173.7 394.2L174.2 394.6L174.8 394.8L175.3 395.1L176.6 395.7L177.9 396.3L179.1 396.7L180.4 397.1L181.7 397.5L182.9 397.8L184.2 398.1L185.5 398.4L186.8 398.7L188 398.9L189.3 399.2L190.6 399.4L191.9 399.6L193.1 399.7L194.4 399.8L195.7 399.9L197 399.9L198.2 400L199.5 400.1L200.8 400.1L202.1 400.2L203.3 400.2L204.6 400.3L205.9 400.3L207.2 400.4L208.4 400.4L209.7 400.4L211 400.5L212.3 400.5L213.5 400.5L214.8 400.6L216.1 400.6L217.4 400.6L218.6 400.7L219.9 400.7L221.2 400.7L222.5 400.8L223.7 400.8L225 400.8L226.3 400.8L227.6 400.9L228.8 400.9L230.1 400.9L231.4 400.9L232.6 400.9L233.9 401L235.2 401L236.5 401L237.7 401L239 401L240.3 401L241.6 401.1L242.8 401.1L244.1 401.1L245.4 401.1L246.7 401.1L247.9 401.1L249.2 401.1L250.5 401.2L251.8 401.2L253 401.2L254.3 401.2L255.6 401.2L256.9 401.2L258.1 401.2L259.4 401.2L260.7 401.2L262 401.2L263.2 401.3" fill="none" stroke="#0000ff" stroke-width="1.15" stroke-linejoin="round"/>
<path class="mDBO" d="M167.3 352.8L170.4 389.6L173.8 394.3L177.1 396L180.5 397.2L183.9 398L187.2 398.8L190.6 399.4L193.9 399.7L197.3 400L200.7 400.1L204 400.3L207.4 400.4L210.7 400.5L214.1 400.6L217.5 400.6L220.8 400.7L224.2 400.8L227.5 400.9L230.9 400.9L234.3 401L237.6 401L241 401.1L244.3 401.1L247.7 401.1L251.1 401.2L254.4 401.2L257.8 401.2L261.1 401.2L263.2 401.3"/>
<path d="M167.3 321.5L167.8 336.9L168.4 350L168.9 359.7L169.4 367.5L170 374.1L170.5 378.7L171 380.5L171.6 381.4L172.1 382.2L172.6 382.8L173.2 383.3L173.7 383.7L174.2 384.1L174.8 384.4L175.3 384.8L176.6 385.7L177.9 386.5L179.1 387.3L180.4 388L181.7 388.7L182.9 389.3L184.2 389.8L185.5 390.4L186.8 390.9L188 391.3L189.3 391.8L190.6 392.2L191.9 392.6L193.1 392.9L194.4 393.3L195.7 393.7L197 394L198.2 394.3L199.5 394.6L200.8 394.8L202.1 395L203.3 395.2L204.6 395.4L205.9 395.6L207.2 395.7L208.4 395.9L209.7 396L211 396.1L212.3 396.2L213.5 396.4L214.8 396.5L216.1 396.6L217.4 396.7L218.6 396.8L219.9 396.9L221.2 397L222.5 397.1L223.7 397.2L225 397.2L226.3 397.3L227.6 397.4L228.8 397.4L230.1 397.5L231.4 397.5L232.6 397.6L233.9 397.6L235.2 397.6L236.5 397.7L237.7 397.7L239 397.7L240.3 397.8L241.6 397.8L242.8 397.8L244.1 397.8L245.4 397.9L246.7 397.9L247.9 397.9L249.2 397.9L250.5 398L251.8 398L253 398L254.3 398L255.6 398.1L256.9 398.1L258.1 398.1L259.4 398.1L260.7 398.1L262 398.2L263.2 398.2" fill="none" stroke="#ff00ff" stroke-width="1.15" stroke-linejoin="round"/>
<path class="mTSO" d="M167.3 321.5L170.4 378.1L173.8 383.8L177.1 386.1L180.5 388.1L183.9 389.7L187.2 391L190.6 392.2L193.9 393.2L197.3 394.1L200.7 394.8L204 395.3L207.4 395.7L210.7 396.1L214.1 396.4L217.5 396.7L220.8 397L224.2 397.2L227.5 397.4L230.9 397.5L234.3 397.6L237.6 397.7L241 397.8L244.3 397.8L247.7 397.9L251.1 398L254.4 398L257.8 398.1L261.1 398.2L263.2 398.2"/>
<path d="M167.3 333L167.8 352.9L168.4 369.5L168.9 380L169.4 387.2L170 393L170.5 396.8L171 398.2L171.6 399L172.1 399.6L172.6 400.1L173.2 400.5L173.7 400.8L174.2 401.1L174.8 401.3L175.3 401.5L176.6 402L177.9 402.5L179.1 402.9L180.4 403.2L181.7 403.5L182.9 403.7L184.2 403.9L185.5 404.1L186.8 404.2L188 404.3L189.3 404.5L190.6 404.6L191.9 404.7L193.1 404.8L194.4 404.9L195.7 405L197 405.1L198.2 405.2L199.5 405.3L200.8 405.5L202.1 405.6L203.3 405.7L204.6 405.7L205.9 405.8L207.2 405.9L208.4 405.9L209.7 406L211 406L212.3 406.1L213.5 406.1L214.8 406.2L216.1 406.2L217.4 406.3L218.6 406.3L219.9 406.4L221.2 406.5L222.5 406.6L223.7 406.7L225 406.8L226.3 406.9L227.6 407L228.8 407.1L230.1 407.3L231.4 407.4L232.6 407.6L233.9 407.7L235.2 407.9L236.5 408.1L237.7 408.3L239 408.6L240.3 408.8L241.6 409.1L242.8 409.5L244.1 409.9L245.4 410.2L246.7 410.6L247.9 411.1L249.2 411.6L250.5 412.2L251.8 412.7L253 413.4L254.3 414L255.6 414.6L256.9 415.4L258.1 416.1L259.4 416.5L260.7 416.8L262 417L263.2 417" fill="none" stroke="#00ff00" stroke-width="1.15" stroke-linejoin="round" stroke-dasharray="3.2 2.4"/>
<path d="M167.2 328L167.7 342.5L168.3 352.8L168.8 356.4L169.3 358.9L169.9 360.7L170.4 362L170.9 362.9L171.5 363.6L172 364.1L172.5 364.6L173.1 365L173.6 365.3L174.1 365.7L174.7 366.1L175.2 366.4L176.5 367.2L177.8 367.9L179.1 368.5L180.3 369.1L181.6 369.7L182.9 370.3L184.2 370.8L185.5 371.3L186.8 371.7L188.1 372L189.4 372.3L190.6 372.6L191.9 372.8L193.2 373L194.5 373.2L195.8 373.4L197.1 373.5L198.4 373.6L199.7 373.7L200.9 373.8L202.2 373.9L203.5 374L204.8 374L206.1 374.1L207.4 374.1L208.7 374.2L209.9 374.2L211.2 374.3L212.5 374.3L213.8 374.4L215.1 374.4L216.4 374.5L217.7 374.6L219 374.7L220.2 374.7L221.5 374.8L222.8 374.8L224.1 374.9L225.4 374.9L226.7 375L228 375.2L229.3 375.4L230.5 375.7L231.8 379.8L233.1 384.1L234.4 385.3L235.7 386.1L237 386.6L238.3 387.1L239.5 387.6L240.8 388.1L242.1 388.5L243.4 388.8L244.7 389.2L246 389.5L247.3 389.8L248.6 390.1L249.8 390.4L251.1 390.7L252.4 391L253.7 391.3L255 391.5L256.3 391.7L257.6 391.9L258.9 392.1L260.1 392.3L261.4 392.4L262.7 392.5L264 392.6" fill="none" stroke="#00ffff" stroke-width="1.15" stroke-linejoin="round"/>
<path d="M167.3 345.7L167.8 353.6L168.4 360.7L168.9 366.5L169.4 370.5L170 372.7L170.5 374.4L171 375.8L171.6 376.8L172.1 377.5L172.6 378.1L173.2 378.5L173.7 379L174.2 379.3L174.8 379.6L175.3 379.9L176.6 380.5L177.9 381.1L179.1 381.7L180.4 382.2L181.7 382.7L182.9 383.2L184.2 383.7L185.5 384.2L186.8 384.8L188 385.4L189.3 386.1L190.6 386.8L191.9 387.5L193.1 388.2L194.4 388.9L195.7 389.7L197 390.4L198.2 391.1L199.5 391.8L200.8 392.6L202.1 393.4L203.3 394.2L204.6 395.1L205.9 396L207.2 396.9L208.4 397.7L209.7 398.5L211 399.2L212.3 399.9L213.5 400.5L214.8 401.1L216.1 401.6L217.4 402.1L218.6 402.4L219.9 402.7L221.2 403L222.5 403.3L223.7 403.7L225 404.2L226.3 404.8L227.6 405.6L228.8 406.4L230.1 407.2L231.4 408L232.6 408.8L233.9 409.7L235.2 410.7L236.5 411.6L237.7 412.5L239 413.2L240.3 413.7L241.6 414.2L242.8 414.7L244.1 415.2L245.4 415.5L246.7 415.8L247.9 415.9L249.2 416.1L250.5 416.3L251.8 416.4L253 416.5L254.3 416.5L255.6 416.6L256.9 416.6L258.1 416.7L259.4 416.7L260.7 416.8L262 416.8L263.2 416.8" fill="none" stroke="#0000ff" stroke-width="1.15" stroke-linejoin="round"/>
<path d="M167.3 321.5L167.8 334L168.4 345.3L168.9 354L169.4 359.1L170 360.7L170.5 361.8L171 362.6L171.6 363.2L172.1 363.5L172.6 363.8L173.2 364L173.7 364.2L174.2 364.4L174.8 364.6L175.3 364.7L176.6 365L177.9 365.2L179.1 365.4L180.4 365.6L181.7 365.8L182.9 366L184.2 366.1L185.5 366.3L186.8 366.4L188 366.5L189.3 366.7L190.6 366.8L191.9 366.9L193.1 367.1L194.4 367.2L195.7 367.4L197 367.5L198.2 367.7L199.5 367.8L200.8 367.9L202.1 368.1L203.3 368.2L204.6 368.4L205.9 368.6L207.2 368.8L208.4 368.9L209.7 369.1L211 369.3L212.3 369.5L213.5 369.8L214.8 370L216.1 370.2L217.4 370.4L218.6 370.7L219.9 370.9L221.2 371.1L222.5 371.4L223.7 371.6L225 371.8L226.3 372.1L227.6 372.4L228.8 372.6L230.1 372.9L231.4 373.2L232.6 373.5L233.9 373.8L235.2 374.1L236.5 374.4L237.7 374.7L239 375L240.3 375.4L241.6 375.7L242.8 376.1L244.1 376.4L245.4 376.8L246.7 377.2L247.9 377.6L249.2 378L250.5 378.4L251.8 378.8L253 379.2L254.3 379.6L255.6 380L256.9 380.5L258.1 380.9L259.4 381.3L260.7 381.8L262 382.2L263.2 382.6" fill="none" stroke="#ff00ff" stroke-width="1.15" stroke-linejoin="round"/>
<path d="M167.3 330.4L167.8 353L168.4 371.5L168.9 382.5L169.4 389.3L170 394.5L170.5 398L171 399.7L171.6 400.8L172.1 401.7L172.6 402.5L173.2 403.1L173.7 403.7L174.2 404.2L174.8 404.6L175.3 405L176.6 406.2L177.9 407.4L179.1 408.4L180.4 409.1L181.7 409.7L182.9 410.1L184.2 410.4L185.5 410.7L186.8 411L188 411.3L189.3 411.5L190.6 411.8L191.9 412.2L193.1 412.5L194.4 412.8L195.7 413.2L197 413.5L198.2 413.8L199.5 414.1L200.8 414.4L202.1 414.7L203.3 414.9L204.6 415.2L205.9 415.4L207.2 415.6L208.4 415.9L209.7 416.1L211 416.2L212.3 416.4L213.5 416.6L214.8 416.7L216.1 416.8L217.4 417L218.6 417.1L219.9 417.2L221.2 417.3L222.5 417.4L223.7 417.5L225 417.6L226.3 417.7L227.6 417.8L228.8 417.9L230.1 418L231.4 418L232.6 418.1L233.9 418.2L235.2 418.3L236.5 418.3L237.7 418.4L239 418.4L240.3 418.5L241.6 418.6L242.8 418.6L244.1 418.7L245.4 418.7L246.7 418.8L247.9 418.8L249.2 418.8L250.5 418.9L251.8 418.9L253 418.9L254.3 419L255.6 419L256.9 419L258.1 419L259.4 419L260.7 419.1L262 419.1L263.2 419.1" fill="none" stroke="#00ff00" stroke-width="1.15" stroke-linejoin="round"/>
</g>
<rect x="167.05" y="311.3" width="97.45" height="119" fill="none" stroke="#a6a6a6" stroke-width="0.6"/>
<path d="M167.05 430.3v-1.1M167.05 311.3v1.1M186.54 430.3v-1.1M186.54 311.3v1.1M206.03 430.3v-1.1M206.03 311.3v1.1M225.52 430.3v-1.1M225.52 311.3v1.1M245.01 430.3v-1.1M245.01 311.3v1.1M264.5 430.3v-1.1M264.5 311.3v1.1M167.05 311.3h1.1M264.5 311.3h-1.1M167.05 331.18h1.1M264.5 331.18h-1.1M167.05 350.8h1.1M264.5 350.8h-1.1M167.05 370.67h1.1M264.5 370.67h-1.1M167.05 390.55h1.1M264.5 390.55h-1.1M167.05 410.42h1.1M264.5 410.42h-1.1M167.05 430.3h1.1M264.5 430.3h-1.1" stroke="#a6a6a6" stroke-width="0.5" fill="none"/>
<text x="167.05" y="438.5" font-size="6.3" text-anchor="middle" fill="#1f1f1f">0</text>
<text x="186.54" y="438.5" font-size="6.3" text-anchor="middle" fill="#1f1f1f">100</text>
<text x="206.03" y="438.5" font-size="6.3" text-anchor="middle" fill="#1f1f1f">200</text>
<text x="225.52" y="438.5" font-size="6.3" text-anchor="middle" fill="#1f1f1f">300</text>
<text x="245.01" y="438.5" font-size="6.3" text-anchor="middle" fill="#1f1f1f">400</text>
<text x="264.5" y="438.5" font-size="6.3" text-anchor="middle" fill="#1f1f1f">500</text>
<text x="164.75" y="314.3" font-size="6.3" text-anchor="end" fill="#1f1f1f">9000</text>
<text x="164.75" y="334.18" font-size="6.3" text-anchor="end" fill="#1f1f1f">8000</text>
<text x="164.75" y="353.8" font-size="6.3" text-anchor="end" fill="#1f1f1f">7000</text>
<text x="164.75" y="373.67" font-size="6.3" text-anchor="end" fill="#1f1f1f">6000</text>
<text x="164.75" y="393.55" font-size="6.3" text-anchor="end" fill="#1f1f1f">5000</text>
<text x="164.75" y="413.42" font-size="6.3" text-anchor="end" fill="#1f1f1f">4000</text>
<text x="164.75" y="433.3" font-size="6.3" text-anchor="end" fill="#1f1f1f">3000</text>
<text x="215.78" y="446.9" font-size="6.9" text-anchor="middle" fill="#1f1f1f">Iterations</text>
<text transform="translate(148.04 370.8) rotate(-90)" font-size="6.9" text-anchor="middle" fill="#1f1f1f">Fitness</text>
<text x="215.62" y="309.5" font-size="6.95" text-anchor="middle" fill="#1f1f1f" class="t">CEC2017 F22 Dim=100</text>
</g>
<g id="sp11">
<rect x="306.4" y="311.3" width="94.5" height="119" fill="#fff"/>
<path d="M325.3 311.3V430.3M344.2 311.3V430.3M363.1 311.3V430.3M382 311.3V430.3M306.4 328.37H400.9M306.4 345.45H400.9M306.4 362.26H400.9M306.4 379.34H400.9M306.4 396.41H400.9M306.4 413.23H400.9" stroke="#ececec" stroke-width="0.55" fill="none"/>
<g clip-path="url(#c11)">
<path d="M306.7 335.5L307.2 356.3L307.7 373.5L308.3 385.2L308.8 393.9L309.3 400.8L309.9 404.6L310.4 405.5L310.9 406.1L311.5 406.6L312 406.9L312.5 407.2L313.1 407.5L313.6 407.8L314.1 408.1L314.7 408.4L315.9 408.9L317.1 409.5L318.3 409.9L319.6 410.3L320.8 410.7L322 411L323.3 411.3L324.5 411.6L325.7 411.9L327 412.1L328.2 412.4L329.4 412.6L330.7 412.8L331.9 413L333.1 413.2L334.4 413.3L335.6 413.5L336.8 413.6L338.1 413.8L339.3 413.9L340.5 414L341.7 414.1L343 414.2L344.2 414.3L345.4 414.4L346.7 414.5L347.9 414.6L349.1 414.7L350.4 414.8L351.6 414.8L352.8 414.9L354.1 415L355.3 415.1L356.5 415.1L357.8 415.2L359 415.2L360.2 415.3L361.5 415.4L362.7 415.4L363.9 415.5L365.1 415.5L366.4 415.6L367.6 415.6L368.8 415.7L370.1 415.7L371.3 415.8L372.5 415.8L373.8 415.8L375 415.9L376.2 415.9L377.5 416L378.7 416L379.9 416.1L381.2 416.1L382.4 416.1L383.6 416.2L384.9 416.2L386.1 416.2L387.3 416.3L388.5 416.3L389.8 416.3L391 416.4L392.2 416.4L393.5 416.4L394.7 416.5L395.9 416.5L397.2 416.5L398.4 416.5L399.6 416.5" fill="none" stroke="#ff0000" stroke-width="1.15" stroke-linejoin="round"/>
<path class="mIMCOA" d="M306.7 335.5L309.7 403.6L312.9 407.4L316.2 409.1L319.4 410.3L322.7 411.2L326 411.9L329.2 412.5L332.5 413.1L335.7 413.5L339 413.9L342.2 414.2L345.5 414.4L348.8 414.7L352 414.9L355.3 415.1L358.5 415.2L361.8 415.4L365.1 415.5L368.3 415.7L371.6 415.8L374.8 415.9L378.1 416L381.3 416.1L384.6 416.2L387.9 416.3L391.1 416.4L394.4 416.4L397.6 416.5L399.6 416.5"/>
<path d="M306.7 330.4L307.2 345.6L307.7 358.2L308.3 367.1L308.8 373.6L309.3 378.7L309.9 382.2L310.4 384.2L310.9 385.8L311.5 387.2L312 388.3L312.5 389.2L313.1 390L313.6 390.8L314.1 391.5L314.7 392.1L315.9 393.4L317.1 394.5L318.3 395.4L319.6 396.1L320.8 396.8L322 397.4L323.3 397.9L324.5 398.3L325.7 398.6L327 399L328.2 399.2L329.4 399.5L330.7 399.7L331.9 399.9L333.1 400.1L334.4 400.3L335.6 400.4L336.8 400.6L338.1 400.7L339.3 400.8L340.5 400.9L341.7 401L343 401.1L344.2 401.2L345.4 401.3L346.7 401.4L347.9 401.5L349.1 401.6L350.4 401.7L351.6 401.8L352.8 401.9L354.1 402L355.3 402L356.5 402.1L357.8 402.2L359 402.3L360.2 402.4L361.5 402.5L362.7 402.6L363.9 402.6L365.1 402.7L366.4 402.8L367.6 402.8L368.8 402.9L370.1 403L371.3 403L372.5 403.1L373.8 403.1L375 403.2L376.2 403.2L377.5 403.3L378.7 403.3L379.9 403.3L381.2 403.4L382.4 403.4L383.6 403.5L384.9 403.5L386.1 403.5L387.3 403.6L388.5 403.6L389.8 403.6L391 403.7L392.2 403.7L393.5 403.7L394.7 403.7L395.9 403.8L397.2 403.8L398.4 403.8L399.6 403.8" fill="none" stroke="#00ffff" stroke-width="1.15" stroke-linejoin="round"/>
<path class="mCOA" d="M306.7 330.4L309.7 381.2L312.9 389.8L316.2 393.7L319.4 396L322.7 397.6L326 398.7L329.2 399.4L332.5 400L335.7 400.4L339 400.8L342.2 401.1L345.5 401.3L348.8 401.6L352 401.8L355.3 402L358.5 402.3L361.8 402.5L365.1 402.7L368.3 402.9L371.6 403L374.8 403.2L378.1 403.3L381.3 403.4L384.6 403.5L387.9 403.6L391.1 403.7L394.4 403.7L397.6 403.8L399.6 403.8"/>
<path d="M306.7 352.1L307.2 363.1L307.7 372.5L308.3 379.7L308.8 385.9L309.3 391L309.9 393.9L310.4 394.6L310.9 395.1L311.5 395.5L312 395.7L312.5 395.9L313.1 396.1L313.6 396.2L314.1 396.4L314.7 396.5L315.9 396.8L317.1 397L318.3 397.1L319.6 397.3L320.8 397.4L322 397.5L323.3 397.7L324.5 397.8L325.7 397.9L327 398L328.2 398L329.4 398.1L330.7 398.2L331.9 398.3L333.1 398.3L334.4 398.4L335.6 398.4L336.8 398.5L338.1 398.5L339.3 398.6L340.5 398.6L341.7 398.6L343 398.7L344.2 398.7L345.4 398.7L346.7 398.7L347.9 398.8L349.1 398.8L350.4 398.8L351.6 398.9L352.8 398.9L354.1 398.9L355.3 398.9L356.5 398.9L357.8 399L359 399L360.2 399L361.5 399L362.7 399.1L363.9 399.1L365.1 399.1L366.4 399.1L367.6 399.1L368.8 399.2L370.1 399.2L371.3 399.2L372.5 399.2L373.8 399.3L375 399.3L376.2 399.3L377.5 399.3L378.7 399.3L379.9 399.4L381.2 399.4L382.4 399.4L383.6 399.4L384.9 399.5L386.1 399.5L387.3 399.5L388.5 399.5L389.8 399.6L391 399.6L392.2 399.6L393.5 399.6L394.7 399.6L395.9 399.7L397.2 399.7L398.4 399.7L399.6 399.7" fill="none" stroke="#0000ff" stroke-width="1.15" stroke-linejoin="round"/>
<path class="mDBO" d="M306.7 352.1L309.7 393.2L312.9 396.1L316.2 396.8L319.4 397.3L322.7 397.6L326 397.9L329.2 398.1L332.5 398.3L335.7 398.4L339 398.5L342.2 398.6L345.5 398.7L348.8 398.8L352 398.9L355.3 398.9L358.5 399L361.8 399L365.1 399.1L368.3 399.1L371.6 399.2L374.8 399.3L378.1 399.3L381.3 399.4L384.6 399.5L387.9 399.5L391.1 399.6L394.4 399.6L397.6 399.7L399.6 399.7"/>
<path d="M306.7 325.3L307.2 339.1L307.7 350.8L308.3 359.5L308.8 366.5L309.3 372.2L309.9 375.9L310.4 377.7L310.9 379L311.5 380.2L312 381.1L312.5 381.8L313.1 382.4L313.6 383L314.1 383.5L314.7 384L315.9 385L317.1 385.8L318.3 386.5L319.6 387.1L320.8 387.7L322 388.2L323.3 388.7L324.5 389.1L325.7 389.5L327 389.8L328.2 390.1L329.4 390.4L330.7 390.7L331.9 390.9L333.1 391.2L334.4 391.3L335.6 391.5L336.8 391.6L338.1 391.8L339.3 391.9L340.5 392L341.7 392.1L343 392.1L344.2 392.2L345.4 392.3L346.7 392.4L347.9 392.4L349.1 392.5L350.4 392.5L351.6 392.6L352.8 392.7L354.1 392.7L355.3 392.8L356.5 392.8L357.8 392.9L359 392.9L360.2 393L361.5 393L362.7 393.1L363.9 393.1L365.1 393.1L366.4 393.2L367.6 393.2L368.8 393.3L370.1 393.3L371.3 393.3L372.5 393.4L373.8 393.4L375 393.5L376.2 393.5L377.5 393.5L378.7 393.6L379.9 393.6L381.2 393.6L382.4 393.7L383.6 393.7L384.9 393.7L386.1 393.8L387.3 393.8L388.5 393.8L389.8 393.9L391 393.9L392.2 393.9L393.5 394L394.7 394L395.9 394L397.2 394.1L398.4 394.1L399.6 394.1" fill="none" stroke="#ff00ff" stroke-width="1.15" stroke-linejoin="round"/>
<path class="mTSO" d="M306.7 325.3L309.7 374.8L312.9 382.3L316.2 385.2L319.4 387L322.7 388.5L326 389.5L329.2 390.4L332.5 391L335.7 391.5L339 391.8L342.2 392.1L345.5 392.3L348.8 392.5L352 392.6L355.3 392.8L358.5 392.9L361.8 393L365.1 393.1L368.3 393.2L371.6 393.3L374.8 393.5L378.1 393.6L381.3 393.6L384.6 393.7L387.9 393.8L391.1 393.9L394.4 394L397.6 394.1L399.6 394.1"/>
<path d="M306.7 333L307.2 353.8L307.7 371L308.3 382.7L308.8 391.2L309.3 398L309.9 401.5L310.4 402.3L310.9 402.8L311.5 403.1L312 403.4L312.5 403.6L313.1 403.7L313.6 403.9L314.1 404L314.7 404.1L315.9 404.3L317.1 404.5L318.3 404.6L319.6 404.7L320.8 404.8L322 404.9L323.3 405L324.5 405.1L325.7 405.1L327 405.2L328.2 405.3L329.4 405.3L330.7 405.4L331.9 405.4L333.1 405.5L334.4 405.5L335.6 405.6L336.8 405.6L338.1 405.7L339.3 405.7L340.5 405.7L341.7 405.8L343 405.8L344.2 405.9L345.4 405.9L346.7 405.9L347.9 406L349.1 406L350.4 406.1L351.6 406.1L352.8 406.1L354.1 406.2L355.3 406.2L356.5 406.3L357.8 406.3L359 406.3L360.2 406.4L361.5 406.4L362.7 406.5L363.9 406.6L365.1 406.6L366.4 406.7L367.6 406.7L368.8 406.8L370.1 406.8L371.3 406.8L372.5 406.9L373.8 406.9L375 406.9L376.2 407L377.5 407L378.7 407L379.9 407.1L381.2 407.1L382.4 407.1L383.6 407.1L384.9 407.2L386.1 407.2L387.3 407.2L388.5 407.2L389.8 407.3L391 407.3L392.2 407.3L393.5 407.3L394.7 407.3L395.9 407.3L397.2 407.4L398.4 407.4L399.6 407.4" fill="none" stroke="#00ff00" stroke-width="1.15" stroke-linejoin="round" stroke-dasharray="3.2 2.4"/>
<path d="M306.7 330.4L307.2 339.9L307.7 348.1L308.3 354.3L308.8 357.6L309.3 359.4L309.9 360.7L310.4 361.7L310.9 362.6L311.5 363.3L312 364L312.5 364.6L313.1 365.1L313.6 365.7L314.1 366.1L314.7 366.5L315.9 367.4L317.1 368.2L318.3 368.9L319.6 369.5L320.8 370.1L322 370.6L323.3 371.1L324.5 371.6L325.7 372L327 372.4L328.2 372.8L329.4 373.2L330.7 373.5L331.9 373.9L333.1 374.1L334.4 374.4L335.6 374.6L336.8 374.9L338.1 375.1L339.3 375.3L340.5 375.4L341.7 375.6L343 375.8L344.2 376L345.4 376.2L346.7 376.3L347.9 376.5L349.1 376.7L350.4 376.9L351.6 377L352.8 377.2L354.1 377.4L355.3 377.5L356.5 377.7L357.8 377.9L359 378.1L360.2 378.2L361.5 378.3L362.7 378.4L363.9 378.5L365.1 378.7L366.4 378.9L367.6 379.3L368.8 382.9L370.1 389.6L371.3 390.8L372.5 391.3L373.8 391.6L375 391.8L376.2 392L377.5 392.2L378.7 392.4L379.9 392.5L381.2 392.6L382.4 392.8L383.6 392.9L384.9 393L386.1 393L387.3 393.1L388.5 393.2L389.8 393.3L391 393.3L392.2 393.4L393.5 393.4L394.7 393.5L395.9 393.5L397.2 393.6L398.4 393.6L399.6 393.6" fill="none" stroke="#00ffff" stroke-width="1.15" stroke-linejoin="round"/>
<path d="M306.7 350.8L307.2 357.7L307.7 363.7L308.3 368.5L308.8 371.7L309.3 373.9L309.9 375.7L310.4 377L310.9 377.8L311.5 378.4L312 378.9L312.5 379.4L313.1 379.7L313.6 380.1L314.1 380.4L314.7 380.7L315.9 381.4L317.1 382.2L318.3 383L319.6 383.7L320.8 384.5L322 385.2L323.3 385.9L324.5 386.6L325.7 387.3L327 388L328.2 388.6L329.4 389.3L330.7 390.1L331.9 390.8L333.1 391.6L334.4 392.5L335.6 393.3L336.8 394.1L338.1 395L339.3 395.8L340.5 396.7L341.7 397.6L343 398.4L344.2 399.3L345.4 400L346.7 400.7L347.9 401.3L349.1 401.9L350.4 402.5L351.6 403L352.8 403.5L354.1 403.8L355.3 404.1L356.5 404.4L357.8 404.6L359 404.8L360.2 405L361.5 405.2L362.7 405.4L363.9 405.6L365.1 405.8L366.4 405.9L367.6 406.1L368.8 406.3L370.1 406.5L371.3 406.8L372.5 407.1L373.8 407.5L375 407.9L376.2 408.4L377.5 408.9L378.7 409.3L379.9 409.5L381.2 409.8L382.4 410L383.6 410.2L384.9 410.4L386.1 410.6L387.3 410.7L388.5 410.9L389.8 411L391 411L392.2 411.1L393.5 411.2L394.7 411.3L395.9 411.4L397.2 411.4L398.4 411.4L399.6 411.4" fill="none" stroke="#0000ff" stroke-width="1.15" stroke-linejoin="round"/>
<path d="M306.7 325.3L307.2 337.7L307.7 348.4L308.3 356.3L308.8 360.1L309.3 362.1L309.9 363.6L310.4 364.5L310.9 364.9L311.5 365.1L312 365.3L312.5 365.5L313.1 365.6L313.6 365.7L314.1 365.8L314.7 365.9L315.9 366.1L317.1 366.4L318.3 366.6L319.6 366.8L320.8 367L322 367.2L323.3 367.4L324.5 367.6L325.7 367.8L327 368L328.2 368.2L329.4 368.4L330.7 368.7L331.9 368.9L333.1 369L334.4 369.2L335.6 369.4L336.8 369.6L338.1 369.8L339.3 370L340.5 370.2L341.7 370.3L343 370.5L344.2 370.7L345.4 370.8L346.7 371L347.9 371.2L349.1 371.3L350.4 371.5L351.6 371.7L352.8 371.9L354.1 372.2L355.3 372.4L356.5 372.7L357.8 372.9L359 373.2L360.2 373.4L361.5 373.7L362.7 373.9L363.9 374.2L365.1 374.5L366.4 374.7L367.6 375L368.8 375.3L370.1 375.5L371.3 375.8L372.5 376.1L373.8 376.3L375 376.6L376.2 376.9L377.5 377.2L378.7 377.5L379.9 377.8L381.2 378.1L382.4 378.4L383.6 378.7L384.9 379L386.1 379.4L387.3 379.7L388.5 380L389.8 380.4L391 380.7L392.2 381L393.5 381.4L394.7 381.7L395.9 382.1L397.2 382.4L398.4 382.8L399.6 383.2" fill="none" stroke="#ff00ff" stroke-width="1.15" stroke-linejoin="round"/>
<path d="M306.7 333L307.2 354.1L307.7 371.5L308.3 382.5L308.8 389.9L309.3 395.5L309.9 398.9L310.4 400.4L310.9 401.5L311.5 402.4L312 403.1L312.5 403.7L313.1 404.1L313.6 404.6L314.1 405L314.7 405.4L315.9 406.1L317.1 406.8L318.3 407.3L319.6 407.8L320.8 408.1L322 408.4L323.3 408.6L324.5 408.8L325.7 409L327 409.2L328.2 409.3L329.4 409.5L330.7 409.6L331.9 409.7L333.1 409.9L334.4 410L335.6 410.1L336.8 410.2L338.1 410.3L339.3 410.4L340.5 410.5L341.7 410.6L343 410.7L344.2 410.8L345.4 410.9L346.7 411L347.9 411L349.1 411.1L350.4 411.2L351.6 411.2L352.8 411.3L354.1 411.3L355.3 411.4L356.5 411.4L357.8 411.5L359 411.5L360.2 411.6L361.5 411.6L362.7 411.7L363.9 411.7L365.1 411.8L366.4 411.8L367.6 411.8L368.8 411.9L370.1 411.9L371.3 411.9L372.5 412L373.8 412L375 412L376.2 412.1L377.5 412.1L378.7 412.1L379.9 412.2L381.2 412.2L382.4 412.2L383.6 412.2L384.9 412.3L386.1 412.3L387.3 412.3L388.5 412.3L389.8 412.3L391 412.4L392.2 412.4L393.5 412.4L394.7 412.4L395.9 412.4L397.2 412.4L398.4 412.5L399.6 412.5" fill="none" stroke="#00ff00" stroke-width="1.15" stroke-linejoin="round"/>
</g>
<rect x="306.4" y="311.3" width="94.5" height="119" fill="none" stroke="#a6a6a6" stroke-width="0.6"/>
<path d="M306.4 430.3v-1.1M306.4 311.3v1.1M325.3 430.3v-1.1M325.3 311.3v1.1M344.2 430.3v-1.1M344.2 311.3v1.1M363.1 430.3v-1.1M363.1 311.3v1.1M382 430.3v-1.1M382 311.3v1.1M400.9 430.3v-1.1M400.9 311.3v1.1M306.4 311.3h1.1M400.9 311.3h-1.1M306.4 328.37h1.1M400.9 328.37h-1.1M306.4 345.45h1.1M400.9 345.45h-1.1M306.4 362.26h1.1M400.9 362.26h-1.1M306.4 379.34h1.1M400.9 379.34h-1.1M306.4 396.41h1.1M400.9 396.41h-1.1M306.4 413.23h1.1M400.9 413.23h-1.1M306.4 430.3h1.1M400.9 430.3h-1.1" stroke="#a6a6a6" stroke-width="0.5" fill="none"/>
<text x="306.4" y="438.5" font-size="6.3" text-anchor="middle" fill="#1f1f1f">0</text>
<text x="325.3" y="438.5" font-size="6.3" text-anchor="middle" fill="#1f1f1f">100</text>
<text x="344.2" y="438.5" font-size="6.3" text-anchor="middle" fill="#1f1f1f">200</text>
<text x="363.1" y="438.5" font-size="6.3" text-anchor="middle" fill="#1f1f1f">300</text>
<text x="382" y="438.5" font-size="6.3" text-anchor="middle" fill="#1f1f1f">400</text>
<text x="400.9" y="438.5" font-size="6.3" text-anchor="middle" fill="#1f1f1f">500</text>
<text x="304.1" y="314.3" font-size="6.3" text-anchor="end" fill="#1f1f1f">16000</text>
<text x="304.1" y="331.37" font-size="6.3" text-anchor="end" fill="#1f1f1f">14000</text>
<text x="304.1" y="348.45" font-size="6.3" text-anchor="end" fill="#1f1f1f">12000</text>
<text x="304.1" y="365.26" font-size="6.3" text-anchor="end" fill="#1f1f1f">10000</text>
<text x="304.1" y="382.34" font-size="6.3" text-anchor="end" fill="#1f1f1f">8000</text>
<text x="304.1" y="399.41" font-size="6.3" text-anchor="end" fill="#1f1f1f">6000</text>
<text x="304.1" y="416.23" font-size="6.3" text-anchor="end" fill="#1f1f1f">4000</text>
<text x="304.1" y="433.3" font-size="6.3" text-anchor="end" fill="#1f1f1f">2000</text>
<text x="353.65" y="446.9" font-size="6.9" text-anchor="middle" fill="#1f1f1f">Iterations</text>
<text transform="translate(283.89 370.8) rotate(-90)" font-size="6.9" text-anchor="middle" fill="#1f1f1f">Fitness</text>
<text x="353.5" y="309.5" font-size="6.95" text-anchor="middle" fill="#1f1f1f" class="t">CEC2017 F23 Dim=100</text>
</g>
<g id="sp12">
<rect x="432.4" y="311.3" width="104" height="119" fill="#fff"/>
<path d="M453.2 311.3V430.3M474 311.3V430.3M494.8 311.3V430.3M515.6 311.3V430.3M432.4 351.05H536.4M432.4 390.55H536.4" stroke="#ececec" stroke-width="0.55" fill="none"/>
<g clip-path="url(#c12)">
<path d="M432.6 369.9L433.2 382.9L433.7 394.1L434.2 402.5L434.8 408.2L435.3 412.9L435.8 416.6L436.4 418.8L436.9 420.1L437.4 421.1L438 422L438.5 422.6L439 423.2L439.6 423.5L440.1 423.9L440.6 424.2L442 424.8L443.4 425.2L444.8 425.5L446.2 425.8L447.5 426.1L448.9 426.3L450.3 426.5L451.7 426.6L453 426.7L454.4 426.8L455.8 426.8L457.2 426.9L458.5 427L459.9 427L461.3 427L462.7 427.1L464.1 427.1L465.4 427.1L466.8 427.2L468.2 427.2L469.6 427.2L470.9 427.2L472.3 427.2L473.7 427.2L475.1 427.3L476.4 427.3L477.8 427.3L479.2 427.3L480.6 427.3L482 427.3L483.3 427.3L484.7 427.3L486.1 427.3L487.5 427.3L488.8 427.4L490.2 427.4L491.6 427.4L493 427.4L494.3 427.4L495.7 427.4L497.1 427.4L498.5 427.4L499.9 427.4L501.2 427.4L502.6 427.4L504 427.4L505.4 427.4L506.7 427.4L508.1 427.4L509.5 427.5L510.9 427.5L512.2 427.5L513.6 427.5L515 427.5L516.4 427.5L517.8 427.5L519.1 427.5L520.5 427.5L521.9 427.5L523.3 427.5L524.6 427.5L526 427.5L527.4 427.5L528.8 427.5L530.1 427.5L531.5 427.5L532.9 427.5L534.3 427.5L535.6 427.5" fill="none" stroke="#ff0000" stroke-width="1.15" stroke-linejoin="round"/>
<path class="mIMCOA" d="M432.6 369.9L436 417.3L439.6 423.5L443.2 425.1L446.7 425.9L450.3 426.5L453.9 426.8L457.5 426.9L461.1 427L464.7 427.1L468.3 427.2L471.8 427.2L475.4 427.3L479 427.3L482.6 427.3L486.2 427.3L489.8 427.4L493.4 427.4L497 427.4L500.5 427.4L504.1 427.4L507.7 427.4L511.3 427.5L514.9 427.5L518.5 427.5L522.1 427.5L525.6 427.5L529.2 427.5L532.8 427.5L535.6 427.5"/>
<path d="M432.6 385.2L433.2 389.2L433.7 392.8L434.2 395.9L434.8 398.5L435.3 400.8L435.8 402.7L436.4 404.3L436.9 405.5L437.4 406.6L438 407.5L438.5 408.3L439 409L439.6 409.6L440.1 410.1L440.6 410.6L442 411.7L443.4 412.6L444.8 413.5L446.2 414.3L447.5 415.1L448.9 415.8L450.3 416.4L451.7 416.9L453 417.4L454.4 417.9L455.8 418.3L457.2 418.7L458.5 419.1L459.9 419.4L461.3 419.7L462.7 420L464.1 420.3L465.4 420.5L466.8 420.7L468.2 421L469.6 421.2L470.9 421.3L472.3 421.5L473.7 421.7L475.1 421.9L476.4 422L477.8 422.2L479.2 422.3L480.6 422.5L482 422.6L483.3 422.7L484.7 422.8L486.1 422.9L487.5 423L488.8 423.1L490.2 423.2L491.6 423.3L493 423.4L494.3 423.5L495.7 423.5L497.1 423.6L498.5 423.7L499.9 423.7L501.2 423.8L502.6 423.9L504 423.9L505.4 424L506.7 424L508.1 424.1L509.5 424.1L510.9 424.2L512.2 424.2L513.6 424.3L515 424.3L516.4 424.4L517.8 424.4L519.1 424.5L520.5 424.5L521.9 424.6L523.3 424.6L524.6 424.7L526 424.7L527.4 424.7L528.8 424.8L530.1 424.8L531.5 424.9L532.9 424.9L534.3 424.9L535.6 424.9" fill="none" stroke="#00ffff" stroke-width="1.15" stroke-linejoin="round"/>
<path class="mCOA" d="M432.6 385.2L436 403.2L439.6 409.6L443.2 412.4L446.7 414.6L450.3 416.4L453.9 417.7L457.5 418.8L461.1 419.7L464.7 420.4L468.3 421L471.8 421.5L475.4 421.9L479 422.3L482.6 422.7L486.2 422.9L489.8 423.2L493.4 423.4L497 423.6L500.5 423.8L504.1 423.9L507.7 424.1L511.3 424.2L514.9 424.3L518.5 424.5L522.1 424.6L525.6 424.7L529.2 424.8L532.8 424.9L535.6 424.9"/>
<path d="M432.6 335.5L433.2 363.4L433.7 382.8L434.2 386.8L434.8 388.6L435.3 389.7L435.8 390.6L436.4 391.5L436.9 392.6L437.4 393.5L438 394.4L438.5 395.2L439 396.1L439.6 397L440.1 397.9L440.6 398.9L442 401.4L443.4 403.4L444.8 405L446.2 406.4L447.5 407.6L448.9 408.7L450.3 409.7L451.7 410.5L453 411.3L454.4 412L455.8 412.5L457.2 413L458.5 413.4L459.9 413.8L461.3 414.2L462.7 414.5L464.1 414.8L465.4 415.1L466.8 415.4L468.2 415.7L469.6 415.9L470.9 416.2L472.3 416.4L473.7 416.6L475.1 416.9L476.4 417.1L477.8 417.3L479.2 417.5L480.6 417.7L482 417.9L483.3 418L484.7 418.2L486.1 418.4L487.5 418.5L488.8 418.7L490.2 418.8L491.6 419L493 419.1L494.3 419.3L495.7 419.4L497.1 419.5L498.5 419.6L499.9 419.7L501.2 419.8L502.6 419.9L504 420L505.4 420.1L506.7 420.1L508.1 420.2L509.5 420.3L510.9 420.4L512.2 420.5L513.6 420.5L515 420.6L516.4 420.7L517.8 420.8L519.1 420.9L520.5 421L521.9 421L523.3 421.1L524.6 421.2L526 421.3L527.4 421.4L528.8 421.5L530.1 421.6L531.5 421.6L532.9 421.7L534.3 421.8L535.6 421.9" fill="none" stroke="#0000ff" stroke-width="1.15" stroke-linejoin="round"/>
<path class="mDBO" d="M432.6 335.5L436 390.8L439.6 397L443.2 403L446.7 407L450.3 409.7L453.9 411.7L457.5 413.1L461.1 414.1L464.7 414.9L468.3 415.7L471.8 416.3L475.4 416.9L479 417.5L482.6 417.9L486.2 418.4L489.8 418.8L493.4 419.2L497 419.5L500.5 419.8L504.1 420L507.7 420.2L511.3 420.4L514.9 420.6L518.5 420.8L522.1 421.1L525.6 421.3L529.2 421.5L532.8 421.7L535.6 421.9"/>
<path d="M432.6 317.7L433.2 340.8L433.7 360.7L434.2 375.7L434.8 385.7L435.3 394L435.8 400.4L436.4 404.2L436.9 406.4L437.4 408.1L438 409.5L438.5 410.6L439 411.4L439.6 412.2L440.1 412.9L440.6 413.5L442 414.8L443.4 415.9L444.8 416.8L446.2 417.6L447.5 418.3L448.9 418.9L450.3 419.5L451.7 419.9L453 420.4L454.4 420.7L455.8 421.1L457.2 421.4L458.5 421.7L459.9 422L461.3 422.3L462.7 422.5L464.1 422.7L465.4 423L466.8 423.2L468.2 423.4L469.6 423.6L470.9 423.7L472.3 423.9L473.7 424L475.1 424.1L476.4 424.2L477.8 424.3L479.2 424.4L480.6 424.4L482 424.5L483.3 424.6L484.7 424.6L486.1 424.7L487.5 424.8L488.8 424.9L490.2 424.9L491.6 425L493 425L494.3 425.1L495.7 425.2L497.1 425.2L498.5 425.3L499.9 425.3L501.2 425.4L502.6 425.5L504 425.5L505.4 425.6L506.7 425.6L508.1 425.6L509.5 425.7L510.9 425.7L512.2 425.8L513.6 425.8L515 425.8L516.4 425.9L517.8 425.9L519.1 425.9L520.5 426L521.9 426L523.3 426L524.6 426.1L526 426.1L527.4 426.1L528.8 426.1L530.1 426.2L531.5 426.2L532.9 426.2L534.3 426.2L535.6 426.2" fill="none" stroke="#ff00ff" stroke-width="1.15" stroke-linejoin="round"/>
<path class="mTSO" d="M432.6 317.7L436 401.6L439.6 412.2L443.2 415.7L446.7 417.9L450.3 419.5L453.9 420.6L457.5 421.5L461.1 422.2L464.7 422.8L468.3 423.4L471.8 423.8L475.4 424.1L479 424.3L482.6 424.5L486.2 424.7L489.8 424.9L493.4 425.1L497 425.2L500.5 425.4L504.1 425.5L507.7 425.6L511.3 425.7L514.9 425.8L518.5 425.9L522.1 426L525.6 426.1L529.2 426.1L532.8 426.2L535.6 426.2"/>
<path d="M432.6 338.1L433.2 361L433.7 380.5L434.2 394.2L434.8 401.8L435.3 407.6L435.8 411.9L436.4 414.5L436.9 415.9L437.4 417L438 417.9L438.5 418.6L439 419.2L439.6 419.8L440.1 420.3L440.6 420.7L442 421.8L443.4 422.5L444.8 423L446.2 423.4L447.5 423.8L448.9 424.1L450.3 424.3L451.7 424.5L453 424.7L454.4 424.8L455.8 425L457.2 425.1L458.5 425.2L459.9 425.3L461.3 425.4L462.7 425.5L464.1 425.6L465.4 425.7L466.8 425.7L468.2 425.8L469.6 425.9L470.9 425.9L472.3 425.9L473.7 426L475.1 426L476.4 426L477.8 426.1L479.2 426.1L480.6 426.1L482 426.2L483.3 426.2L484.7 426.2L486.1 426.2L487.5 426.3L488.8 426.3L490.2 426.3L491.6 426.3L493 426.4L494.3 426.4L495.7 426.4L497.1 426.4L498.5 426.5L499.9 426.5L501.2 426.5L502.6 426.5L504 426.5L505.4 426.5L506.7 426.6L508.1 426.6L509.5 426.6L510.9 426.6L512.2 426.6L513.6 426.6L515 426.6L516.4 426.7L517.8 426.7L519.1 426.7L520.5 426.7L521.9 426.7L523.3 426.7L524.6 426.7L526 426.7L527.4 426.7L528.8 426.7L530.1 426.7L531.5 426.7L532.9 426.7L534.3 426.7L535.6 426.7" fill="none" stroke="#00ff00" stroke-width="1.15" stroke-linejoin="round" stroke-dasharray="3.2 2.4"/>
<path d="M432.6 385.2L433.2 391.7L433.7 397.2L434.2 401.1L434.8 403.2L435.3 404.8L435.8 406L436.4 406.8L436.9 407.5L437.4 408.1L438 408.6L438.5 409L439 409.3L439.6 409.5L440.1 409.6L440.6 409.8L442 410.2L443.4 410.4L444.8 410.6L446.2 410.7L447.5 410.8L448.9 410.9L450.3 410.9L451.7 411L453 411L454.4 411.1L455.8 411.1L457.2 411.1L458.5 411.2L459.9 411.2L461.3 411.2L462.7 411.2L464.1 411.2L465.4 411.3L466.8 411.3L468.2 411.3L469.6 411.3L470.9 411.3L472.3 411.4L473.7 411.4L475.1 411.4L476.4 411.4L477.8 411.4L479.2 411.4L480.6 411.4L482 411.4L483.3 411.4L484.7 411.4L486.1 411.4L487.5 411.4L488.8 411.4L490.2 411.4L491.6 411.4L493 411.4L494.3 411.4L495.7 411.4L497.1 411.4L498.5 411.5L499.9 413.5L501.2 415.9L502.6 417.7L504 419.5L505.4 420.7L506.7 421.3L508.1 421.8L509.5 422.3L510.9 422.6L512.2 422.9L513.6 423.2L515 423.3L516.4 423.5L517.8 423.6L519.1 423.8L520.5 423.9L521.9 424L523.3 424.2L524.6 424.3L526 424.4L527.4 424.4L528.8 424.5L530.1 424.6L531.5 424.6L532.9 424.7L534.3 424.7L535.6 424.7" fill="none" stroke="#00ffff" stroke-width="1.15" stroke-linejoin="round"/>
<path d="M432.6 385L433.1 389.2L433.7 392.6L434.2 394.7L434.7 396.2L435.3 397.4L435.8 398.2L436.3 398.6L436.9 398.9L437.4 399.2L437.9 399.4L438.5 399.5L439 399.6L439.5 399.6L440.1 399.7L440.6 399.7L442 399.8L443.4 399.8L444.7 399.9L446.1 399.9L447.5 399.9L448.9 400L450.3 400L451.7 400.1L453 400.1L454.4 400.1L455.8 400.2L457.2 400.3L458.6 400.3L460 400.4L461.3 400.5L462.7 400.7L464.1 400.9L465.5 401.1L466.9 401.4L468.3 401.7L469.6 402.1L471 402.6L472.4 403.2L473.8 404L475.2 404.9L476.5 406.1L477.9 407.5L479.3 409.1L480.7 410.8L482.1 412.5L483.5 414.3L484.8 416.1L486.2 418L487.6 419.6L489 421L490.4 422.3L491.8 423.5L493.1 424.5L494.5 425.2L495.9 425.8L497.3 426.3L498.7 426.7L500.1 427L501.4 427.2L502.8 427.4L504.2 427.6L505.6 427.7L507 427.8L508.3 427.9L509.7 428L511.1 428L512.5 428.1L513.9 428.1L515.3 428.1L516.6 428.2L518 428.2L519.4 428.2L520.8 428.3L522.2 428.3L523.6 428.3L524.9 428.3L526.3 428.3L527.7 428.4L529.1 428.4L530.5 428.4L531.9 428.4L533.2 428.4L534.6 428.4L536 428.4" fill="none" stroke="#0000ff" stroke-width="1.15" stroke-linejoin="round"/>
<path d="M432.6 317.7L433.2 347.8L433.7 373L434.2 389.2L434.8 395.9L435.3 400.5L435.8 403.7L436.4 405.5L436.9 406.5L437.4 407.3L438 407.8L438.5 408.3L439 408.7L439.6 409L440.1 409.3L440.6 409.6L442 410.2L443.4 410.7L444.8 411.1L446.2 411.6L447.5 412.1L448.9 412.5L450.3 413L451.7 413.4L453 413.8L454.4 414.2L455.8 414.5L457.2 414.9L458.5 415.3L459.9 415.7L461.3 416L462.7 416.3L464.1 416.7L465.4 417L466.8 417.3L468.2 417.6L469.6 417.9L470.9 418.2L472.3 418.4L473.7 418.7L475.1 419L476.4 419.2L477.8 419.5L479.2 419.8L480.6 420L482 420.3L483.3 420.5L484.7 420.7L486.1 420.9L487.5 421.2L488.8 421.4L490.2 421.6L491.6 421.8L493 422L494.3 422.1L495.7 422.3L497.1 422.5L498.5 422.7L499.9 422.9L501.2 423.1L502.6 423.3L504 423.5L505.4 423.6L506.7 423.8L508.1 424L509.5 424.1L510.9 424.2L512.2 424.3L513.6 424.4L515 424.5L516.4 424.6L517.8 424.7L519.1 424.8L520.5 424.9L521.9 425L523.3 425.1L524.6 425.1L526 425.2L527.4 425.3L528.8 425.3L530.1 425.4L531.5 425.4L532.9 425.4L534.3 425.4L535.6 425.5" fill="none" stroke="#ff00ff" stroke-width="1.15" stroke-linejoin="round"/>
<path d="M432.6 340.6L433.2 350.3L433.7 359.7L434.2 368.7L434.8 377.6L435.3 386.4L435.8 394.7L436.4 401.6L436.9 407.4L437.4 412.7L438 416.4L438.5 418.2L439 419.6L439.6 420.7L440.1 421.6L440.6 422.1L442 423.2L443.4 424L444.8 424.5L446.2 424.8L447.5 425L448.9 425.2L450.3 425.4L451.7 425.6L453 425.8L454.4 425.9L455.8 426L457.2 426.1L458.5 426.2L459.9 426.2L461.3 426.2L462.7 426.3L464.1 426.3L465.4 426.3L466.8 426.4L468.2 426.4L469.6 426.4L470.9 426.4L472.3 426.5L473.7 426.5L475.1 426.5L476.4 426.5L477.8 426.6L479.2 426.6L480.6 426.6L482 426.6L483.3 426.6L484.7 426.7L486.1 426.7L487.5 426.7L488.8 426.7L490.2 426.7L491.6 426.7L493 426.8L494.3 426.8L495.7 426.8L497.1 426.8L498.5 426.8L499.9 426.8L501.2 426.8L502.6 426.9L504 426.9L505.4 426.9L506.7 426.9L508.1 426.9L509.5 426.9L510.9 426.9L512.2 426.9L513.6 426.9L515 426.9L516.4 426.9L517.8 427L519.1 427L520.5 427L521.9 427L523.3 427L524.6 427L526 427L527.4 427L528.8 427L530.1 427L531.5 427L532.9 427L534.3 427L535.6 427" fill="none" stroke="#00ff00" stroke-width="1.15" stroke-linejoin="round"/>
</g>
<rect x="432.4" y="311.3" width="104" height="119" fill="none" stroke="#a6a6a6" stroke-width="0.6"/>
<path d="M432.4 430.3v-1.1M432.4 311.3v1.1M453.2 430.3v-1.1M453.2 311.3v1.1M474 430.3v-1.1M474 311.3v1.1M494.8 430.3v-1.1M494.8 311.3v1.1M515.6 430.3v-1.1M515.6 311.3v1.1M536.4 430.3v-1.1M536.4 311.3v1.1M432.4 311.3h1.1M536.4 311.3h-1.1M432.4 351.05h1.1M536.4 351.05h-1.1M432.4 390.55h1.1M536.4 390.55h-1.1M432.4 430.3h1.1M536.4 430.3h-1.1" stroke="#a6a6a6" stroke-width="0.5" fill="none"/>
<text x="432.4" y="438.5" font-size="6.3" text-anchor="middle" fill="#1f1f1f">0</text>
<text x="453.2" y="438.5" font-size="6.3" text-anchor="middle" fill="#1f1f1f">100</text>
<text x="474" y="438.5" font-size="6.3" text-anchor="middle" fill="#1f1f1f">200</text>
<text x="494.8" y="438.5" font-size="6.3" text-anchor="middle" fill="#1f1f1f">300</text>
<text x="515.6" y="438.5" font-size="6.3" text-anchor="middle" fill="#1f1f1f">400</text>
<text x="536.4" y="438.5" font-size="6.3" text-anchor="middle" fill="#1f1f1f">500</text>
<text x="430.1" y="314.3" font-size="6.3" text-anchor="end" fill="#1f1f1f">15</text>
<text x="430.1" y="354.05" font-size="6.3" text-anchor="end" fill="#1f1f1f">10</text>
<text x="430.1" y="393.55" font-size="6.3" text-anchor="end" fill="#1f1f1f">5</text>
<text x="430.1" y="433.3" font-size="6.3" text-anchor="end" fill="#1f1f1f">0</text>
<text x="484.4" y="446.9" font-size="6.9" text-anchor="middle" fill="#1f1f1f">Iterations</text>
<text transform="translate(420.39 370.8) rotate(-90)" font-size="6.9" text-anchor="middle" fill="#1f1f1f">Fitness</text>
<text x="484.25" y="309.5" font-size="6.95" text-anchor="middle" fill="#1f1f1f" class="t">CEC2017 F24 Dim=100</text>
<text y="309.8" font-size="6.1" fill="#1f1f1f"><tspan x="433.1">×</tspan><tspan x="437.8">10</tspan><tspan x="444.4" dy="-2.6" font-size="4.9">4</tspan></text>
</g>
<g id="sp13">
<rect x="24.6" y="460.6" width="103.7" height="118.7" fill="#fff"/>
<path d="M45.34 460.6V579.3M66.08 460.6V579.3M86.82 460.6V579.3M107.56 460.6V579.3M24.6 484.19H128.3M24.6 508.03H128.3M24.6 531.62H128.3M24.6 555.46H128.3" stroke="#ececec" stroke-width="0.55" fill="none"/>
<g clip-path="url(#c13)">
<path d="M24.9 495.6L25.4 512.2L25.9 525.7L26.5 534.6L27 540.7L27.5 545.1L28.1 547.6L28.6 549.4L29.1 550.8L29.7 551.9L30.2 552.9L30.7 553.6L31.3 554.3L31.8 554.9L32.3 555.4L32.9 555.9L34.2 556.9L35.6 557.8L36.9 558.6L38.3 559.3L39.7 560L41 560.7L42.4 561.2L43.8 561.8L45.1 562.3L46.5 562.8L47.9 563.3L49.2 563.7L50.6 564L52 564.3L53.3 564.6L54.7 564.9L56.1 565.1L57.4 565.3L58.8 565.5L60.2 565.7L61.5 565.9L62.9 566L64.2 566.2L65.6 566.4L67 566.5L68.3 566.7L69.7 566.8L71.1 567L72.4 567.1L73.8 567.2L75.2 567.3L76.5 567.4L77.9 567.5L79.3 567.6L80.6 567.6L82 567.7L83.4 567.8L84.7 567.8L86.1 567.9L87.4 567.9L88.8 568L90.2 568L91.5 568.1L92.9 568.1L94.3 568.2L95.6 568.2L97 568.3L98.4 568.3L99.7 568.3L101.1 568.4L102.5 568.4L103.8 568.5L105.2 568.5L106.6 568.5L107.9 568.6L109.3 568.6L110.7 568.6L112 568.7L113.4 568.7L114.7 568.7L116.1 568.7L117.5 568.8L118.8 568.8L120.2 568.8L121.6 568.8L122.9 568.9L124.3 568.9L125.7 568.9L127 568.9" fill="none" stroke="#ff0000" stroke-width="1.15" stroke-linejoin="round"/>
<path class="mIMCOA" d="M24.9 495.6L28.2 548.1L31.8 554.9L35.3 557.6L38.9 559.7L42.5 561.3L46.1 562.7L49.6 563.8L53.2 564.6L56.8 565.2L60.4 565.7L63.9 566.2L67.5 566.6L71.1 567L74.7 567.3L78.2 567.5L81.8 567.7L85.4 567.8L89 568L92.5 568.1L96.1 568.2L99.7 568.3L103.3 568.4L106.8 568.5L110.4 568.6L114 568.7L117.6 568.8L121.1 568.8L124.7 568.9L127 568.9"/>
<path d="M24.9 498.1L25.4 503.4L25.9 508.1L26.5 512.2L27 515.6L27.5 518.6L28.1 521.1L28.6 522.7L29.1 523.8L29.7 524.7L30.2 525.5L30.7 526.1L31.3 526.8L31.8 527.4L32.3 528L32.9 528.7L34.2 530.1L35.6 531.4L36.9 532.5L38.3 533.4L39.7 534.1L41 534.8L42.4 535.4L43.8 536L45.1 536.4L46.5 536.8L47.9 537.2L49.2 537.5L50.6 537.8L52 538L53.3 538.2L54.7 538.4L56.1 538.6L57.4 538.7L58.8 538.8L60.2 539L61.5 539.1L62.9 539.2L64.2 539.3L65.6 539.4L67 539.6L68.3 539.7L69.7 539.8L71.1 539.9L72.4 540.1L73.8 540.2L75.2 540.3L76.5 540.4L77.9 540.5L79.3 540.6L80.6 540.7L82 540.8L83.4 540.9L84.7 541L86.1 541L87.4 541.1L88.8 541.2L90.2 541.3L91.5 541.3L92.9 541.4L94.3 541.5L95.6 541.5L97 541.6L98.4 541.6L99.7 541.7L101.1 541.7L102.5 541.8L103.8 541.8L105.2 541.9L106.6 541.9L107.9 542L109.3 542L110.7 542.1L112 542.1L113.4 542.2L114.7 542.2L116.1 542.3L117.5 542.3L118.8 542.3L120.2 542.4L121.6 542.4L122.9 542.4L124.3 542.5L125.7 542.5L127 542.5" fill="none" stroke="#00ffff" stroke-width="1.15" stroke-linejoin="round"/>
<path class="mCOA" d="M24.9 498.1L28.2 521.5L31.8 527.3L35.3 531.2L38.9 533.7L42.5 535.5L46.1 536.7L49.6 537.6L53.2 538.2L56.8 538.6L60.4 539L63.9 539.3L67.5 539.6L71.1 539.9L74.7 540.3L78.2 540.5L81.8 540.8L85.4 541L89 541.2L92.5 541.4L96.1 541.5L99.7 541.7L103.3 541.8L106.8 542L110.4 542.1L114 542.2L117.6 542.3L121.1 542.4L124.7 542.5L127 542.5"/>
<path d="M24.9 490L25.4 506.4L25.9 520L26.5 529.3L27 533.8L27.5 537.1L28.1 539.3L28.6 540.2L29.1 540.7L29.7 541.1L30.2 541.4L30.7 541.6L31.3 541.8L31.8 542L32.3 542.3L32.9 542.4L34.2 542.9L35.6 543.3L36.9 543.6L38.3 543.8L39.7 544L41 544.2L42.4 544.4L43.8 544.5L45.1 544.6L46.5 544.7L47.9 544.9L49.2 545L50.6 545L52 545.1L53.3 545.2L54.7 545.3L56.1 545.4L57.4 545.5L58.8 545.6L60.2 545.6L61.5 545.7L62.9 545.8L64.2 545.8L65.6 545.9L67 546L68.3 546L69.7 546.1L71.1 546.1L72.4 546.2L73.8 546.2L75.2 546.3L76.5 546.3L77.9 546.4L79.3 546.4L80.6 546.5L82 546.5L83.4 546.6L84.7 546.6L86.1 546.6L87.4 546.7L88.8 546.7L90.2 546.8L91.5 546.8L92.9 546.8L94.3 546.9L95.6 546.9L97 546.9L98.4 547L99.7 547L101.1 547.1L102.5 547.1L103.8 547.2L105.2 547.2L106.6 547.3L107.9 547.3L109.3 547.4L110.7 547.4L112 547.5L113.4 547.5L114.7 547.6L116.1 547.6L117.5 547.7L118.8 547.7L120.2 547.8L121.6 547.9L122.9 547.9L124.3 548L125.7 548L127 548.1" fill="none" stroke="#0000ff" stroke-width="1.15" stroke-linejoin="round"/>
<path class="mDBO" d="M24.9 490L28.2 539.6L31.8 542L35.3 543.2L38.9 543.9L42.5 544.4L46.1 544.7L49.6 545L53.2 545.2L56.8 545.4L60.4 545.6L63.9 545.8L67.5 546L71.1 546.1L74.7 546.3L78.2 546.4L81.8 546.5L85.4 546.6L89 546.7L92.5 546.8L96.1 546.9L99.7 547L103.3 547.1L106.8 547.3L110.4 547.4L114 547.5L117.6 547.7L121.1 547.8L124.7 548L127 548.1"/>
<path d="M24.9 468.2L25.4 485.7L25.9 500.5L26.5 511L27 517L27.5 521.4L28.1 524.6L28.6 526.6L29.1 528.1L29.7 529.3L30.2 530.3L30.7 531.1L31.3 531.8L31.8 532.5L32.3 533L32.9 533.5L34.2 534.6L35.6 535.5L36.9 536.3L38.3 537.1L39.7 537.9L41 538.6L42.4 539.2L43.8 539.8L45.1 540.2L46.5 540.6L47.9 540.9L49.2 541.2L50.6 541.5L52 541.8L53.3 542L54.7 542.3L56.1 542.5L57.4 542.7L58.8 542.9L60.2 543.1L61.5 543.3L62.9 543.4L64.2 543.6L65.6 543.7L67 543.9L68.3 544L69.7 544.2L71.1 544.3L72.4 544.4L73.8 544.5L75.2 544.7L76.5 544.8L77.9 544.9L79.3 544.9L80.6 545L82 545.1L83.4 545.2L84.7 545.2L86.1 545.3L87.4 545.3L88.8 545.4L90.2 545.4L91.5 545.5L92.9 545.5L94.3 545.6L95.6 545.6L97 545.7L98.4 545.7L99.7 545.8L101.1 545.8L102.5 545.9L103.8 545.9L105.2 546L106.6 546L107.9 546.1L109.3 546.1L110.7 546.2L112 546.2L113.4 546.3L114.7 546.3L116.1 546.4L117.5 546.4L118.8 546.5L120.2 546.6L121.6 546.6L122.9 546.7L124.3 546.7L125.7 546.8L127 546.8" fill="none" stroke="#ff00ff" stroke-width="1.15" stroke-linejoin="round"/>
<path class="mTSO" d="M24.9 468.2L28.2 525.2L31.8 532.4L35.3 535.3L38.9 537.4L42.5 539.3L46.1 540.5L49.6 541.3L53.2 542L56.8 542.6L60.4 543.1L63.9 543.6L67.5 543.9L71.1 544.3L74.7 544.6L78.2 544.9L81.8 545.1L85.4 545.3L89 545.4L92.5 545.5L96.1 545.6L99.7 545.7L103.3 545.9L106.8 546L110.4 546.2L114 546.3L117.6 546.4L121.1 546.6L124.7 546.7L127 546.8"/>
<path d="M24.9 477.8L25.4 499.6L25.9 517.8L26.5 530.8L27 538.2L27.5 543.9L28.1 547.7L28.6 549.1L29.1 549.6L29.7 550L30.2 550.3L30.7 550.6L31.3 550.8L31.8 550.9L32.3 551L32.9 551.2L34.2 551.4L35.6 551.6L36.9 551.8L38.3 551.9L39.7 552L41 552.2L42.4 552.2L43.8 552.3L45.1 552.4L46.5 552.5L47.9 552.5L49.2 552.6L50.6 552.7L52 552.7L53.3 552.8L54.7 552.8L56.1 552.9L57.4 552.9L58.8 552.9L60.2 553L61.5 553L62.9 553L64.2 553.1L65.6 553.1L67 553.1L68.3 553.2L69.7 553.2L71.1 553.3L72.4 553.3L73.8 553.3L75.2 553.4L76.5 553.4L77.9 553.5L79.3 553.5L80.6 553.6L82 553.7L83.4 553.7L84.7 553.8L86.1 553.8L87.4 553.9L88.8 554L90.2 554L91.5 554.1L92.9 554.2L94.3 554.3L95.6 554.4L97 554.5L98.4 554.6L99.7 554.7L101.1 554.9L102.5 555L103.8 555.2L105.2 555.4L106.6 555.6L107.9 555.8L109.3 556L110.7 556.2L112 556.4L113.4 556.6L114.7 556.9L116.1 557.1L117.5 557.4L118.8 557.6L120.2 557.9L121.6 558.1L122.9 558.3L124.3 558.6L125.7 558.8L127 559" fill="none" stroke="#00ff00" stroke-width="1.15" stroke-linejoin="round" stroke-dasharray="3.2 2.4"/>
<path d="M24.9 498.1L25.4 503.6L25.9 508.3L26.5 511.5L27 512.9L27.5 514L28.1 514.8L28.6 515.4L29.1 515.9L29.7 516.2L30.2 516.5L30.7 516.8L31.3 517.1L31.8 517.3L32.3 517.5L32.9 517.7L34.2 518.1L35.6 518.4L36.9 518.7L38.3 518.9L39.7 519.1L41 519.3L42.4 519.4L43.8 519.6L45.1 519.7L46.5 519.7L47.9 519.8L49.2 519.9L50.6 520L52 520.1L53.3 520.1L54.7 520.2L56.1 520.2L57.4 520.3L58.8 520.3L60.2 520.4L61.5 520.4L62.9 520.4L64.2 520.5L65.6 520.5L67 520.5L68.3 520.6L69.7 520.6L71.1 520.6L72.4 520.6L73.8 520.7L75.2 520.7L76.5 520.7L77.9 520.7L79.3 520.8L80.6 520.8L82 520.8L83.4 520.8L84.7 520.8L86.1 520.8L87.4 520.8L88.8 520.9L90.2 520.9L91.5 520.9L92.9 521.9L94.3 525.1L95.6 528L97 530.3L98.4 532.5L99.7 534.3L101.1 535.5L102.5 536.6L103.8 537.4L105.2 538.1L106.6 538.7L107.9 539.1L109.3 539.4L110.7 539.7L112 540L113.4 540.2L114.7 540.4L116.1 540.6L117.5 540.8L118.8 541L120.2 541.2L121.6 541.4L122.9 541.6L124.3 541.7L125.7 541.9L127 542" fill="none" stroke="#00ffff" stroke-width="1.15" stroke-linejoin="round"/>
<path d="M24.9 490.5L25.4 494.5L25.9 497.9L26.5 500.2L27 501.3L27.5 502.1L28.1 502.8L28.6 503.3L29.1 503.7L29.7 504.1L30.2 504.4L30.7 504.7L31.3 505L31.8 505.3L32.3 505.5L32.9 505.7L34.2 506.3L35.6 507L36.9 507.9L38.3 508.8L39.7 509.7L41 510.6L42.4 511.6L43.8 512.5L45.1 513.4L46.5 514.3L47.9 515.2L49.2 516.1L50.6 517L52 518L53.3 518.9L54.7 519.9L56.1 521.2L57.4 522.9L58.8 524.9L60.2 527.2L61.5 529.6L62.9 532.4L64.2 535.4L65.6 538L67 540.1L68.3 542L69.7 543.7L71.1 545L72.4 546.1L73.8 547.1L75.2 547.9L76.5 548.5L77.9 549L79.3 549.5L80.6 549.9L82 550.2L83.4 550.6L84.7 550.9L86.1 551.3L87.4 551.7L88.8 552.1L90.2 552.5L91.5 552.9L92.9 553.3L94.3 553.8L95.6 554.2L97 554.6L98.4 555.1L99.7 555.5L101.1 556L102.5 556.5L103.8 556.9L105.2 557.4L106.6 557.7L107.9 558L109.3 558.3L110.7 558.6L112 558.9L113.4 559.1L114.7 559.3L116.1 559.5L117.5 559.5L118.8 559.6L120.2 559.6L121.6 559.7L122.9 559.7L124.3 559.7L125.7 559.8L127 559.8" fill="none" stroke="#0000ff" stroke-width="1.15" stroke-linejoin="round"/>
<path d="M24.9 470.2L25.4 487.9L25.9 503L26.5 512.2L27 514.5L27.5 515.8L28.1 516.8L28.6 517.4L29.1 517.9L29.7 518.2L30.2 518.6L30.7 518.8L31.3 519.1L31.8 519.3L32.3 519.5L32.9 519.6L34.2 520L35.6 520.5L36.9 520.9L38.3 521.4L39.7 521.8L41 522.2L42.4 522.6L43.8 522.9L45.1 523.3L46.5 523.7L47.9 524.2L49.2 524.6L50.6 525L52 525.4L53.3 525.8L54.7 526.2L56.1 526.6L57.4 527L58.8 527.4L60.2 527.7L61.5 528.1L62.9 528.5L64.2 528.8L65.6 529.2L67 529.6L68.3 530L69.7 530.4L71.1 530.9L72.4 531.3L73.8 531.7L75.2 532.1L76.5 532.5L77.9 532.8L79.3 533.2L80.6 533.6L82 533.9L83.4 534.3L84.7 534.6L86.1 535L87.4 535.3L88.8 535.7L90.2 536L91.5 536.3L92.9 536.7L94.3 537L95.6 537.3L97 537.7L98.4 538L99.7 538.3L101.1 538.6L102.5 538.9L103.8 539.2L105.2 539.5L106.6 539.8L107.9 540L109.3 540.3L110.7 540.6L112 540.8L113.4 541.1L114.7 541.3L116.1 541.6L117.5 541.8L118.8 542L120.2 542.3L121.6 542.5L122.9 542.7L124.3 542.9L125.7 543.1L127 543.3" fill="none" stroke="#ff00ff" stroke-width="1.15" stroke-linejoin="round"/>
<path d="M24.9 472.8L25.4 494.1L25.9 512.2L26.5 525.5L27 533.7L27.5 540.2L28.1 544.7L28.6 546.8L29.1 548.1L29.7 549L30.2 549.8L30.7 550.4L31.3 551L31.8 551.5L32.3 552L32.9 552.5L34.2 553.6L35.6 554.5L36.9 555.2L38.3 555.8L39.7 556.3L41 556.7L42.4 557L43.8 557.3L45.1 557.6L46.5 557.9L47.9 558.2L49.2 558.5L50.6 558.7L52 559L53.3 559.2L54.7 559.4L56.1 559.5L57.4 559.7L58.8 559.8L60.2 559.9L61.5 560.1L62.9 560.2L64.2 560.3L65.6 560.4L67 560.5L68.3 560.6L69.7 560.7L71.1 560.8L72.4 560.8L73.8 560.9L75.2 561L76.5 561.1L77.9 561.1L79.3 561.2L80.6 561.3L82 561.3L83.4 561.4L84.7 561.4L86.1 561.5L87.4 561.5L88.8 561.6L90.2 561.7L91.5 561.7L92.9 561.8L94.3 561.8L95.6 561.8L97 561.9L98.4 561.9L99.7 562L101.1 562L102.5 562.1L103.8 562.1L105.2 562.2L106.6 562.2L107.9 562.3L109.3 562.3L110.7 562.3L112 562.4L113.4 562.4L114.7 562.5L116.1 562.5L117.5 562.6L118.8 562.6L120.2 562.6L121.6 562.7L122.9 562.7L124.3 562.7L125.7 562.8L127 562.8" fill="none" stroke="#00ff00" stroke-width="1.15" stroke-linejoin="round"/>
</g>
<rect x="24.6" y="460.6" width="103.7" height="118.7" fill="none" stroke="#a6a6a6" stroke-width="0.6"/>
<path d="M24.6 579.3v-1.1M24.6 460.6v1.1M45.34 579.3v-1.1M45.34 460.6v1.1M66.08 579.3v-1.1M66.08 460.6v1.1M86.82 579.3v-1.1M86.82 460.6v1.1M107.56 579.3v-1.1M107.56 460.6v1.1M128.3 579.3v-1.1M128.3 460.6v1.1M24.6 460.6h1.1M128.3 460.6h-1.1M24.6 484.19h1.1M128.3 484.19h-1.1M24.6 508.03h1.1M128.3 508.03h-1.1M24.6 531.62h1.1M128.3 531.62h-1.1M24.6 555.46h1.1M128.3 555.46h-1.1M24.6 579.3h1.1M128.3 579.3h-1.1" stroke="#a6a6a6" stroke-width="0.5" fill="none"/>
<text x="24.6" y="587.5" font-size="6.3" text-anchor="middle" fill="#1f1f1f">0</text>
<text x="45.34" y="587.5" font-size="6.3" text-anchor="middle" fill="#1f1f1f">100</text>
<text x="66.08" y="587.5" font-size="6.3" text-anchor="middle" fill="#1f1f1f">200</text>
<text x="86.82" y="587.5" font-size="6.3" text-anchor="middle" fill="#1f1f1f">300</text>
<text x="107.56" y="587.5" font-size="6.3" text-anchor="middle" fill="#1f1f1f">400</text>
<text x="128.3" y="587.5" font-size="6.3" text-anchor="middle" fill="#1f1f1f">500</text>
<text x="22.3" y="463.6" font-size="6.3" text-anchor="end" fill="#1f1f1f">10</text>
<text x="22.3" y="487.19" font-size="6.3" text-anchor="end" fill="#1f1f1f">8</text>
<text x="22.3" y="511.03" font-size="6.3" text-anchor="end" fill="#1f1f1f">6</text>
<text x="22.3" y="534.62" font-size="6.3" text-anchor="end" fill="#1f1f1f">4</text>
<text x="22.3" y="558.46" font-size="6.3" text-anchor="end" fill="#1f1f1f">2</text>
<text x="22.3" y="582.3" font-size="6.3" text-anchor="end" fill="#1f1f1f">0</text>
<text x="76.45" y="595.9" font-size="6.9" text-anchor="middle" fill="#1f1f1f">Iterations</text>
<text transform="translate(12.59 519.95) rotate(-90)" font-size="6.9" text-anchor="middle" fill="#1f1f1f">Fitness</text>
<text x="76.3" y="458.8" font-size="6.95" text-anchor="middle" fill="#1f1f1f" class="t">CEC2017 F25 Dim=100</text>
<text y="459.1" font-size="6.1" fill="#1f1f1f"><tspan x="25.3">×</tspan><tspan x="30">10</tspan><tspan x="36.6" dy="-2.6" font-size="4.9">4</tspan></text>
</g>
<g id="sp14">
<rect x="162.4" y="460.6" width="102.1" height="118.7" fill="#fff"/>
<path d="M182.82 460.6V579.3M203.24 460.6V579.3M223.66 460.6V579.3M244.08 460.6V579.3M162.4 475.31H264.5M162.4 490.27H264.5M162.4 504.99H264.5M162.4 519.95H264.5M162.4 534.66H264.5M162.4 549.62H264.5M162.4 564.34H264.5" stroke="#ececec" stroke-width="0.55" fill="none"/>
<g clip-path="url(#c14)">
<path d="M162.7 481.7L163.2 504.1L163.7 522.8L164.3 535.2L164.8 544.1L165.3 551.3L165.9 556.2L166.4 558.3L166.9 559.7L167.5 560.7L168 561.6L168.5 562.3L169.1 562.9L169.6 563.3L170.1 563.7L170.7 564L172 564.7L173.3 565.3L174.7 565.7L176 566.1L177.4 566.3L178.7 566.6L180 566.8L181.4 566.9L182.7 567.1L184.1 567.2L185.4 567.3L186.8 567.4L188.1 567.5L189.4 567.5L190.8 567.6L192.1 567.6L193.5 567.7L194.8 567.7L196.1 567.8L197.5 567.8L198.8 567.9L200.2 567.9L201.5 567.9L202.9 568L204.2 568L205.5 568L206.9 568.1L208.2 568.1L209.6 568.1L210.9 568.1L212.2 568.2L213.6 568.2L214.9 568.2L216.3 568.2L217.6 568.2L219 568.2L220.3 568.3L221.6 568.3L223 568.3L224.3 568.3L225.7 568.3L227 568.3L228.4 568.4L229.7 568.4L231 568.4L232.4 568.4L233.7 568.4L235.1 568.4L236.4 568.4L237.7 568.4L239.1 568.4L240.4 568.4L241.8 568.4L243.1 568.4L244.5 568.4L245.8 568.4L247.1 568.4L248.5 568.4L249.8 568.4L251.2 568.4L252.5 568.4L253.8 568.4L255.2 568.4L256.5 568.4L257.9 568.4L259.2 568.4L260.6 568.4L261.9 568.4L263.2 568.4" fill="none" stroke="#ff0000" stroke-width="1.15" stroke-linejoin="round"/>
<path class="mIMCOA" d="M162.7 481.7L165.9 556.6L169.4 563.2L173 565.2L176.5 566.2L180 566.8L183.5 567.2L187 567.4L190.6 567.6L194.1 567.7L197.6 567.8L201.1 567.9L204.6 568L208.2 568.1L211.7 568.1L215.2 568.2L218.7 568.2L222.3 568.3L225.8 568.3L229.3 568.4L232.8 568.4L236.3 568.4L239.9 568.4L243.4 568.4L246.9 568.4L250.4 568.4L253.9 568.4L257.5 568.4L261 568.4L263.2 568.4"/>
<path d="M162.7 470.2L163.2 480.1L163.7 489L164.3 496.8L164.8 503.8L165.3 510.2L165.9 515.7L166.4 519.9L166.9 523.7L167.5 527.1L168 530.3L168.5 533L169.1 535.4L169.6 537.5L170.1 539.2L170.7 540.7L172 543.9L173.3 546.5L174.7 548.5L176 550L177.4 551.2L178.7 552.3L180 553.2L181.4 554L182.7 554.7L184.1 555.3L185.4 555.9L186.8 556.4L188.1 556.8L189.4 557.2L190.8 557.6L192.1 557.9L193.5 558.2L194.8 558.5L196.1 558.7L197.5 558.9L198.8 559.1L200.2 559.3L201.5 559.5L202.9 559.7L204.2 559.8L205.5 559.9L206.9 560L208.2 560.1L209.6 560.2L210.9 560.3L212.2 560.4L213.6 560.5L214.9 560.6L216.3 560.7L217.6 560.7L219 560.8L220.3 560.9L221.6 560.9L223 561L224.3 561L225.7 561.1L227 561.1L228.4 561.2L229.7 561.2L231 561.3L232.4 561.3L233.7 561.3L235.1 561.4L236.4 561.4L237.7 561.4L239.1 561.5L240.4 561.5L241.8 561.5L243.1 561.6L244.5 561.6L245.8 561.6L247.1 561.7L248.5 561.7L249.8 561.7L251.2 561.8L252.5 561.8L253.8 561.8L255.2 561.9L256.5 561.9L257.9 561.9L259.2 562L260.6 562L261.9 562L263.2 562.1" fill="none" stroke="#00ffff" stroke-width="1.15" stroke-linejoin="round"/>
<path class="mCOA" d="M162.7 470.2L165.9 516.3L169.4 537L173 545.8L176.5 550.4L180 553.2L183.5 555L187 556.5L190.6 557.5L194.1 558.3L197.6 559L201.1 559.5L204.6 559.8L208.2 560.1L211.7 560.4L215.2 560.6L218.7 560.8L222.3 561L225.8 561.1L229.3 561.2L232.8 561.3L236.3 561.4L239.9 561.5L243.4 561.6L246.9 561.7L250.4 561.8L253.9 561.8L257.5 561.9L261 562L263.2 562.1"/>
<path d="M162.7 490.5L163.2 506.7L163.7 520.3L164.3 529.8L164.8 537L165.3 543L165.9 547.2L166.4 549.6L166.9 551.2L167.5 552.6L168 553.8L168.5 554.8L169.1 555.5L169.6 556.1L170.1 556.6L170.7 557L172 557.9L173.3 558.6L174.7 559.1L176 559.5L177.4 559.7L178.7 560L180 560.2L181.4 560.4L182.7 560.5L184.1 560.6L185.4 560.7L186.8 560.8L188.1 560.9L189.4 560.9L190.8 561L192.1 561.1L193.5 561.1L194.8 561.2L196.1 561.2L197.5 561.2L198.8 561.3L200.2 561.3L201.5 561.4L202.9 561.4L204.2 561.4L205.5 561.4L206.9 561.5L208.2 561.5L209.6 561.5L210.9 561.5L212.2 561.6L213.6 561.6L214.9 561.6L216.3 561.6L217.6 561.6L219 561.6L220.3 561.7L221.6 561.7L223 561.7L224.3 561.7L225.7 561.7L227 561.7L228.4 561.7L229.7 561.7L231 561.7L232.4 561.8L233.7 561.8L235.1 561.8L236.4 561.8L237.7 561.8L239.1 561.8L240.4 561.8L241.8 561.8L243.1 561.9L244.5 561.9L245.8 561.9L247.1 561.9L248.5 561.9L249.8 561.9L251.2 561.9L252.5 562L253.8 562L255.2 562L256.5 562L257.9 562L259.2 562L260.6 562L261.9 562L263.2 562.1" fill="none" stroke="#0000ff" stroke-width="1.15" stroke-linejoin="round"/>
<path class="mDBO" d="M162.7 490.5L165.9 547.7L169.4 556L173 558.4L176.5 559.6L180 560.2L183.5 560.6L187 560.8L190.6 561L194.1 561.1L197.6 561.2L201.1 561.3L204.6 561.4L208.2 561.5L211.7 561.5L215.2 561.6L218.7 561.6L222.3 561.7L225.8 561.7L229.3 561.7L232.8 561.8L236.3 561.8L239.9 561.8L243.4 561.9L246.9 561.9L250.4 561.9L253.9 562L257.5 562L261 562L263.2 562.1"/>
<path d="M162.7 465.2L163.2 483.2L163.7 498.6L164.3 509.8L164.8 518.6L165.3 526L165.9 531.4L166.4 534.7L166.9 537.1L167.5 539.1L168 540.8L168.5 542.3L169.1 543.4L169.6 544.4L170.1 545.3L170.7 546.1L172 547.6L173.3 548.8L174.7 549.9L176 550.9L177.4 551.8L178.7 552.6L180 553.4L181.4 554L182.7 554.5L184.1 555L185.4 555.4L186.8 555.8L188.1 556.2L189.4 556.5L190.8 556.8L192.1 557.1L193.5 557.4L194.8 557.7L196.1 557.9L197.5 558.1L198.8 558.4L200.2 558.6L201.5 558.7L202.9 558.9L204.2 559L205.5 559.1L206.9 559.3L208.2 559.4L209.6 559.5L210.9 559.6L212.2 559.6L213.6 559.7L214.9 559.8L216.3 559.9L217.6 559.9L219 560L220.3 560.1L221.6 560.2L223 560.2L224.3 560.3L225.7 560.4L227 560.4L228.4 560.5L229.7 560.6L231 560.6L232.4 560.7L233.7 560.7L235.1 560.8L236.4 560.8L237.7 560.9L239.1 560.9L240.4 561L241.8 561L243.1 561.1L244.5 561.1L245.8 561.2L247.1 561.2L248.5 561.2L249.8 561.3L251.2 561.3L252.5 561.3L253.8 561.4L255.2 561.4L256.5 561.4L257.9 561.5L259.2 561.5L260.6 561.5L261.9 561.5L263.2 561.5" fill="none" stroke="#ff00ff" stroke-width="1.15" stroke-linejoin="round"/>
<path class="mTSO" d="M162.7 465.2L165.9 532L169.4 544.2L173 548.5L176.5 551.2L180 553.3L183.5 554.8L187 555.9L190.6 556.8L194.1 557.5L197.6 558.2L201.1 558.7L204.6 559.1L208.2 559.4L211.7 559.6L215.2 559.8L218.7 560L222.3 560.2L225.8 560.4L229.3 560.5L232.8 560.7L236.3 560.8L239.9 561L243.4 561.1L246.9 561.2L250.4 561.3L253.9 561.4L257.5 561.4L261 561.5L263.2 561.5"/>
<path d="M162.7 477.8L163.2 498.9L163.7 516.3L164.3 527.4L164.8 534.9L165.3 540.8L165.9 544.9L166.4 546.9L166.9 548.4L167.5 549.5L168 550.5L168.5 551.3L169.1 551.9L169.6 552.4L170.1 552.8L170.7 553.1L172 553.8L173.3 554.4L174.7 554.8L176 555.1L177.4 555.5L178.7 555.8L180 556L181.4 556.3L182.7 556.5L184.1 556.7L185.4 556.9L186.8 557L188.1 557.2L189.4 557.3L190.8 557.5L192.1 557.6L193.5 557.7L194.8 557.8L196.1 557.9L197.5 558.1L198.8 558.2L200.2 558.3L201.5 558.4L202.9 558.4L204.2 558.5L205.5 558.6L206.9 558.7L208.2 558.8L209.6 558.9L210.9 559L212.2 559.1L213.6 559.1L214.9 559.2L216.3 559.3L217.6 559.4L219 559.4L220.3 559.5L221.6 559.6L223 559.7L224.3 559.7L225.7 559.8L227 559.9L228.4 559.9L229.7 560L231 560L232.4 560.1L233.7 560.2L235.1 560.2L236.4 560.3L237.7 560.3L239.1 560.4L240.4 560.4L241.8 560.5L243.1 560.5L244.5 560.5L245.8 560.6L247.1 560.6L248.5 560.7L249.8 560.7L251.2 560.8L252.5 560.8L253.8 560.8L255.2 560.9L256.5 560.9L257.9 560.9L259.2 561L260.6 561L261.9 561L263.2 561" fill="none" stroke="#00ff00" stroke-width="1.15" stroke-linejoin="round" stroke-dasharray="3.2 2.4"/>
<path d="M162.7 470.2L163.2 481.4L163.7 490.5L164.3 496.3L164.8 500L165.3 502.8L165.9 504.9L166.4 506.2L166.9 507.2L167.5 508.1L168 508.9L168.5 509.5L169.1 510.1L169.6 510.5L170.1 510.9L170.7 511.3L172 512.1L173.3 512.8L174.7 513.3L176 513.8L177.4 514.2L178.7 514.5L180 514.8L181.4 515.1L182.7 515.3L184.1 515.5L185.4 515.7L186.8 516L188.1 516.1L189.4 516.3L190.8 516.5L192.1 516.7L193.5 516.8L194.8 517L196.1 517.1L197.5 517.3L198.8 517.4L200.2 517.5L201.5 517.7L202.9 517.8L204.2 517.9L205.5 518L206.9 518.1L208.2 518.2L209.6 518.3L210.9 518.4L212.2 518.5L213.6 518.5L214.9 518.6L216.3 518.6L217.6 518.6L219 518.7L220.3 518.7L221.6 518.7L223 518.8L224.3 518.8L225.7 518.9L227 519L228.4 519.1L229.7 522.9L231 530.7L232.4 532.7L233.7 534L235.1 535L236.4 535.9L237.7 536.9L239.1 537.9L240.4 538.8L241.8 539.7L243.1 540.5L244.5 541.3L245.8 542.1L247.1 542.9L248.5 543.7L249.8 544.3L251.2 544.8L252.5 545.2L253.8 545.5L255.2 545.7L256.5 545.9L257.9 546.1L259.2 546.3L260.6 546.5L261.9 546.8L263.2 547.1" fill="none" stroke="#00ffff" stroke-width="1.15" stroke-linejoin="round"/>
<path d="M162.7 490.5L163.2 495.3L163.7 499.4L164.3 502.3L164.8 504.5L165.3 506.2L165.9 507.6L166.4 508.7L166.9 509.6L167.5 510.4L168 511.1L168.5 511.7L169.1 512.3L169.6 512.9L170.1 513.4L170.7 514L172 515.5L173.3 516.9L174.7 518.3L176 519.6L177.4 520.9L178.7 522.2L180 523.3L181.4 524.5L182.7 525.5L184.1 526.6L185.4 527.7L186.8 528.9L188.1 530.2L189.4 531.5L190.8 532.9L192.1 534.3L193.5 535.7L194.8 537.2L196.1 538.7L197.5 540.4L198.8 542L200.2 543.6L201.5 545.1L202.9 546.6L204.2 548L205.5 549.4L206.9 550.8L208.2 552L209.6 553.1L210.9 554.1L212.2 555.1L213.6 556.1L214.9 556.9L216.3 557.6L217.6 558.2L219 558.7L220.3 559.2L221.6 559.6L223 560L224.3 560.3L225.7 560.6L227 560.8L228.4 561.1L229.7 561.3L231 561.5L232.4 561.6L233.7 561.8L235.1 561.9L236.4 562L237.7 562.1L239.1 562.2L240.4 562.3L241.8 562.4L243.1 562.4L244.5 562.5L245.8 562.6L247.1 562.6L248.5 562.7L249.8 562.8L251.2 562.8L252.5 562.9L253.8 562.9L255.2 563L256.5 563L257.9 563L259.2 563L260.6 563.1L261.9 563.1L263.2 563.1" fill="none" stroke="#0000ff" stroke-width="1.15" stroke-linejoin="round"/>
<path d="M162.6 465L163.1 479.2L163.7 487.5L164.2 491.1L164.7 493.8L165.3 495.6L165.8 496.8L166.3 497.3L166.9 497.7L167.4 498L167.9 498.2L168.5 498.4L169 498.6L169.5 498.8L170.1 499L170.6 499.3L172 499.8L173.3 500.3L174.7 500.8L176 501.2L177.4 501.7L178.7 502.3L180.1 502.9L181.4 503.5L182.8 504.2L184.1 504.8L185.5 505.5L186.8 506.1L188.2 506.7L189.6 507.3L190.9 507.8L192.3 508.3L193.6 508.9L195 509.4L196.3 509.9L197.7 510.5L199 511L200.4 511.5L201.7 512L203.1 512.6L204.4 513.2L205.8 514L207.1 514.8L208.5 515.7L209.9 516.7L211.2 517.7L212.6 518.7L213.9 519.8L215.3 520.8L216.6 521.9L218 523L219.3 524.1L220.7 525.1L222 526.3L223.4 527.4L224.7 528.5L226.1 529.5L227.5 530.6L228.8 531.6L230.2 532.6L231.5 533.5L232.9 534.5L234.2 535.4L235.6 536.3L236.9 537.3L238.3 538.2L239.6 539.2L241 540.2L242.3 541.2L243.7 542.3L245 543.2L246.4 544.1L247.8 544.9L249.1 545.5L250.5 546.2L251.8 546.7L253.2 547.3L254.5 547.8L255.9 548.2L257.2 548.7L258.6 549.2L259.9 549.7L261.3 550.1L262.6 550.6L264 551" fill="none" stroke="#ff00ff" stroke-width="1.15" stroke-linejoin="round"/>
<path d="M162.7 477.8L163.2 499.8L163.7 518.1L164.3 530.1L164.8 538.4L165.3 545.1L165.9 549.7L166.4 552.1L166.9 553.8L167.5 555.3L168 556.4L168.5 557.4L169.1 558.1L169.6 558.7L170.1 559.1L170.7 559.5L172 560.2L173.3 560.8L174.7 561.2L176 561.5L177.4 561.8L178.7 562L180 562.2L181.4 562.4L182.7 562.5L184.1 562.7L185.4 562.8L186.8 562.8L188.1 562.9L189.4 563L190.8 563L192.1 563.1L193.5 563.1L194.8 563.2L196.1 563.2L197.5 563.2L198.8 563.3L200.2 563.3L201.5 563.3L202.9 563.4L204.2 563.4L205.5 563.4L206.9 563.5L208.2 563.5L209.6 563.5L210.9 563.6L212.2 563.6L213.6 563.6L214.9 563.7L216.3 563.7L217.6 563.7L219 563.7L220.3 563.8L221.6 563.8L223 563.8L224.3 563.9L225.7 563.9L227 563.9L228.4 563.9L229.7 564L231 564L232.4 564L233.7 564L235.1 564.1L236.4 564.1L237.7 564.1L239.1 564.1L240.4 564.1L241.8 564.1L243.1 564.2L244.5 564.2L245.8 564.2L247.1 564.2L248.5 564.2L249.8 564.2L251.2 564.2L252.5 564.3L253.8 564.3L255.2 564.3L256.5 564.3L257.9 564.3L259.2 564.3L260.6 564.3L261.9 564.3L263.2 564.3" fill="none" stroke="#00ff00" stroke-width="1.15" stroke-linejoin="round"/>
</g>
<rect x="162.4" y="460.6" width="102.1" height="118.7" fill="none" stroke="#a6a6a6" stroke-width="0.6"/>
<path d="M162.4 579.3v-1.1M162.4 460.6v1.1M182.82 579.3v-1.1M182.82 460.6v1.1M203.24 579.3v-1.1M203.24 460.6v1.1M223.66 579.3v-1.1M223.66 460.6v1.1M244.08 579.3v-1.1M244.08 460.6v1.1M264.5 579.3v-1.1M264.5 460.6v1.1M162.4 460.6h1.1M264.5 460.6h-1.1M162.4 475.31h1.1M264.5 475.31h-1.1M162.4 490.27h1.1M264.5 490.27h-1.1M162.4 504.99h1.1M264.5 504.99h-1.1M162.4 519.95h1.1M264.5 519.95h-1.1M162.4 534.66h1.1M264.5 534.66h-1.1M162.4 549.62h1.1M264.5 549.62h-1.1M162.4 564.34h1.1M264.5 564.34h-1.1M162.4 579.3h1.1M264.5 579.3h-1.1" stroke="#a6a6a6" stroke-width="0.5" fill="none"/>
<text x="162.4" y="587.5" font-size="6.3" text-anchor="middle" fill="#1f1f1f">0</text>
<text x="182.82" y="587.5" font-size="6.3" text-anchor="middle" fill="#1f1f1f">100</text>
<text x="203.24" y="587.5" font-size="6.3" text-anchor="middle" fill="#1f1f1f">200</text>
<text x="223.66" y="587.5" font-size="6.3" text-anchor="middle" fill="#1f1f1f">300</text>
<text x="244.08" y="587.5" font-size="6.3" text-anchor="middle" fill="#1f1f1f">400</text>
<text x="264.5" y="587.5" font-size="6.3" text-anchor="middle" fill="#1f1f1f">500</text>
<text x="160.1" y="463.6" font-size="6.3" text-anchor="end" fill="#1f1f1f">1.8</text>
<text x="160.1" y="478.31" font-size="6.3" text-anchor="end" fill="#1f1f1f">1.6</text>
<text x="160.1" y="493.27" font-size="6.3" text-anchor="end" fill="#1f1f1f">1.4</text>
<text x="160.1" y="507.99" font-size="6.3" text-anchor="end" fill="#1f1f1f">1.2</text>
<text x="160.1" y="522.95" font-size="6.3" text-anchor="end" fill="#1f1f1f">1</text>
<text x="160.1" y="537.66" font-size="6.3" text-anchor="end" fill="#1f1f1f">0.8</text>
<text x="160.1" y="552.62" font-size="6.3" text-anchor="end" fill="#1f1f1f">0.6</text>
<text x="160.1" y="567.34" font-size="6.3" text-anchor="end" fill="#1f1f1f">0.4</text>
<text x="160.1" y="582.3" font-size="6.3" text-anchor="end" fill="#1f1f1f">0.2</text>
<text x="213.45" y="595.9" font-size="6.9" text-anchor="middle" fill="#1f1f1f">Iterations</text>
<text transform="translate(148.64 519.95) rotate(-90)" font-size="6.9" text-anchor="middle" fill="#1f1f1f">Fitness</text>
<text x="213.3" y="458.8" font-size="6.95" text-anchor="middle" fill="#1f1f1f" class="t">CEC2017 F26 Dim=100</text>
<text y="459.1" font-size="6.1" fill="#1f1f1f"><tspan x="163.1">×</tspan><tspan x="167.8">10</tspan><tspan x="174.4" dy="-2.6" font-size="4.9">4</tspan></text>
</g>
<g id="sp15">
<rect x="294.6" y="460.6" width="106.3" height="118.7" fill="#fff"/>
<path d="M315.86 460.6V579.3M337.12 460.6V579.3M358.38 460.6V579.3M379.64 460.6V579.3M294.6 475.31H400.9M294.6 490.27H400.9M294.6 504.99H400.9M294.6 519.95H400.9M294.6 534.66H400.9M294.6 549.62H400.9M294.6 564.34H400.9" stroke="#ececec" stroke-width="0.55" fill="none"/>
<g clip-path="url(#c15)">
<path d="M294.9 503.2L295.4 513.9L295.9 523.5L296.5 531.5L297 537.8L297.5 543.6L298.1 548.4L298.6 552.3L299.1 554.9L299.7 556.9L300.2 558.7L300.7 560.2L301.3 561.4L301.8 562.6L302.3 563.6L302.9 564.5L304.3 566.6L305.7 568.2L307.1 569L308.5 569.7L309.9 570.2L311.3 570.7L312.7 571L314.1 571.3L315.5 571.6L316.9 571.9L318.3 572.1L319.7 572.3L321.1 572.4L322.5 572.6L323.9 572.7L325.3 572.8L326.7 572.9L328.1 573L329.5 573L330.9 573.1L332.3 573.2L333.7 573.3L335.1 573.3L336.5 573.4L337.9 573.4L339.3 573.5L340.7 573.5L342.1 573.6L343.5 573.6L344.9 573.7L346.3 573.7L347.7 573.8L349.1 573.8L350.5 573.8L351.9 573.9L353.3 573.9L354.8 573.9L356.2 574L357.6 574L359 574L360.4 574L361.8 574.1L363.2 574.1L364.6 574.1L366 574.1L367.4 574.2L368.8 574.2L370.2 574.2L371.6 574.2L373 574.2L374.4 574.3L375.8 574.3L377.2 574.3L378.6 574.3L380 574.3L381.4 574.3L382.8 574.4L384.2 574.4L385.6 574.4L387 574.4L388.4 574.4L389.8 574.4L391.2 574.4L392.6 574.4L394 574.5L395.4 574.5L396.8 574.5L398.2 574.5L399.6 574.5" fill="none" stroke="#ff0000" stroke-width="1.15" stroke-linejoin="round"/>
<path class="mIMCOA" d="M294.9 503.2L298.3 550.1L301.9 562.8L305.6 568.1L309.3 570L312.9 571.1L316.6 571.8L320.3 572.4L323.9 572.7L327.6 572.9L331.3 573.1L334.9 573.3L338.6 573.5L342.3 573.6L345.9 573.7L349.6 573.8L353.2 573.9L356.9 574L360.6 574.1L364.2 574.1L367.9 574.2L371.6 574.2L375.2 574.3L378.9 574.3L382.6 574.4L386.2 574.4L389.9 574.4L393.6 574.5L397.2 574.5L399.6 574.5"/>
<path d="M294.9 505.7L295.4 510.9L295.9 515.6L296.5 519.8L297 523.4L297.5 526.8L298.1 529.9L298.6 532.5L299.1 534.4L299.7 536L300.2 537.4L300.7 538.6L301.3 539.7L301.8 540.6L302.3 541.4L302.9 542.1L304.3 543.6L305.7 544.8L307.1 545.8L308.5 546.7L309.9 547.5L311.3 548.3L312.7 549.1L314.1 549.8L315.5 550.6L316.9 551.4L318.3 552.1L319.7 552.8L321.1 553.4L322.5 554L323.9 554.5L325.3 555L326.7 555.5L328.1 556L329.5 556.4L330.9 556.9L332.3 557.3L333.7 557.7L335.1 558L336.5 558.4L337.9 558.7L339.3 559L340.7 559.4L342.1 559.7L343.5 560L344.9 560.3L346.3 560.6L347.7 560.9L349.1 561.1L350.5 561.4L351.9 561.6L353.3 561.8L354.8 562L356.2 562.3L357.6 562.5L359 562.6L360.4 562.8L361.8 563L363.2 563.2L364.6 563.3L366 563.5L367.4 563.6L368.8 563.8L370.2 563.9L371.6 564L373 564.1L374.4 564.3L375.8 564.4L377.2 564.5L378.6 564.6L380 564.7L381.4 564.8L382.8 564.9L384.2 565L385.6 565.1L387 565.2L388.4 565.3L389.8 565.4L391.2 565.5L392.6 565.6L394 565.7L395.4 565.8L396.8 565.9L398.2 566L399.6 566.1" fill="none" stroke="#00ffff" stroke-width="1.15" stroke-linejoin="round"/>
<path class="mCOA" d="M294.9 505.7L298.3 531L301.9 540.9L305.6 544.8L309.3 547.2L312.9 549.2L316.6 551.2L320.3 553L323.9 554.5L327.6 555.8L331.3 557L334.9 558L338.6 558.9L342.3 559.7L345.9 560.5L349.6 561.2L353.2 561.8L356.9 562.4L360.6 562.9L364.2 563.3L367.9 563.7L371.6 564L375.2 564.3L378.9 564.6L382.6 564.9L386.2 565.2L389.9 565.4L393.6 565.7L397.2 566L399.6 566.1"/>
<path d="M294.9 477.8L295.4 490.6L295.9 501.6L296.5 509.3L297 513.2L297.5 515.8L298.1 517.8L298.6 519.7L299.1 521.9L299.7 524.5L300.2 527.1L300.7 529.7L301.3 532L301.8 533.9L302.3 535.2L302.9 536.2L304.3 538.2L305.7 539.7L307.1 540.9L308.5 541.9L309.9 542.7L311.3 543.4L312.7 543.9L314.1 544.3L315.5 544.7L316.9 545.1L318.3 545.3L319.7 545.6L321.1 545.8L322.5 546L323.9 546.2L325.3 546.3L326.7 546.5L328.1 546.6L329.5 546.7L330.9 546.8L332.3 547L333.7 547.1L335.1 547.2L336.5 547.3L337.9 547.4L339.3 547.6L340.7 547.7L342.1 547.8L343.5 547.9L344.9 548L346.3 548.1L347.7 548.2L349.1 548.3L350.5 548.4L351.9 548.4L353.3 548.5L354.8 548.6L356.2 548.7L357.6 548.8L359 548.9L360.4 548.9L361.8 549L363.2 549.2L364.6 549.3L366 549.4L367.4 549.5L368.8 549.6L370.2 549.7L371.6 549.9L373 550L374.4 550.1L375.8 550.3L377.2 550.5L378.6 550.7L380 550.8L381.4 551L382.8 551.2L384.2 551.4L385.6 551.5L387 551.7L388.4 551.9L389.8 552.1L391.2 552.3L392.6 552.5L394 552.7L395.4 552.8L396.8 553L398.2 553.2L399.6 553.4" fill="none" stroke="#0000ff" stroke-width="1.15" stroke-linejoin="round"/>
<path class="mDBO" d="M294.9 477.8L298.3 518.5L301.9 534.3L305.6 539.6L309.3 542.4L312.9 544L316.6 545L320.3 545.7L323.9 546.2L327.6 546.5L331.3 546.9L334.9 547.2L338.6 547.5L342.3 547.8L345.9 548.1L349.6 548.3L353.2 548.5L356.9 548.7L360.6 549L364.2 549.2L367.9 549.5L371.6 549.9L375.2 550.2L378.9 550.7L382.6 551.2L386.2 551.6L389.9 552.1L393.6 552.6L397.2 553.1L399.6 553.4"/>
<path d="M294.9 469L295.4 484.4L295.9 497.9L296.5 508.3L297 515.4L297.5 521.3L298.1 526.1L298.6 529.7L299.1 531.9L299.7 533.6L300.2 534.9L300.7 536L301.3 537L301.8 538L302.3 539L302.9 540L304.3 542.4L305.7 544.6L307.1 546.5L308.5 548.4L309.9 550.1L311.3 551.6L312.7 553L314.1 554.3L315.5 555.5L316.9 556.5L318.3 557.5L319.7 558.4L321.1 559.1L322.5 559.8L323.9 560.5L325.3 561.1L326.7 561.7L328.1 562.3L329.5 562.9L330.9 563.5L332.3 564L333.7 564.5L335.1 565L336.5 565.4L337.9 565.8L339.3 566.2L340.7 566.6L342.1 566.9L343.5 567.3L344.9 567.6L346.3 567.9L347.7 568.1L349.1 568.3L350.5 568.6L351.9 568.8L353.3 569L354.8 569.2L356.2 569.3L357.6 569.5L359 569.6L360.4 569.8L361.8 569.9L363.2 570L364.6 570.2L366 570.3L367.4 570.4L368.8 570.5L370.2 570.6L371.6 570.7L373 570.7L374.4 570.8L375.8 570.9L377.2 570.9L378.6 571L380 571L381.4 571.1L382.8 571.1L384.2 571.2L385.6 571.2L387 571.3L388.4 571.3L389.8 571.4L391.2 571.4L392.6 571.5L394 571.5L395.4 571.6L396.8 571.6L398.2 571.6L399.6 571.7" fill="none" stroke="#ff00ff" stroke-width="1.15" stroke-linejoin="round"/>
<path class="mTSO" d="M294.9 469L298.3 527.7L301.9 538.2L305.6 544.5L309.3 549.4L312.9 553.2L316.6 556.3L320.3 558.7L323.9 560.5L327.6 562.1L331.3 563.6L334.9 564.9L338.6 566L342.3 567L345.9 567.8L349.6 568.4L353.2 569L356.9 569.4L360.6 569.8L364.2 570.1L367.9 570.4L371.6 570.7L375.2 570.8L378.9 571L382.6 571.1L386.2 571.2L389.9 571.4L393.6 571.5L397.2 571.6L399.6 571.7"/>
<path d="M294.9 480.4L295.4 499.6L295.9 516.1L296.5 528.4L297 535.9L297.5 541.9L298.1 546.7L298.6 550.1L299.1 552.1L299.7 553.6L300.2 554.8L300.7 555.8L301.3 556.6L301.8 557.3L302.3 557.9L302.9 558.4L304.3 559.4L305.7 560.1L307.1 560.7L308.5 561.1L309.9 561.5L311.3 561.8L312.7 562.1L314.1 562.4L315.5 562.7L316.9 562.9L318.3 563.2L319.7 563.4L321.1 563.6L322.5 563.7L323.9 563.9L325.3 564L326.7 564.1L328.1 564.2L329.5 564.3L330.9 564.4L332.3 564.5L333.7 564.6L335.1 564.7L336.5 564.9L337.9 565L339.3 565.1L340.7 565.2L342.1 565.3L343.5 565.4L344.9 565.6L346.3 565.7L347.7 565.8L349.1 565.9L350.5 566L351.9 566.1L353.3 566.2L354.8 566.4L356.2 566.5L357.6 566.6L359 566.6L360.4 566.7L361.8 566.8L363.2 566.9L364.6 567L366 567.1L367.4 567.3L368.8 567.4L370.2 567.5L371.6 567.6L373 567.8L374.4 567.9L375.8 568.1L377.2 568.2L378.6 568.4L380 568.6L381.4 568.8L382.8 569L384.2 569.1L385.6 569.3L387 569.4L388.4 569.6L389.8 569.7L391.2 569.9L392.6 570L394 570.2L395.4 570.3L396.8 570.4L398.2 570.5L399.6 570.7" fill="none" stroke="#00ff00" stroke-width="1.15" stroke-linejoin="round" stroke-dasharray="3.2 2.4"/>
<path d="M294.9 505.7L295.4 512.4L295.9 518.2L296.5 522.5L297 525.3L297.5 527.6L298.1 529.5L298.6 530.7L299.1 531.3L299.7 531.6L300.2 531.8L300.7 532L301.3 532.2L301.8 532.3L302.3 532.4L302.9 532.5L304.3 532.7L305.7 532.9L307.1 533L308.5 533.2L309.9 533.3L311.3 533.4L312.7 533.4L314.1 533.5L315.5 533.6L316.9 533.7L318.3 533.8L319.7 533.9L321.1 534L322.5 534L323.9 534.1L325.3 534.2L326.7 534.3L328.1 534.3L329.5 534.4L330.9 534.5L332.3 534.6L333.7 534.7L335.1 534.7L336.5 534.8L337.9 534.9L339.3 535L340.7 535.1L342.1 535.2L343.5 535.2L344.9 535.3L346.3 535.4L347.7 535.5L349.1 535.6L350.5 535.6L351.9 535.7L353.3 535.7L354.8 535.8L356.2 535.8L357.6 535.8L359 535.9L360.4 535.9L361.8 536L363.2 536.1L364.6 537.4L366 541.8L367.4 545L368.8 547.4L370.2 549.5L371.6 551.2L373 552.5L374.4 553.6L375.8 554.5L377.2 555.4L378.6 556.1L380 556.7L381.4 557.3L382.8 557.9L384.2 558.4L385.6 558.8L387 559.2L388.4 559.6L389.8 559.8L391.2 560.1L392.6 560.3L394 560.5L395.4 560.7L396.8 560.9L398.2 561L399.6 561" fill="none" stroke="#00ffff" stroke-width="1.15" stroke-linejoin="round"/>
<path d="M294.9 505.7L295.4 507.9L295.9 509.8L296.5 511.1L297 511.7L297.5 512.2L298.1 512.6L298.6 512.9L299.1 513.2L299.7 513.4L300.2 513.5L300.7 513.6L301.3 513.7L301.8 513.8L302.3 513.9L302.9 514L304.3 514.1L305.7 514.3L307.1 514.5L308.5 514.7L309.9 514.9L311.3 515L312.7 515.2L314.1 515.5L315.5 515.7L316.9 516.1L318.3 516.4L319.7 516.8L321.1 517.1L322.5 517.5L323.9 517.9L325.3 518.3L326.7 518.8L328.1 519.4L329.5 520.1L330.9 520.9L332.3 522L333.7 523.4L335.1 525.1L336.5 527.5L337.9 530.3L339.3 533.4L340.7 537.6L342.1 542.1L343.5 546.2L344.9 550.2L346.3 553.6L347.7 556.2L349.1 558.5L350.5 560.4L351.9 562L353.3 563.4L354.8 564.8L356.2 566L357.6 567L359 567.8L360.4 568.4L361.8 569L363.2 569.5L364.6 570L366 570.4L367.4 570.8L368.8 571.1L370.2 571.4L371.6 571.7L373 571.9L374.4 572.1L375.8 572.2L377.2 572.4L378.6 572.5L380 572.7L381.4 572.8L382.8 572.9L384.2 572.9L385.6 573L387 573.1L388.4 573.2L389.8 573.2L391.2 573.3L392.6 573.3L394 573.4L395.4 573.4L396.8 573.4L398.2 573.5L399.6 573.5" fill="none" stroke="#0000ff" stroke-width="1.15" stroke-linejoin="round"/>
<path d="M294.9 469L295.4 488.3L295.9 504.9L296.5 516.2L297 521.9L297.5 526.2L298.1 529.4L298.6 531.6L299.1 532.8L299.7 533.7L300.2 534.4L300.7 534.9L301.3 535.4L301.8 535.8L302.3 536.3L302.9 536.7L304.3 537.7L305.7 538.5L307.1 539.3L308.5 540L309.9 540.6L311.3 541.2L312.7 541.8L314.1 542.4L315.5 543L316.9 543.6L318.3 544.2L319.7 544.8L321.1 545.5L322.5 546.1L323.9 546.6L325.3 547.2L326.7 547.8L328.1 548.3L329.5 548.9L330.9 549.4L332.3 549.9L333.7 550.5L335.1 551L336.5 551.5L337.9 551.9L339.3 552.4L340.7 552.9L342.1 553.4L343.5 553.8L344.9 554.2L346.3 554.7L347.7 555L349.1 555.4L350.5 555.7L351.9 556L353.3 556.4L354.8 556.7L356.2 557L357.6 557.3L359 557.7L360.4 558.1L361.8 558.5L363.2 558.9L364.6 559.4L366 559.8L367.4 560.2L368.8 560.7L370.2 561.1L371.6 561.5L373 561.9L374.4 562.2L375.8 562.6L377.2 562.9L378.6 563.2L380 563.6L381.4 563.9L382.8 564.2L384.2 564.5L385.6 564.9L387 565.2L388.4 565.5L389.8 565.8L391.2 566.1L392.6 566.4L394 566.7L395.4 567L396.8 567.3L398.2 567.6L399.6 567.9" fill="none" stroke="#ff00ff" stroke-width="1.15" stroke-linejoin="round"/>
<path d="M294.9 475.3L295.4 495.8L295.9 513.5L296.5 526L297 532.9L297.5 538.3L298.1 542.4L298.6 545.2L299.1 546.9L299.7 548.1L300.2 549L300.7 549.8L301.3 550.4L301.8 551L302.3 551.5L302.9 552L304.3 553.2L305.7 554.2L307.1 555.3L308.5 556.5L309.9 557.8L311.3 559.3L312.7 560.8L314.1 562.2L315.5 563.2L316.9 564.1L318.3 564.8L319.7 565.5L321.1 566.1L322.5 566.6L323.9 567.1L325.3 567.5L326.7 567.9L328.1 568.2L329.5 568.6L330.9 568.9L332.3 569.2L333.7 569.5L335.1 569.8L336.5 570.1L337.9 570.3L339.3 570.5L340.7 570.7L342.1 570.8L343.5 571L344.9 571.1L346.3 571.3L347.7 571.4L349.1 571.5L350.5 571.6L351.9 571.7L353.3 571.8L354.8 571.9L356.2 572.1L357.6 572.2L359 572.3L360.4 572.4L361.8 572.5L363.2 572.5L364.6 572.6L366 572.7L367.4 572.8L368.8 572.8L370.2 572.9L371.6 573L373 573L374.4 573L375.8 573.1L377.2 573.1L378.6 573.1L380 573.2L381.4 573.2L382.8 573.3L384.2 573.3L385.6 573.3L387 573.3L388.4 573.4L389.8 573.4L391.2 573.4L392.6 573.4L394 573.4L395.4 573.5L396.8 573.5L398.2 573.5L399.6 573.5" fill="none" stroke="#00ff00" stroke-width="1.15" stroke-linejoin="round"/>
</g>
<rect x="294.6" y="460.6" width="106.3" height="118.7" fill="none" stroke="#a6a6a6" stroke-width="0.6"/>
<path d="M294.6 579.3v-1.1M294.6 460.6v1.1M315.86 579.3v-1.1M315.86 460.6v1.1M337.12 579.3v-1.1M337.12 460.6v1.1M358.38 579.3v-1.1M358.38 460.6v1.1M379.64 579.3v-1.1M379.64 460.6v1.1M400.9 579.3v-1.1M400.9 460.6v1.1M294.6 460.6h1.1M400.9 460.6h-1.1M294.6 475.31h1.1M400.9 475.31h-1.1M294.6 490.27h1.1M400.9 490.27h-1.1M294.6 504.99h1.1M400.9 504.99h-1.1M294.6 519.95h1.1M400.9 519.95h-1.1M294.6 534.66h1.1M400.9 534.66h-1.1M294.6 549.62h1.1M400.9 549.62h-1.1M294.6 564.34h1.1M400.9 564.34h-1.1M294.6 579.3h1.1M400.9 579.3h-1.1" stroke="#a6a6a6" stroke-width="0.5" fill="none"/>
<text x="294.6" y="587.5" font-size="6.3" text-anchor="middle" fill="#1f1f1f">0</text>
<text x="315.86" y="587.5" font-size="6.3" text-anchor="middle" fill="#1f1f1f">100</text>
<text x="337.12" y="587.5" font-size="6.3" text-anchor="middle" fill="#1f1f1f">200</text>
<text x="358.38" y="587.5" font-size="6.3" text-anchor="middle" fill="#1f1f1f">300</text>
<text x="379.64" y="587.5" font-size="6.3" text-anchor="middle" fill="#1f1f1f">400</text>
<text x="400.9" y="587.5" font-size="6.3" text-anchor="middle" fill="#1f1f1f">500</text>
<text x="292.3" y="463.6" font-size="6.3" text-anchor="end" fill="#1f1f1f">8</text>
<text x="292.3" y="478.31" font-size="6.3" text-anchor="end" fill="#1f1f1f">7</text>
<text x="292.3" y="493.27" font-size="6.3" text-anchor="end" fill="#1f1f1f">6</text>
<text x="292.3" y="507.99" font-size="6.3" text-anchor="end" fill="#1f1f1f">5</text>
<text x="292.3" y="522.95" font-size="6.3" text-anchor="end" fill="#1f1f1f">4</text>
<text x="292.3" y="537.66" font-size="6.3" text-anchor="end" fill="#1f1f1f">3</text>
<text x="292.3" y="552.62" font-size="6.3" text-anchor="end" fill="#1f1f1f">2</text>
<text x="292.3" y="567.34" font-size="6.3" text-anchor="end" fill="#1f1f1f">1</text>
<text x="292.3" y="582.3" font-size="6.3" text-anchor="end" fill="#1f1f1f">0</text>
<text x="347.75" y="595.9" font-size="6.9" text-anchor="middle" fill="#1f1f1f">Iterations</text>
<text transform="translate(286.1 519.95) rotate(-90)" font-size="6.9" text-anchor="middle" fill="#1f1f1f">Fitness</text>
<text x="347.6" y="458.8" font-size="6.95" text-anchor="middle" fill="#1f1f1f" class="t">CEC2017 F27 Dim=100</text>
<text y="459.1" font-size="6.1" fill="#1f1f1f"><tspan x="295.3">×</tspan><tspan x="300">10</tspan><tspan x="306.6" dy="-2.6" font-size="4.9">4</tspan></text>
</g>
<g id="sp16">
<rect x="433.8" y="460.6" width="102.6" height="118.7" fill="#fff"/>
<path d="M454.32 460.6V579.3M474.84 460.6V579.3M495.36 460.6V579.3M515.88 460.6V579.3M433.8 484.19H536.4M433.8 508.03H536.4M433.8 531.62H536.4M433.8 555.46H536.4" stroke="#ececec" stroke-width="0.55" fill="none"/>
<g clip-path="url(#c16)">
<path d="M433.8 509L434.3 524.5L434.9 539.7L435.4 553.5L435.9 565.1L436.5 573.6L437 578L437.5 578.5L438.1 578.5L438.6 578.6L439.1 578.7L439.7 578.7L440.2 578.7L440.7 578.8L441.3 578.8L441.8 578.8L443.2 578.8L444.5 578.8L445.9 578.8L447.3 578.8L448.7 578.8L450 578.8L451.4 578.8L452.8 578.8L454.1 578.8L455.5 578.8L456.9 578.8L458.3 578.8L459.6 578.8L461 578.8L462.4 578.8L463.7 578.8L465.1 578.8L466.5 578.8L467.8 578.8L469.2 578.8L470.6 578.8L472 578.8L473.3 578.8L474.7 578.8L476.1 578.8L477.4 578.8L478.8 578.8L480.2 578.8L481.6 578.8L482.9 578.8L484.3 578.8L485.7 578.8L487 578.8L488.4 578.8L489.8 578.8L491.2 578.8L492.5 578.8L493.9 578.8L495.3 578.8L496.6 578.8L498 578.8L499.4 578.8L500.8 578.8L502.1 578.8L503.5 578.8L504.9 578.8L506.2 578.8L507.6 578.8L509 578.8L510.4 578.8L511.7 578.8L513.1 578.8L514.5 578.8L515.8 578.8L517.2 578.8L518.6 578.8L519.9 578.8L521.3 578.8L522.7 578.8L524.1 578.8L525.4 578.8L526.8 578.8L528.2 578.8L529.5 578.8L530.9 578.8L532.3 578.8L533.7 578.8L535 578.8L536.4 578.8" fill="none" stroke="#ff0000" stroke-width="1.15" stroke-linejoin="round"/>
<path class="mIMCOA" d="M433.8 509L437.3 578.4L440.9 578.8L444.4 578.8L448 578.8L451.5 578.8L455 578.8L458.6 578.8L462.1 578.8L465.6 578.8L469.2 578.8L472.7 578.8L476.3 578.8L479.8 578.8L483.3 578.8L486.9 578.8L490.4 578.8L493.9 578.8L497.5 578.8L501 578.8L504.6 578.8L508.1 578.8L511.6 578.8L515.2 578.8L518.7 578.8L522.2 578.8L525.8 578.8L529.3 578.8L532.9 578.8L536.4 578.8"/>
<path d="M433.8 529L434.3 540L434.9 550.7L435.4 560.4L435.9 568.7L436.5 574.6L437 577.7L437.5 578L438.1 578.1L438.6 578.1L439.1 578.1L439.7 578.2L440.2 578.2L440.7 578.2L441.3 578.2L441.8 578.2L443.2 578.2L444.5 578.2L445.9 578.2L447.3 578.2L448.7 578.2L450 578.2L451.4 578.2L452.8 578.2L454.1 578.2L455.5 578.2L456.9 578.2L458.3 578.2L459.6 578.2L461 578.2L462.4 578.2L463.7 578.2L465.1 578.2L466.5 578.2L467.8 578.2L469.2 578.2L470.6 578.2L472 578.2L473.3 578.2L474.7 578.2L476.1 578.2L477.4 578.2L478.8 578.2L480.2 578.2L481.6 578.2L482.9 578.2L484.3 578.2L485.7 578.2L487 578.2L488.4 578.2L489.8 578.2L491.2 578.2L492.5 578.2L493.9 578.2L495.3 578.2L496.6 578.2L498 578.2L499.4 578.2L500.8 578.2L502.1 578.2L503.5 578.2L504.9 578.2L506.2 578.2L507.6 578.2L509 578.2L510.4 578.2L511.7 578.2L513.1 578.2L514.5 578.2L515.8 578.2L517.2 578.2L518.6 578.2L519.9 578.2L521.3 578.2L522.7 578.2L524.1 578.2L525.4 578.2L526.8 578.2L528.2 578.2L529.5 578.2L530.9 578.2L532.3 578.2L533.7 578.2L535 578.2L536.4 578.2" fill="none" stroke="#00ffff" stroke-width="1.15" stroke-linejoin="round"/>
<path class="mCOA" d="M433.8 529L437.3 578L440.9 578.2L444.4 578.2L448 578.2L451.5 578.2L455 578.2L458.6 578.2L462.1 578.2L465.6 578.2L469.2 578.2L472.7 578.2L476.3 578.2L479.8 578.2L483.3 578.2L486.9 578.2L490.4 578.2L493.9 578.2L497.5 578.2L501 578.2L504.6 578.2L508.1 578.2L511.6 578.2L515.2 578.2L518.7 578.2L522.2 578.2L525.8 578.2L529.3 578.2L532.9 578.2L536.4 578.2"/>
<path d="M433.8 534L434.3 543.7L434.9 553.3L435.4 562L435.9 569.3L436.5 574.6L437 577.4L437.5 577.6L438.1 577.7L438.6 577.7L439.1 577.7L439.7 577.8L440.2 577.8L440.7 577.8L441.3 577.8L441.8 577.8L443.2 577.8L444.5 577.8L445.9 577.8L447.3 577.8L448.7 577.8L450 577.8L451.4 577.8L452.8 577.8L454.1 577.8L455.5 577.8L456.9 577.8L458.3 577.8L459.6 577.8L461 577.8L462.4 577.8L463.7 577.8L465.1 577.8L466.5 577.8L467.8 577.8L469.2 577.8L470.6 577.8L472 577.8L473.3 577.8L474.7 577.8L476.1 577.8L477.4 577.8L478.8 577.8L480.2 577.8L481.6 577.8L482.9 577.8L484.3 577.8L485.7 577.8L487 577.8L488.4 577.8L489.8 577.8L491.2 577.8L492.5 577.8L493.9 577.8L495.3 577.8L496.6 577.8L498 577.8L499.4 577.8L500.8 577.8L502.1 577.8L503.5 577.8L504.9 577.8L506.2 577.8L507.6 577.8L509 577.8L510.4 577.8L511.7 577.8L513.1 577.8L514.5 577.8L515.8 577.8L517.2 577.8L518.6 577.8L519.9 577.8L521.3 577.8L522.7 577.8L524.1 577.8L525.4 577.8L526.8 577.8L528.2 577.8L529.5 577.8L530.9 577.8L532.3 577.8L533.7 577.8L535 577.8L536.4 577.8" fill="none" stroke="#0000ff" stroke-width="1.15" stroke-linejoin="round"/>
<path class="mDBO" d="M433.8 534L437.3 577.6L440.9 577.8L444.4 577.8L448 577.8L451.5 577.8L455 577.8L458.6 577.8L462.1 577.8L465.6 577.8L469.2 577.8L472.7 577.8L476.3 577.8L479.8 577.8L483.3 577.8L486.9 577.8L490.4 577.8L493.9 577.8L497.5 577.8L501 577.8L504.6 577.8L508.1 577.8L511.6 577.8L515.2 577.8L518.7 577.8L522.2 577.8L525.8 577.8L529.3 577.8L532.9 577.8L536.4 577.8"/>
<path d="M433.8 484L434.3 504.1L434.9 523.8L435.4 541.8L435.9 557.3L436.5 569.2L437 576.4L437.5 578.2L438.1 578.3L438.6 578.3L439.1 578.3L439.7 578.4L440.2 578.4L440.7 578.4L441.3 578.4L441.8 578.4L443.2 578.4L444.5 578.4L445.9 578.4L447.3 578.4L448.7 578.4L450 578.4L451.4 578.4L452.8 578.4L454.1 578.4L455.5 578.4L456.9 578.4L458.3 578.4L459.6 578.4L461 578.4L462.4 578.4L463.7 578.4L465.1 578.4L466.5 578.4L467.8 578.4L469.2 578.4L470.6 578.4L472 578.4L473.3 578.4L474.7 578.4L476.1 578.4L477.4 578.4L478.8 578.4L480.2 578.4L481.6 578.4L482.9 578.4L484.3 578.4L485.7 578.4L487 578.4L488.4 578.4L489.8 578.4L491.2 578.4L492.5 578.4L493.9 578.4L495.3 578.4L496.6 578.4L498 578.4L499.4 578.4L500.8 578.4L502.1 578.4L503.5 578.4L504.9 578.4L506.2 578.4L507.6 578.4L509 578.4L510.4 578.4L511.7 578.4L513.1 578.4L514.5 578.4L515.8 578.4L517.2 578.4L518.6 578.4L519.9 578.4L521.3 578.4L522.7 578.4L524.1 578.4L525.4 578.4L526.8 578.4L528.2 578.4L529.5 578.4L530.9 578.4L532.3 578.4L533.7 578.4L535 578.4L536.4 578.4" fill="none" stroke="#ff00ff" stroke-width="1.15" stroke-linejoin="round"/>
<path class="mTSO" d="M433.8 484L437.3 578.2L440.9 578.4L444.4 578.4L448 578.4L451.5 578.4L455 578.4L458.6 578.4L462.1 578.4L465.6 578.4L469.2 578.4L472.7 578.4L476.3 578.4L479.8 578.4L483.3 578.4L486.9 578.4L490.4 578.4L493.9 578.4L497.5 578.4L501 578.4L504.6 578.4L508.1 578.4L511.6 578.4L515.2 578.4L518.7 578.4L522.2 578.4L525.8 578.4L529.3 578.4L532.9 578.4L536.4 578.4"/>
<path d="M433.8 497L434.3 515.2L434.9 532.9L435.4 549.1L435.9 562.7L436.5 572.6L437 577.7L437.5 578.2L438.1 578.3L438.6 578.3L439.1 578.3L439.7 578.4L440.2 578.4L440.7 578.4L441.3 578.4L441.8 578.4L443.2 578.4L444.5 578.4L445.9 578.4L447.3 578.4L448.7 578.4L450 578.4L451.4 578.4L452.8 578.4L454.1 578.4L455.5 578.4L456.9 578.4L458.3 578.4L459.6 578.4L461 578.4L462.4 578.4L463.7 578.4L465.1 578.4L466.5 578.4L467.8 578.4L469.2 578.4L470.6 578.4L472 578.4L473.3 578.4L474.7 578.4L476.1 578.4L477.4 578.4L478.8 578.4L480.2 578.4L481.6 578.4L482.9 578.4L484.3 578.4L485.7 578.4L487 578.4L488.4 578.4L489.8 578.4L491.2 578.4L492.5 578.4L493.9 578.4L495.3 578.4L496.6 578.4L498 578.4L499.4 578.4L500.8 578.4L502.1 578.4L503.5 578.4L504.9 578.4L506.2 578.4L507.6 578.4L509 578.4L510.4 578.4L511.7 578.4L513.1 578.4L514.5 578.4L515.8 578.4L517.2 578.4L518.6 578.4L519.9 578.4L521.3 578.4L522.7 578.4L524.1 578.4L525.4 578.4L526.8 578.4L528.2 578.4L529.5 578.4L530.9 578.4L532.3 578.4L533.7 578.4L535 578.4L536.4 578.4" fill="none" stroke="#00ff00" stroke-width="1.15" stroke-linejoin="round" stroke-dasharray="3.2 2.4"/>
<path d="M433.8 529L434.3 539.9L434.9 550.6L435.4 560.3L435.9 568.5L436.5 574.4L437 577.5L437.5 577.8L438.1 577.9L438.6 577.9L439.1 577.9L439.7 578L440.2 578L440.7 578L441.3 578L441.8 578L443.2 578L444.5 578L445.9 578L447.3 578L448.7 578L450 578L451.4 578L452.8 578L454.1 578L455.5 578L456.9 578L458.3 578L459.6 578L461 578L462.4 578L463.7 578L465.1 578L466.5 578L467.8 578L469.2 578L470.6 578L472 578L473.3 578L474.7 578L476.1 578L477.4 578L478.8 578L480.2 578L481.6 578L482.9 578L484.3 578L485.7 578L487 578L488.4 578L489.8 578L491.2 578L492.5 578L493.9 578L495.3 578L496.6 578L498 578L499.4 578L500.8 578L502.1 578L503.5 578L504.9 578L506.2 578L507.6 578L509 578L510.4 578L511.7 578L513.1 578L514.5 578L515.8 578L517.2 578L518.6 578L519.9 578L521.3 578L522.7 578L524.1 578L525.4 578L526.8 578L528.2 578L529.5 578L530.9 578L532.3 578L533.7 578L535 578L536.4 578" fill="none" stroke="#00ffff" stroke-width="1.15" stroke-linejoin="round"/>
<path d="M433.8 534L434.3 551.8L434.9 561.4L435.4 564.4L435.9 566.6L436.5 568.2L437 569.3L437.5 569.9L438.1 570.4L438.6 570.7L439.1 571L439.7 571.2L440.2 571.4L440.7 571.6L441.3 571.7L441.8 571.9L443.2 572.5L444.5 573L445.9 573.6L447.3 574.1L448.7 574.6L450 575L451.4 575.4L452.8 575.8L454.1 576.2L455.5 576.5L456.9 576.8L458.3 577L459.6 577.3L461 577.5L462.4 577.6L463.7 577.8L465.1 578L466.5 578.2L467.8 578.3L469.2 578.4L470.6 578.4L472 578.4L473.3 578.4L474.7 578.5L476.1 578.5L477.4 578.5L478.8 578.5L480.2 578.5L481.6 578.5L482.9 578.6L484.3 578.6L485.7 578.6L487 578.6L488.4 578.6L489.8 578.6L491.2 578.6L492.5 578.7L493.9 578.7L495.3 578.7L496.6 578.7L498 578.7L499.4 578.7L500.8 578.7L502.1 578.7L503.5 578.7L504.9 578.7L506.2 578.7L507.6 578.7L509 578.8L510.4 578.8L511.7 578.8L513.1 578.8L514.5 578.8L515.8 578.8L517.2 578.8L518.6 578.8L519.9 578.8L521.3 578.8L522.7 578.8L524.1 578.8L525.4 578.8L526.8 578.8L528.2 578.8L529.5 578.8L530.9 578.8L532.3 578.8L533.7 578.8L535 578.8L536.4 578.8" fill="none" stroke="#0000ff" stroke-width="1.15" stroke-linejoin="round"/>
<path d="M433.8 484L434.3 501.6L434.9 520.1L435.4 538.1L435.9 554L436.5 566.7L437 574.6L437.5 576.6L438.1 576.7L438.6 576.8L439.1 576.9L439.7 577L440.2 577L440.7 577.1L441.3 577.1L441.8 577.2L443.2 577.3L444.5 577.4L445.9 577.4L447.3 577.5L448.7 577.5L450 577.6L451.4 577.7L452.8 577.7L454.1 577.8L455.5 577.9L456.9 578L458.3 578L459.6 578.1L461 578.1L462.4 578.2L463.7 578.3L465.1 578.3L466.5 578.3L467.8 578.4L469.2 578.4L470.6 578.4L472 578.4L473.3 578.4L474.7 578.5L476.1 578.5L477.4 578.5L478.8 578.5L480.2 578.5L481.6 578.5L482.9 578.5L484.3 578.6L485.7 578.6L487 578.6L488.4 578.6L489.8 578.6L491.2 578.6L492.5 578.6L493.9 578.6L495.3 578.6L496.6 578.7L498 578.7L499.4 578.7L500.8 578.7L502.1 578.7L503.5 578.7L504.9 578.7L506.2 578.7L507.6 578.7L509 578.7L510.4 578.7L511.7 578.7L513.1 578.8L514.5 578.8L515.8 578.8L517.2 578.8L518.6 578.8L519.9 578.8L521.3 578.8L522.7 578.8L524.1 578.8L525.4 578.8L526.8 578.8L528.2 578.8L529.5 578.8L530.9 578.8L532.3 578.8L533.7 578.8L535 578.8L536.4 578.8" fill="none" stroke="#ff00ff" stroke-width="1.15" stroke-linejoin="round"/>
<path d="M433.8 494L434.3 512.1L434.9 529.7L435.4 545.9L435.9 559.8L436.5 570.5L437 577L437.5 578.6L438.1 578.7L438.6 578.8L439.1 578.8L439.7 578.9L440.2 578.9L440.7 579L441.3 579L441.8 579L443.2 579L444.5 579L445.9 579L447.3 579L448.7 579L450 579L451.4 579L452.8 579L454.1 579L455.5 579L456.9 579L458.3 579L459.6 579L461 579L462.4 579L463.7 579L465.1 579L466.5 579L467.8 579L469.2 579L470.6 579L472 579L473.3 579L474.7 579L476.1 579L477.4 579L478.8 579L480.2 579L481.6 579L482.9 579L484.3 579L485.7 579L487 579L488.4 579L489.8 579L491.2 579L492.5 579L493.9 579L495.3 579L496.6 579L498 579L499.4 579L500.8 579L502.1 579L503.5 579L504.9 579L506.2 579L507.6 579L509 579L510.4 579L511.7 579L513.1 579L514.5 579L515.8 579L517.2 579L518.6 579L519.9 579L521.3 579L522.7 579L524.1 579L525.4 579L526.8 579L528.2 579L529.5 579L530.9 579L532.3 579L533.7 579L535 579L536.4 579" fill="none" stroke="#00ff00" stroke-width="1.15" stroke-linejoin="round"/>
</g>
<rect x="433.8" y="460.6" width="102.6" height="118.7" fill="none" stroke="#a6a6a6" stroke-width="0.6"/>
<path d="M433.8 579.3v-1.1M433.8 460.6v1.1M454.32 579.3v-1.1M454.32 460.6v1.1M474.84 579.3v-1.1M474.84 460.6v1.1M495.36 579.3v-1.1M495.36 460.6v1.1M515.88 579.3v-1.1M515.88 460.6v1.1M536.4 579.3v-1.1M536.4 460.6v1.1M433.8 460.6h1.1M536.4 460.6h-1.1M433.8 484.19h1.1M536.4 484.19h-1.1M433.8 508.03h1.1M536.4 508.03h-1.1M433.8 531.62h1.1M536.4 531.62h-1.1M433.8 555.46h1.1M536.4 555.46h-1.1M433.8 579.3h1.1M536.4 579.3h-1.1" stroke="#a6a6a6" stroke-width="0.5" fill="none"/>
<text x="433.8" y="587.5" font-size="6.3" text-anchor="middle" fill="#1f1f1f">0</text>
<text x="454.32" y="587.5" font-size="6.3" text-anchor="middle" fill="#1f1f1f">100</text>
<text x="474.84" y="587.5" font-size="6.3" text-anchor="middle" fill="#1f1f1f">200</text>
<text x="495.36" y="587.5" font-size="6.3" text-anchor="middle" fill="#1f1f1f">300</text>
<text x="515.88" y="587.5" font-size="6.3" text-anchor="middle" fill="#1f1f1f">400</text>
<text x="536.4" y="587.5" font-size="6.3" text-anchor="middle" fill="#1f1f1f">500</text>
<text x="431.5" y="463.6" font-size="6.3" text-anchor="end" fill="#1f1f1f">2.5</text>
<text x="431.5" y="487.19" font-size="6.3" text-anchor="end" fill="#1f1f1f">2</text>
<text x="431.5" y="511.03" font-size="6.3" text-anchor="end" fill="#1f1f1f">1.5</text>
<text x="431.5" y="534.62" font-size="6.3" text-anchor="end" fill="#1f1f1f">1</text>
<text x="431.5" y="558.46" font-size="6.3" text-anchor="end" fill="#1f1f1f">0.5</text>
<text x="431.5" y="582.3" font-size="6.3" text-anchor="end" fill="#1f1f1f">0</text>
<text x="485.1" y="595.9" font-size="6.9" text-anchor="middle" fill="#1f1f1f">Iterations</text>
<text transform="translate(420.04 519.95) rotate(-90)" font-size="6.9" text-anchor="middle" fill="#1f1f1f">Fitness</text>
<text x="484.95" y="458.8" font-size="6.95" text-anchor="middle" fill="#1f1f1f" class="t">CEC2017 F28 Dim=100</text>
<text y="459.1" font-size="6.1" fill="#1f1f1f"><tspan x="434.5">×</tspan><tspan x="439.2">10</tspan><tspan x="445.8" dy="-2.6" font-size="4.9">7</tspan></text>
</g>
<g id="legend">
<rect x="118.9" y="613.4" width="314.29999999999995" height="34.80000000000007" fill="#fff" stroke="#333" stroke-width="0.6"/>
<path d="M121 623.0H144" stroke="#ff0000" stroke-width="1.6"/>
<circle cx="132.5" cy="623" r="2.1" fill="#fff" fill-opacity="0.15" stroke="#ff0000" stroke-width="1.53"/>
<text x="145.8" y="627.8" font-size="13.4" fill="#000" stroke="#000" stroke-width="0.25">IMCOA</text>
<path d="M194.6 623.0H216.6" stroke="#00ffff" stroke-width="1.6"/>
<path d="M205.6 627.32L209.49 619.98L201.71 619.98Z" fill="#00ffff"/>
<text x="218.6" y="627.8" font-size="13.4" fill="#000" stroke="#000" stroke-width="0.25">COA</text>
<path d="M252 623.0H274.4" stroke="#0000ff" stroke-width="1.6"/>
<path d="M263.2 618.68L267.09 626.02L259.31 626.02Z" fill="#0000ff"/>
<text x="277" y="627.8" font-size="13.4" fill="#000" stroke="#000" stroke-width="0.25">DBO</text>
<path d="M311 623.0H333.2" stroke="#ff00ff" stroke-width="1.6"/>
<circle cx="322.1" cy="623" r="2.25" fill="#ff00ff"/>
<text x="335" y="627.8" font-size="13.4" fill="#000" stroke="#000" stroke-width="0.25">TSO</text>
<path d="M372 623.0H391" stroke="#00ff00" stroke-width="1.6" stroke-dasharray="6 6.4"/>
<text x="397.8" y="627.8" font-size="13.4" fill="#000" stroke="#000" stroke-width="0.25">GWO</text>
<path d="M121 640.2H144" stroke="#00ffff" stroke-width="1.6"/>
<text x="145.8" y="645.0" font-size="13.4" fill="#000" stroke="#000" stroke-width="0.25">AO</text>
<path d="M194.6 640.2H216.6" stroke="#0000ff" stroke-width="1.6"/>
<text x="218.6" y="645.0" font-size="13.4" fill="#000" stroke="#000" stroke-width="0.25">SSA</text>
<path d="M252 640.2H274.4" stroke="#ff00ff" stroke-width="1.6"/>
<text x="277" y="645.0" font-size="13.4" fill="#000" stroke="#000" stroke-width="0.25">HHO</text>
<path d="M311 640.2H333.2" stroke="#00ff00" stroke-width="1.6"/>
<text x="335" y="645.0" font-size="13.4" fill="#000" stroke="#000" stroke-width="0.25">RIME</text>
</g>
</svg></body></html>
